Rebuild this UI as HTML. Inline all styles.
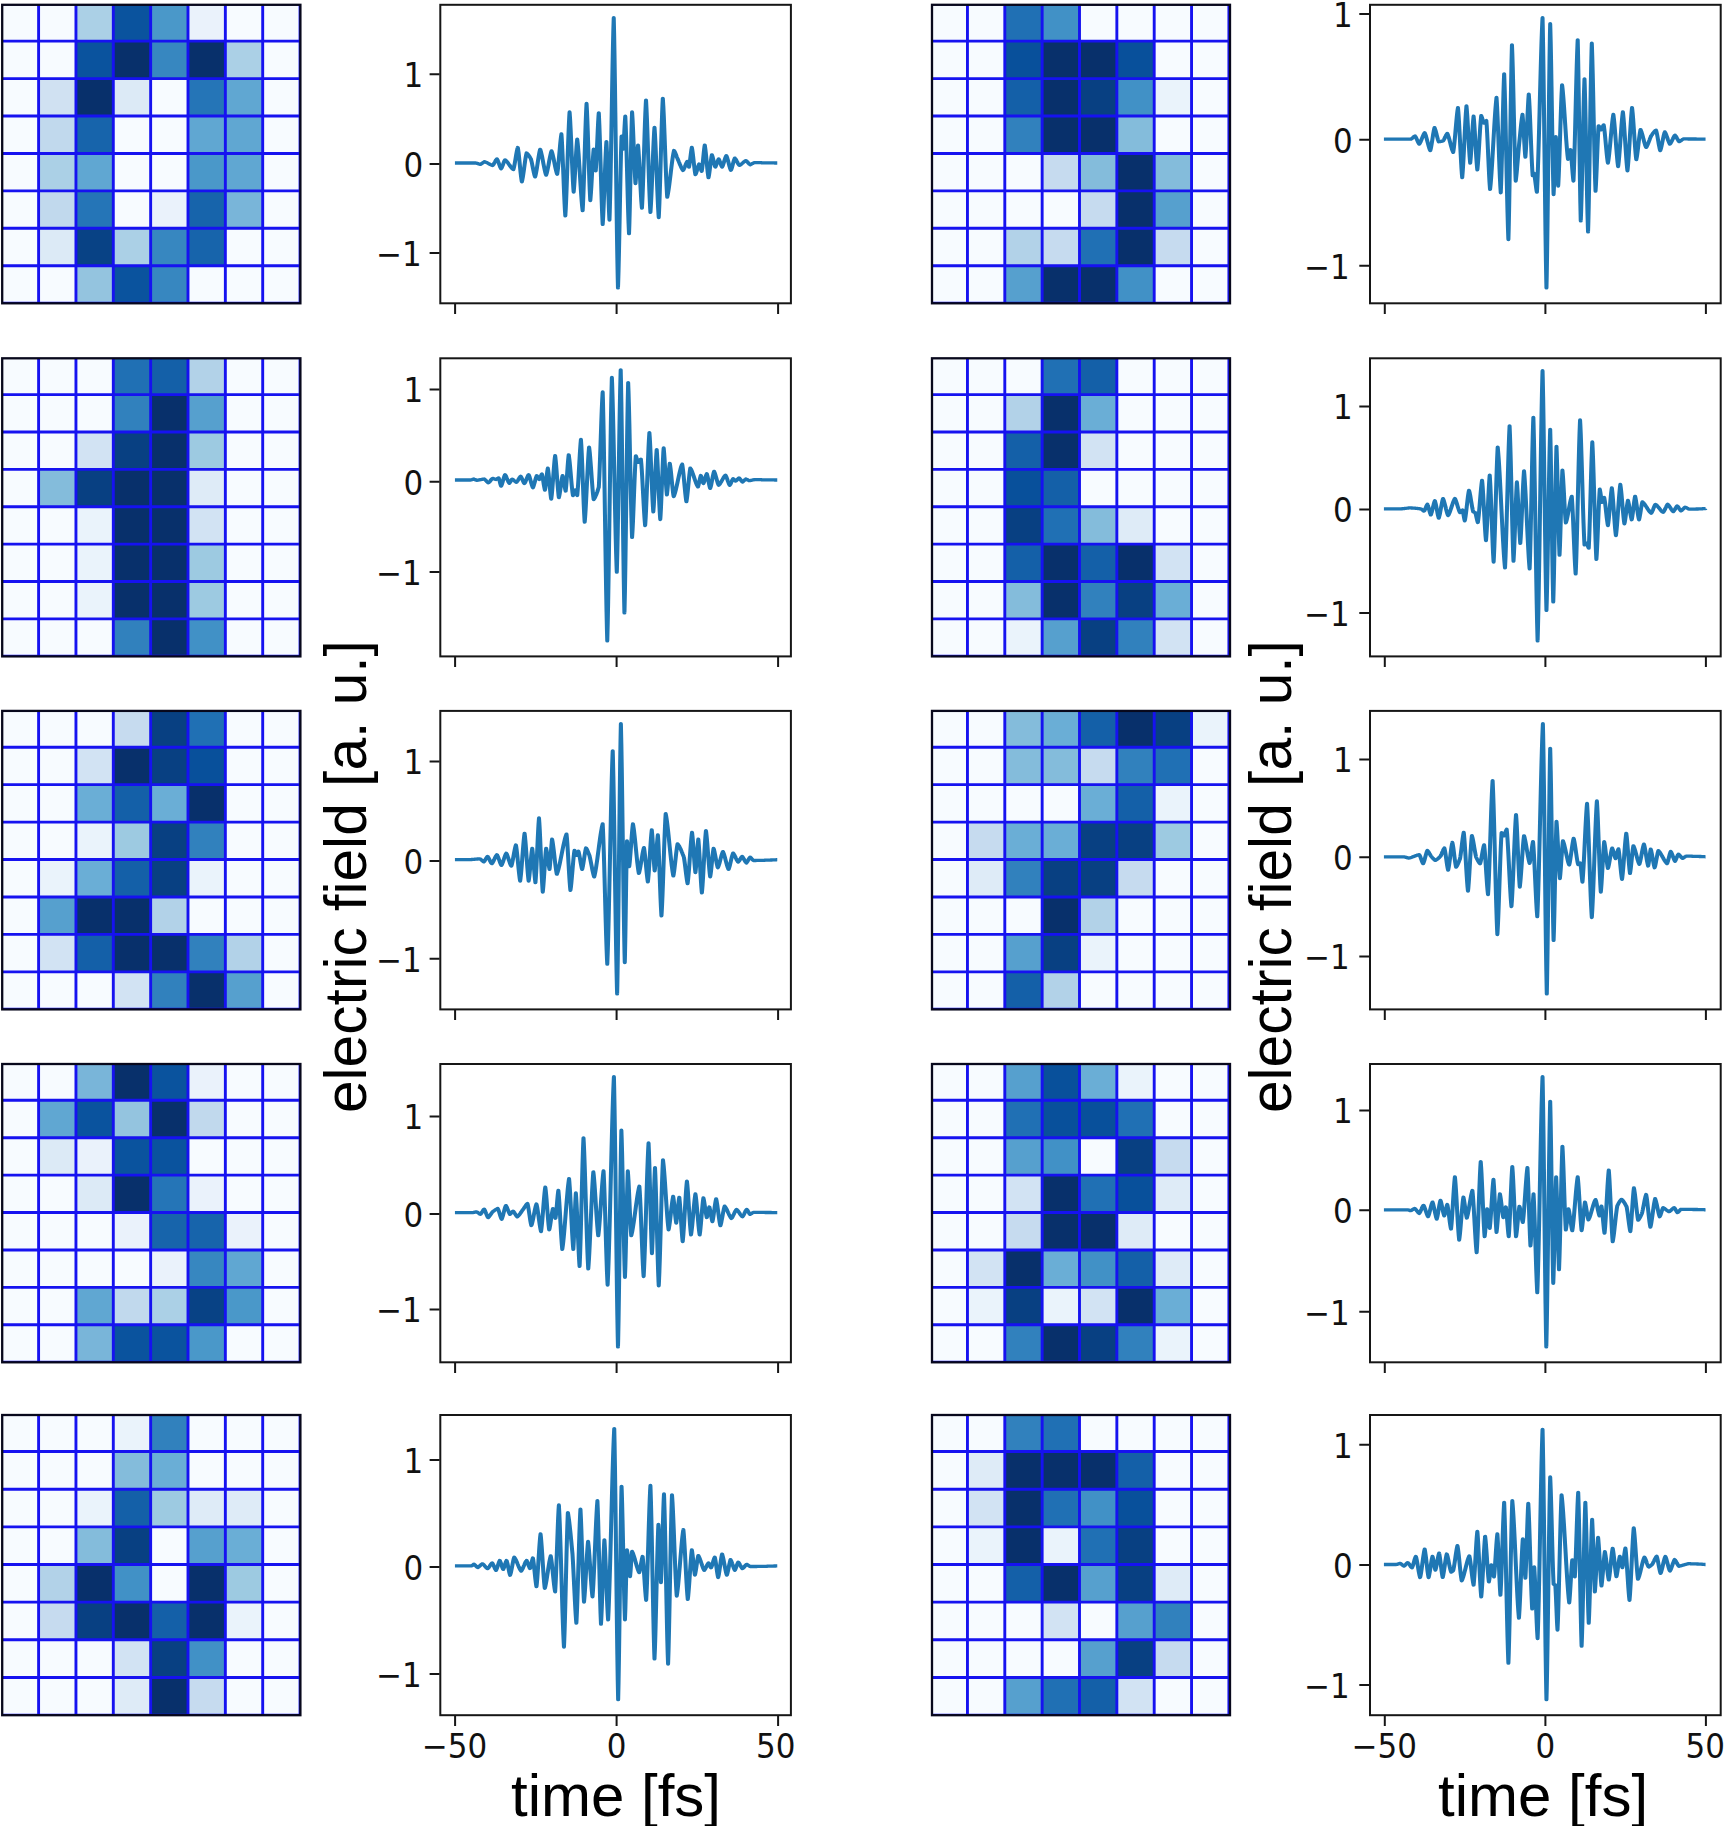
<!DOCTYPE html>
<html lang="en"><head><meta charset="utf-8"><title>Digits encoded as electric field waveforms</title>
<style>html,body{margin:0;padding:0;background:#fff}svg{display:block}.tk{font-family:"DejaVu Sans","Liberation Sans",sans-serif;font-size:31px;fill:#111111}.lb{font-family:"Liberation Sans","DejaVu Sans",sans-serif;font-size:58.7px;fill:#000}</style></head><body>
<svg width="1725" height="1826" viewBox="0 0 1725 1826">
<rect width="1725" height="1826" fill="#ffffff"/>
<clipPath id="hc0"><rect x="2.2" y="4.8" width="298.2" height="298.5"/></clipPath>
<g clip-path="url(#hc0)">
<g shape-rendering="crispEdges">
<rect x="1.25" y="3.7" width="37.85" height="37.94" fill="#f7fbff"/>
<rect x="38.6" y="3.7" width="37.85" height="37.94" fill="#f7fbff"/>
<rect x="75.95" y="3.7" width="37.85" height="37.94" fill="#abd0e6"/>
<rect x="113.3" y="3.7" width="37.85" height="37.94" fill="#0a539e"/>
<rect x="150.65" y="3.7" width="37.85" height="37.94" fill="#4a98c9"/>
<rect x="188" y="3.7" width="37.85" height="37.94" fill="#eaf2fb"/>
<rect x="225.35" y="3.7" width="37.85" height="37.94" fill="#f7fbff"/>
<rect x="262.7" y="3.7" width="37.85" height="37.94" fill="#f7fbff"/>
<rect x="1.25" y="41.14" width="37.85" height="37.94" fill="#f7fbff"/>
<rect x="38.6" y="41.14" width="37.85" height="37.94" fill="#f7fbff"/>
<rect x="75.95" y="41.14" width="37.85" height="37.94" fill="#0a539e"/>
<rect x="113.3" y="41.14" width="37.85" height="37.94" fill="#08306b"/>
<rect x="150.65" y="41.14" width="37.85" height="37.94" fill="#3787c0"/>
<rect x="188" y="41.14" width="37.85" height="37.94" fill="#08306b"/>
<rect x="225.35" y="41.14" width="37.85" height="37.94" fill="#abd0e6"/>
<rect x="262.7" y="41.14" width="37.85" height="37.94" fill="#f7fbff"/>
<rect x="1.25" y="78.58" width="37.85" height="37.94" fill="#f7fbff"/>
<rect x="38.6" y="78.58" width="37.85" height="37.94" fill="#d0e1f2"/>
<rect x="75.95" y="78.58" width="37.85" height="37.94" fill="#08306b"/>
<rect x="113.3" y="78.58" width="37.85" height="37.94" fill="#dceaf6"/>
<rect x="150.65" y="78.58" width="37.85" height="37.94" fill="#f7fbff"/>
<rect x="188" y="78.58" width="37.85" height="37.94" fill="#2575b7"/>
<rect x="225.35" y="78.58" width="37.85" height="37.94" fill="#60a7d2"/>
<rect x="262.7" y="78.58" width="37.85" height="37.94" fill="#f7fbff"/>
<rect x="1.25" y="116.01" width="37.85" height="37.94" fill="#f7fbff"/>
<rect x="38.6" y="116.01" width="37.85" height="37.94" fill="#c1d9ed"/>
<rect x="75.95" y="116.01" width="37.85" height="37.94" fill="#1764ab"/>
<rect x="113.3" y="116.01" width="37.85" height="37.94" fill="#f7fbff"/>
<rect x="150.65" y="116.01" width="37.85" height="37.94" fill="#f7fbff"/>
<rect x="188" y="116.01" width="37.85" height="37.94" fill="#60a7d2"/>
<rect x="225.35" y="116.01" width="37.85" height="37.94" fill="#60a7d2"/>
<rect x="262.7" y="116.01" width="37.85" height="37.94" fill="#f7fbff"/>
<rect x="1.25" y="153.45" width="37.85" height="37.94" fill="#f7fbff"/>
<rect x="38.6" y="153.45" width="37.85" height="37.94" fill="#abd0e6"/>
<rect x="75.95" y="153.45" width="37.85" height="37.94" fill="#60a7d2"/>
<rect x="113.3" y="153.45" width="37.85" height="37.94" fill="#f7fbff"/>
<rect x="150.65" y="153.45" width="37.85" height="37.94" fill="#f7fbff"/>
<rect x="188" y="153.45" width="37.85" height="37.94" fill="#4a98c9"/>
<rect x="225.35" y="153.45" width="37.85" height="37.94" fill="#60a7d2"/>
<rect x="262.7" y="153.45" width="37.85" height="37.94" fill="#f7fbff"/>
<rect x="1.25" y="190.89" width="37.85" height="37.94" fill="#f7fbff"/>
<rect x="38.6" y="190.89" width="37.85" height="37.94" fill="#c1d9ed"/>
<rect x="75.95" y="190.89" width="37.85" height="37.94" fill="#2575b7"/>
<rect x="113.3" y="190.89" width="37.85" height="37.94" fill="#f7fbff"/>
<rect x="150.65" y="190.89" width="37.85" height="37.94" fill="#eaf2fb"/>
<rect x="188" y="190.89" width="37.85" height="37.94" fill="#1764ab"/>
<rect x="225.35" y="190.89" width="37.85" height="37.94" fill="#79b5d9"/>
<rect x="262.7" y="190.89" width="37.85" height="37.94" fill="#f7fbff"/>
<rect x="1.25" y="228.32" width="37.85" height="37.94" fill="#f7fbff"/>
<rect x="38.6" y="228.32" width="37.85" height="37.94" fill="#dceaf6"/>
<rect x="75.95" y="228.32" width="37.85" height="37.94" fill="#084285"/>
<rect x="113.3" y="228.32" width="37.85" height="37.94" fill="#abd0e6"/>
<rect x="150.65" y="228.32" width="37.85" height="37.94" fill="#3787c0"/>
<rect x="188" y="228.32" width="37.85" height="37.94" fill="#1764ab"/>
<rect x="225.35" y="228.32" width="37.85" height="37.94" fill="#f7fbff"/>
<rect x="262.7" y="228.32" width="37.85" height="37.94" fill="#f7fbff"/>
<rect x="1.25" y="265.76" width="37.85" height="37.94" fill="#f7fbff"/>
<rect x="38.6" y="265.76" width="37.85" height="37.94" fill="#f7fbff"/>
<rect x="75.95" y="265.76" width="37.85" height="37.94" fill="#94c4df"/>
<rect x="113.3" y="265.76" width="37.85" height="37.94" fill="#0a539e"/>
<rect x="150.65" y="265.76" width="37.85" height="37.94" fill="#3787c0"/>
<rect x="188" y="265.76" width="37.85" height="37.94" fill="#f7fbff"/>
<rect x="225.35" y="265.76" width="37.85" height="37.94" fill="#f7fbff"/>
<rect x="262.7" y="265.76" width="37.85" height="37.94" fill="#f7fbff"/>
</g>
<path d="M1.25 1.7V305.2M-0.75 3.7H302.05M38.6 1.7V305.2M-0.75 41.14H302.05M75.95 1.7V305.2M-0.75 78.58H302.05M113.3 1.7V305.2M-0.75 116.01H302.05M150.65 1.7V305.2M-0.75 153.45H302.05M188 1.7V305.2M-0.75 190.89H302.05M225.35 1.7V305.2M-0.75 228.32H302.05M262.7 1.7V305.2M-0.75 265.76H302.05M300.05 1.7V305.2M-0.75 303.2H302.05" stroke="#1612f0" stroke-width="2.9" fill="none"/>
</g>
<rect x="2.2" y="4.8" width="298.2" height="298.5" fill="none" stroke="#08081c" stroke-width="2.3"/>
<path transform="scale(1.22 1)" d="M372.90 163.0 373.23 163.0 373.56 163.0 373.89 163.0 374.22 163.0 374.54 163.0 374.87 163.0 375.20 163.0 375.53 163.0 375.86 163.0 376.18 163.0 376.51 163.0 376.84 163.0 377.17 163.0 377.49 163.0 377.82 163.0 378.15 163.0 378.48 163.0 378.81 163.0 379.13 163.0 379.46 163.0 379.79 163.0 380.12 163.0 380.45 163.0 380.77 163.0 381.10 163.0 381.43 163.0 381.76 163.0 382.08 163.0 382.41 163.0 382.74 163.0 383.07 163.0 383.40 163.0 383.72 163.0 384.05 163.0 384.38 163.0 384.71 163.0 385.04 163.0 385.36 163.0 385.69 163.0 386.02 163.0 386.35 163.0 386.67 163.0 387.00 163.0 387.33 163.0 387.66 163.0 387.99 163.0 388.31 163.0 388.64 163.0 388.97 163.0 389.30 163.0 389.63 163.0 389.89 163.0 389.95 163.0 390.28 163.1 390.61 163.2 390.94 163.3 391.27 163.4 391.59 163.6 391.92 163.7 392.25 163.9 392.58 164.0 392.90 164.1 393.23 164.2 393.56 164.3 393.78 164.3 393.89 164.3 394.22 164.1 394.54 163.9 394.87 163.6 395.20 163.3 395.53 163.0 395.86 162.7 396.18 162.4 396.51 162.1 396.84 161.9 397.12 161.7 397.17 161.7 397.49 161.9 397.82 162.0 398.15 162.2 398.48 162.3 398.81 162.5 399.13 162.7 399.46 162.9 399.79 163.1 400.12 163.4 400.45 163.6 400.77 163.8 401.10 164.0 401.43 164.2 401.76 164.5 402.08 164.7 402.41 164.8 402.74 165.0 403.07 165.2 403.40 165.3 403.72 165.4 403.80 165.5 404.05 165.2 404.38 164.7 404.71 164.0 405.04 163.4 405.36 162.6 405.69 161.9 406.02 161.1 406.35 160.4 406.67 159.8 407.00 159.3 407.28 159.0 407.33 159.0 407.66 159.7 407.99 160.5 408.31 161.5 408.64 162.5 408.97 163.6 409.30 164.8 409.63 165.9 409.95 166.9 410.28 167.7 410.61 168.4 410.76 168.7 410.94 168.4 411.27 167.7 411.59 166.8 411.92 165.8 412.25 164.7 412.58 163.6 412.90 162.5 413.23 161.5 413.56 160.7 413.89 160.0 413.97 159.9 414.22 160.1 414.54 160.4 414.87 160.8 415.20 161.2 415.53 161.7 415.86 162.2 416.18 162.7 416.51 163.2 416.84 163.8 417.17 164.3 417.49 164.9 417.82 165.5 418.15 166.0 418.48 166.6 418.81 167.1 419.13 167.6 419.46 168.1 419.79 168.5 420.12 168.9 420.45 169.2 420.77 169.5 420.79 169.5 421.10 168.3 421.43 166.6 421.76 164.5 422.08 162.3 422.41 159.9 422.74 157.4 423.07 155.0 423.40 152.8 423.72 150.7 424.05 149.0 424.38 147.6 424.40 147.5 424.71 149.6 425.04 152.5 425.36 156.0 425.69 159.9 426.02 164.0 426.35 168.1 426.67 172.0 427.00 175.7 427.33 178.8 427.66 181.3 427.75 181.8 427.99 180.7 428.31 178.7 428.64 176.4 428.97 173.8 429.30 171.0 429.63 168.0 429.95 165.1 430.28 162.2 430.61 159.4 430.94 157.0 431.27 154.9 431.59 153.2 431.64 153.0 431.92 153.3 432.25 153.7 432.58 154.1 432.90 154.6 433.23 155.1 433.56 155.7 433.89 156.3 434.22 156.9 434.54 157.6 434.87 158.3 435.12 158.8 435.20 159.1 435.53 160.6 435.86 162.3 436.18 164.2 436.51 166.2 436.84 168.2 437.17 170.2 437.49 172.1 437.82 173.8 438.15 175.3 438.48 176.6 438.60 176.9 438.81 176.1 439.13 174.5 439.46 172.5 439.79 170.2 440.12 167.7 440.45 165.1 440.77 162.5 441.10 159.8 441.43 157.3 441.76 154.9 442.08 152.8 442.41 150.9 442.74 149.5 442.78 149.3 443.07 150.3 443.40 151.6 443.72 153.2 444.05 155.0 444.38 156.9 444.71 158.9 445.04 161.0 445.36 163.2 445.69 165.3 446.02 167.3 446.35 169.2 446.67 171.0 447.00 172.6 447.33 174.0 447.65 175.1 447.66 175.0 447.99 173.9 448.31 172.4 448.64 170.7 448.97 168.8 449.30 166.8 449.63 164.7 449.95 162.5 450.28 160.3 450.61 158.2 450.94 156.3 451.27 154.5 451.59 152.9 451.92 151.5 452.10 150.9 452.25 151.4 452.58 152.6 452.90 154.0 453.23 155.7 453.56 157.5 453.89 159.4 454.22 161.5 454.54 163.5 454.87 165.5 455.20 167.5 455.53 169.3 455.86 171.0 456.18 172.4 456.51 173.7 456.70 174.2 456.84 173.2 457.17 170.4 457.49 166.8 457.82 162.6 458.15 158.2 458.48 153.6 458.81 149.0 459.13 144.6 459.46 140.6 459.79 137.1 460.12 134.4 460.18 134.0 460.45 138.6 460.77 145.8 461.10 154.5 461.43 164.1 461.76 174.3 462.08 184.5 462.41 194.2 462.74 203.0 463.07 210.5 463.38 215.8 463.40 215.5 463.72 208.8 464.05 200.1 464.38 189.9 464.71 178.7 465.04 166.9 465.36 154.9 465.69 143.3 466.02 132.5 466.35 123.1 466.67 115.3 466.86 112.0 467.00 114.1 467.33 120.2 467.66 127.7 467.99 136.4 468.31 145.7 468.64 155.3 468.97 164.8 469.30 173.7 469.63 181.6 469.95 188.2 470.20 192.0 470.28 191.1 470.61 186.6 470.94 180.8 471.27 174.2 471.59 167.0 471.92 159.8 472.25 152.9 472.58 146.7 472.90 141.7 473.12 139.1 473.23 140.2 473.56 143.9 473.89 148.5 474.22 153.7 474.54 159.5 474.87 165.6 475.20 172.0 475.53 178.4 475.86 184.8 476.18 190.9 476.51 196.6 476.84 201.8 477.17 206.3 477.49 209.9 477.58 210.7 477.82 205.3 478.15 196.0 478.48 184.7 478.81 172.1 479.13 158.8 479.46 145.4 479.79 132.6 480.12 120.9 480.45 111.0 480.77 103.5 480.78 103.5 481.10 110.5 481.43 120.0 481.76 131.1 482.08 143.4 482.41 156.1 482.74 168.5 483.07 180.2 483.40 190.3 483.72 198.3 483.84 200.5 484.05 197.9 484.38 192.7 484.71 186.3 485.04 179.2 485.36 171.8 485.69 164.7 486.02 158.1 486.35 152.6 486.62 149.2 486.67 149.6 487.00 153.2 487.33 158.0 487.66 163.2 487.99 167.8 488.29 170.9 488.31 170.6 488.64 165.1 488.97 157.6 489.30 148.8 489.63 139.6 489.95 130.5 490.28 122.3 490.61 115.6 490.80 112.8 490.94 115.8 491.27 124.7 491.59 135.8 491.92 148.5 492.25 162.2 492.58 176.1 492.90 189.7 493.23 202.3 493.56 213.3 493.89 221.9 494.00 224.3 494.22 220.5 494.54 213.1 494.87 204.0 495.20 193.8 495.53 183.1 495.86 172.3 496.18 162.1 496.51 153.0 496.84 145.5 497.06 141.7 497.17 143.7 497.49 151.9 497.82 162.5 498.15 174.6 498.48 187.1 498.81 199.2 499.13 209.8 499.46 218.0 499.57 220.0 499.79 211.9 500.12 196.4 500.45 177.7 500.77 156.6 501.10 134.0 501.43 110.8 501.76 87.9 502.08 66.2 502.41 46.7 502.74 30.1 503.06 17.7 503.07 18.0 503.40 35.1 503.72 57.5 504.05 83.9 504.38 113.1 504.71 143.9 505.04 175.0 505.36 205.2 505.69 233.4 506.02 258.2 506.35 278.5 506.54 287.9 506.67 283.7 507.00 270.2 507.33 253.2 507.66 233.8 507.99 213.2 508.31 192.5 508.64 172.9 508.97 155.6 509.30 141.6 509.46 136.2 509.63 137.2 509.95 140.3 510.28 144.0 510.61 147.3 510.86 149.1 510.94 148.1 511.27 142.4 511.59 135.0 511.92 127.2 512.25 120.3 512.53 116.2 512.58 117.3 512.90 126.4 513.23 138.2 513.56 152.0 513.89 166.9 514.22 182.3 514.54 197.3 514.87 211.1 515.20 223.0 515.53 232.2 515.59 233.6 515.86 224.8 516.18 210.0 516.51 192.2 516.84 173.0 517.17 153.7 517.49 135.9 517.82 121.0 518.09 112.0 518.15 112.8 518.48 119.1 518.81 127.3 519.13 136.8 519.46 147.0 519.79 157.2 520.12 166.8 520.45 175.3 520.77 181.9 520.88 183.5 521.10 180.7 521.43 175.0 521.76 168.0 522.08 160.6 522.41 153.7 522.74 147.9 522.97 145.1 523.07 146.3 523.40 151.1 523.72 157.3 524.05 164.4 524.38 172.1 524.71 180.0 525.04 187.7 525.36 194.9 525.69 201.3 526.02 206.3 526.17 208.1 526.35 204.5 526.67 196.1 527.00 185.7 527.33 173.9 527.66 161.2 527.99 148.2 528.31 135.5 528.64 123.6 528.97 113.0 529.30 104.4 529.51 100.1 529.63 102.2 529.95 109.8 530.28 119.2 530.61 130.1 530.94 141.9 531.27 154.2 531.59 166.6 531.92 178.7 532.25 189.9 532.58 199.8 532.90 208.0 533.13 212.4 533.23 210.8 533.56 204.5 533.89 196.7 534.22 187.6 534.54 177.7 534.87 167.5 535.20 157.4 535.53 147.8 535.86 139.2 536.18 132.0 536.47 127.3 536.51 127.9 536.84 133.8 537.17 141.5 537.49 150.4 537.82 160.2 538.15 170.5 538.48 180.9 538.81 191.0 539.13 200.2 539.46 208.4 539.79 215.0 539.95 217.5 540.12 213.7 540.45 204.5 540.77 193.1 541.10 180.1 541.43 166.1 541.76 151.9 542.08 137.8 542.41 124.7 542.74 113.0 543.07 103.4 543.29 98.4 543.40 100.1 543.72 106.7 544.05 114.9 544.38 124.5 544.71 134.8 545.04 145.7 545.36 156.6 545.69 167.2 546.02 177.1 546.35 185.8 546.67 193.1 546.91 197.1 547.00 196.6 547.33 194.8 547.66 192.6 547.99 190.1 548.31 187.3 548.64 184.3 548.97 181.1 549.30 177.8 549.63 174.5 549.95 171.1 550.28 167.8 550.61 164.6 550.94 161.5 551.27 158.6 551.59 156.0 551.92 153.7 552.25 151.7 552.47 150.5 552.58 150.7 552.90 151.3 553.23 152.1 553.56 153.0 553.89 154.0 554.22 155.0 554.54 156.1 554.87 157.2 555.20 158.2 555.53 159.2 555.68 159.6 555.86 160.1 556.18 161.0 556.51 162.0 556.84 162.9 557.17 163.9 557.49 164.9 557.82 165.8 558.15 166.7 558.48 167.6 558.81 168.4 559.13 169.1 559.46 169.8 559.79 170.3 559.85 170.4 560.12 170.0 560.45 169.3 560.77 168.4 561.10 167.5 561.43 166.5 561.76 165.4 562.08 164.4 562.41 163.5 562.74 162.6 563.07 161.9 563.33 161.5 563.40 161.6 563.72 162.8 564.05 164.4 564.38 166.0 564.71 167.1 564.72 167.1 565.04 165.3 565.36 162.6 565.69 159.4 566.02 156.1 566.35 152.9 566.67 150.1 567.00 147.9 567.09 147.4 567.33 148.9 567.66 151.6 567.99 154.8 568.31 158.3 568.64 162.1 568.97 165.7 569.30 169.1 569.63 172.0 569.95 174.3 570.01 174.6 570.28 174.0 570.61 173.0 570.94 171.8 571.27 170.5 571.59 169.1 571.92 167.8 572.25 166.5 572.58 165.4 572.90 164.4 573.07 164.1 573.23 164.4 573.56 165.4 573.89 166.7 574.22 168.1 574.54 169.4 574.87 170.6 575.16 171.3 575.20 171.1 575.53 168.5 575.86 165.1 576.18 161.1 576.51 157.0 576.84 152.9 577.17 149.2 577.49 146.2 577.67 145.1 577.82 146.1 578.15 148.9 578.48 152.4 578.81 156.3 579.13 160.5 579.46 164.8 579.79 168.9 580.12 172.6 580.45 175.6 580.73 177.7 580.77 177.5 581.10 175.5 581.43 172.9 581.76 169.9 582.08 166.6 582.41 163.4 582.74 160.3 583.07 157.6 583.40 155.5 583.51 154.9 583.72 155.5 584.05 156.7 584.38 158.2 584.71 159.9 585.04 161.6 585.36 163.4 585.69 164.9 586.02 166.2 586.30 167.0 586.35 167.0 586.67 166.3 587.00 165.3 587.33 164.3 587.66 163.1 587.99 162.0 588.31 160.9 588.64 159.9 588.97 159.2 589.08 159.0 589.30 159.4 589.63 160.2 589.95 161.2 590.28 162.3 590.61 163.5 590.94 164.6 591.27 165.7 591.59 166.5 591.87 167.0 591.92 166.9 592.25 166.2 592.58 165.2 592.90 164.1 593.23 162.8 593.56 161.5 593.89 160.2 594.22 159.0 594.54 157.8 594.87 156.8 595.20 156.0 595.34 155.7 595.53 156.1 595.86 157.1 596.18 158.3 596.51 159.7 596.84 161.2 597.17 162.7 597.49 164.3 597.82 165.8 598.15 167.2 598.48 168.5 598.81 169.6 599.10 170.3 599.13 170.3 599.46 169.4 599.79 168.2 600.12 166.9 600.45 165.4 600.77 163.9 601.10 162.4 601.43 161.0 601.76 159.7 602.08 158.7 602.30 158.1 602.41 158.3 602.74 158.7 603.07 159.3 603.40 160.0 603.72 160.7 604.05 161.5 604.38 162.2 604.71 163.0 605.04 163.7 605.36 164.4 605.69 164.9 606.02 165.4 606.06 165.4 606.35 165.3 606.67 165.0 607.00 164.8 607.33 164.5 607.66 164.1 607.99 163.8 608.31 163.4 608.64 163.1 608.97 162.7 609.30 162.4 609.63 162.0 609.95 161.7 610.28 161.4 610.61 161.1 610.94 160.8 611.27 160.6 611.35 160.6 611.59 160.8 611.92 161.1 612.25 161.5 612.58 161.9 612.90 162.4 613.23 162.8 613.56 163.3 613.89 163.7 614.22 164.1 614.54 164.4 614.83 164.7 614.87 164.6 615.20 164.5 615.53 164.4 615.86 164.2 616.18 163.9 616.51 163.7 616.84 163.5 617.17 163.3 617.49 163.1 617.82 162.9 618.15 162.7 618.31 162.7 618.48 162.7 618.81 162.7 619.13 162.7 619.46 162.7 619.79 162.7 620.12 162.7 620.45 162.7 620.77 162.7 621.10 162.7 621.43 162.7 621.76 162.7 622.08 162.7 622.41 162.7 622.74 162.7 623.07 162.7 623.40 162.7 623.72 162.7 624.05 162.7 624.38 162.8 624.71 162.8 625.04 162.8 625.36 162.8 625.69 162.8 626.02 162.8 626.35 162.8 626.67 162.8 627.00 162.8 627.33 162.8 627.66 162.8 627.99 162.8 628.31 162.8 628.64 162.8 628.97 162.8 629.30 162.8 629.63 162.8 629.95 162.8 630.28 162.8 630.61 162.8 630.94 162.9 631.27 162.9 631.59 162.9 631.92 162.9 632.25 162.9 632.58 162.9 632.90 162.9 633.23 162.9 633.56 162.9 633.89 162.9 634.22 162.9 634.54 162.9 634.87 163.0 635.20 163.0 635.53 163.0 635.86 163.0 636.18 163.0 636.51 163.0 636.84 163.0 637.10 163.0" fill="none" stroke="#1f77b4" stroke-width="3.3" stroke-linejoin="round" stroke-linecap="butt"/>
<rect x="440.3" y="4.8" width="350.6" height="298.5" fill="none" stroke="#161616" stroke-width="2"/>
<path d="M455.1 304v10M616.6 304v10M778.1 304v10M439.6 74.2h-10M439.6 164.1h-10M439.6 253.1h-10" stroke="#161616" stroke-width="2" fill="none"/>
<text class="tk" transform="translate(423.1 87.03) scale(1 1.1)" text-anchor="end">1</text>
<text class="tk" transform="translate(423.1 176.93) scale(1 1.1)" text-anchor="end">0</text>
<text class="tk" transform="translate(421.6 265.93) scale(1 1.1)" text-anchor="end">−1</text>
<clipPath id="hc1"><rect x="932" y="4.8" width="298" height="298.5"/></clipPath>
<g clip-path="url(#hc1)">
<g shape-rendering="crispEdges">
<rect x="930.1" y="3.7" width="37.85" height="37.94" fill="#f7fbff"/>
<rect x="967.45" y="3.7" width="37.85" height="37.94" fill="#f7fbff"/>
<rect x="1004.8" y="3.7" width="37.85" height="37.94" fill="#2070b4"/>
<rect x="1042.15" y="3.7" width="37.85" height="37.94" fill="#4191c6"/>
<rect x="1079.5" y="3.7" width="37.85" height="37.94" fill="#f7fbff"/>
<rect x="1116.85" y="3.7" width="37.85" height="37.94" fill="#f7fbff"/>
<rect x="1154.2" y="3.7" width="37.85" height="37.94" fill="#f7fbff"/>
<rect x="1191.55" y="3.7" width="37.85" height="37.94" fill="#f7fbff"/>
<rect x="930.1" y="41.14" width="37.85" height="37.94" fill="#f7fbff"/>
<rect x="967.45" y="41.14" width="37.85" height="37.94" fill="#f7fbff"/>
<rect x="1004.8" y="41.14" width="37.85" height="37.94" fill="#08509b"/>
<rect x="1042.15" y="41.14" width="37.85" height="37.94" fill="#08306b"/>
<rect x="1079.5" y="41.14" width="37.85" height="37.94" fill="#08306b"/>
<rect x="1116.85" y="41.14" width="37.85" height="37.94" fill="#08509b"/>
<rect x="1154.2" y="41.14" width="37.85" height="37.94" fill="#f7fbff"/>
<rect x="1191.55" y="41.14" width="37.85" height="37.94" fill="#f7fbff"/>
<rect x="930.1" y="78.58" width="37.85" height="37.94" fill="#f7fbff"/>
<rect x="967.45" y="78.58" width="37.85" height="37.94" fill="#f7fbff"/>
<rect x="1004.8" y="78.58" width="37.85" height="37.94" fill="#1460a8"/>
<rect x="1042.15" y="78.58" width="37.85" height="37.94" fill="#08306b"/>
<rect x="1079.5" y="78.58" width="37.85" height="37.94" fill="#084082"/>
<rect x="1116.85" y="78.58" width="37.85" height="37.94" fill="#4191c6"/>
<rect x="1154.2" y="78.58" width="37.85" height="37.94" fill="#eaf3fb"/>
<rect x="1191.55" y="78.58" width="37.85" height="37.94" fill="#f7fbff"/>
<rect x="930.1" y="116.01" width="37.85" height="37.94" fill="#f7fbff"/>
<rect x="967.45" y="116.01" width="37.85" height="37.94" fill="#f7fbff"/>
<rect x="1004.8" y="116.01" width="37.85" height="37.94" fill="#3181bd"/>
<rect x="1042.15" y="116.01" width="37.85" height="37.94" fill="#08306b"/>
<rect x="1079.5" y="116.01" width="37.85" height="37.94" fill="#08306b"/>
<rect x="1116.85" y="116.01" width="37.85" height="37.94" fill="#84bcdb"/>
<rect x="1154.2" y="116.01" width="37.85" height="37.94" fill="#f7fbff"/>
<rect x="1191.55" y="116.01" width="37.85" height="37.94" fill="#f7fbff"/>
<rect x="930.1" y="153.45" width="37.85" height="37.94" fill="#f7fbff"/>
<rect x="967.45" y="153.45" width="37.85" height="37.94" fill="#f7fbff"/>
<rect x="1004.8" y="153.45" width="37.85" height="37.94" fill="#f7fbff"/>
<rect x="1042.15" y="153.45" width="37.85" height="37.94" fill="#c6dbef"/>
<rect x="1079.5" y="153.45" width="37.85" height="37.94" fill="#84bcdb"/>
<rect x="1116.85" y="153.45" width="37.85" height="37.94" fill="#08306b"/>
<rect x="1154.2" y="153.45" width="37.85" height="37.94" fill="#84bcdb"/>
<rect x="1191.55" y="153.45" width="37.85" height="37.94" fill="#f7fbff"/>
<rect x="930.1" y="190.89" width="37.85" height="37.94" fill="#f7fbff"/>
<rect x="967.45" y="190.89" width="37.85" height="37.94" fill="#f7fbff"/>
<rect x="1004.8" y="190.89" width="37.85" height="37.94" fill="#f7fbff"/>
<rect x="1042.15" y="190.89" width="37.85" height="37.94" fill="#f7fbff"/>
<rect x="1079.5" y="190.89" width="37.85" height="37.94" fill="#c6dbef"/>
<rect x="1116.85" y="190.89" width="37.85" height="37.94" fill="#08306b"/>
<rect x="1154.2" y="190.89" width="37.85" height="37.94" fill="#56a0ce"/>
<rect x="1191.55" y="190.89" width="37.85" height="37.94" fill="#f7fbff"/>
<rect x="930.1" y="228.32" width="37.85" height="37.94" fill="#f7fbff"/>
<rect x="967.45" y="228.32" width="37.85" height="37.94" fill="#f7fbff"/>
<rect x="1004.8" y="228.32" width="37.85" height="37.94" fill="#b2d2e8"/>
<rect x="1042.15" y="228.32" width="37.85" height="37.94" fill="#c6dbef"/>
<rect x="1079.5" y="228.32" width="37.85" height="37.94" fill="#2070b4"/>
<rect x="1116.85" y="228.32" width="37.85" height="37.94" fill="#08306b"/>
<rect x="1154.2" y="228.32" width="37.85" height="37.94" fill="#c6dbef"/>
<rect x="1191.55" y="228.32" width="37.85" height="37.94" fill="#f7fbff"/>
<rect x="930.1" y="265.76" width="37.85" height="37.94" fill="#f7fbff"/>
<rect x="967.45" y="265.76" width="37.85" height="37.94" fill="#f7fbff"/>
<rect x="1004.8" y="265.76" width="37.85" height="37.94" fill="#56a0ce"/>
<rect x="1042.15" y="265.76" width="37.85" height="37.94" fill="#08306b"/>
<rect x="1079.5" y="265.76" width="37.85" height="37.94" fill="#08306b"/>
<rect x="1116.85" y="265.76" width="37.85" height="37.94" fill="#4191c6"/>
<rect x="1154.2" y="265.76" width="37.85" height="37.94" fill="#f7fbff"/>
<rect x="1191.55" y="265.76" width="37.85" height="37.94" fill="#f7fbff"/>
</g>
<path d="M930.1 1.7V305.2M928.1 3.7H1230.9M967.45 1.7V305.2M928.1 41.14H1230.9M1004.8 1.7V305.2M928.1 78.58H1230.9M1042.15 1.7V305.2M928.1 116.01H1230.9M1079.5 1.7V305.2M928.1 153.45H1230.9M1116.85 1.7V305.2M928.1 190.89H1230.9M1154.2 1.7V305.2M928.1 228.32H1230.9M1191.55 1.7V305.2M928.1 265.76H1230.9M1228.9 1.7V305.2M928.1 303.2H1230.9" stroke="#1612f0" stroke-width="2.9" fill="none"/>
</g>
<rect x="932" y="4.8" width="298" height="298.5" fill="none" stroke="#08081c" stroke-width="2.3"/>
<path transform="scale(1.22 1)" d="M1134.36 139.2 1134.69 139.2 1135.02 139.2 1135.35 139.2 1135.68 139.2 1136.00 139.2 1136.33 139.2 1136.66 139.2 1136.99 139.2 1137.32 139.2 1137.64 139.2 1137.97 139.2 1138.30 139.2 1138.63 139.2 1138.95 139.2 1139.28 139.2 1139.61 139.2 1139.94 139.2 1140.27 139.2 1140.59 139.2 1140.92 139.2 1141.25 139.2 1141.58 139.2 1141.91 139.2 1142.23 139.2 1142.56 139.2 1142.89 139.2 1143.22 139.2 1143.54 139.2 1143.87 139.2 1144.20 139.2 1144.53 139.2 1144.86 139.2 1145.18 139.2 1145.51 139.2 1145.84 139.2 1146.17 139.2 1146.50 139.2 1146.82 139.2 1147.15 139.2 1147.48 139.2 1147.81 139.2 1148.13 139.2 1148.46 139.2 1148.79 139.2 1149.12 139.2 1149.45 139.2 1149.77 139.2 1150.10 139.2 1150.43 139.2 1150.76 139.2 1151.09 139.2 1151.41 139.2 1151.74 139.2 1152.07 139.2 1152.40 139.2 1152.73 139.2 1153.05 139.2 1153.38 139.2 1153.71 139.2 1154.04 139.2 1154.36 139.2 1154.69 139.2 1155.02 139.2 1155.35 139.2 1155.68 139.2 1156.00 139.2 1156.33 139.2 1156.36 139.2 1156.66 139.1 1156.99 138.8 1157.32 138.5 1157.64 138.1 1157.97 137.7 1158.30 137.4 1158.63 137.0 1158.95 136.6 1159.28 136.3 1159.61 136.1 1159.84 135.9 1159.94 136.1 1160.27 136.7 1160.59 137.4 1160.92 138.2 1161.25 139.1 1161.58 140.0 1161.91 141.0 1162.23 141.9 1162.56 142.7 1162.89 143.4 1163.22 144.0 1163.32 144.1 1163.54 143.8 1163.87 143.1 1164.20 142.3 1164.53 141.5 1164.86 140.5 1165.18 139.6 1165.51 138.5 1165.84 137.5 1166.17 136.5 1166.50 135.6 1166.82 134.7 1167.15 133.9 1167.48 133.2 1167.77 132.8 1167.81 132.9 1168.13 133.7 1168.46 134.7 1168.79 136.0 1169.12 137.3 1169.45 138.8 1169.77 140.3 1170.10 141.9 1170.43 143.4 1170.76 144.9 1171.09 146.4 1171.41 147.7 1171.74 148.9 1172.07 149.9 1172.36 150.6 1172.40 150.5 1172.73 149.0 1173.05 147.1 1173.38 144.8 1173.71 142.3 1174.04 139.7 1174.36 137.1 1174.69 134.5 1175.02 132.2 1175.35 130.1 1175.68 128.4 1175.84 127.7 1176.00 128.1 1176.33 129.2 1176.66 130.4 1176.99 131.9 1177.32 133.4 1177.64 135.1 1177.97 136.7 1178.30 138.2 1178.63 139.6 1178.95 140.8 1179.28 141.7 1179.32 141.8 1179.61 141.7 1179.94 141.7 1180.27 141.6 1180.59 141.5 1180.92 141.5 1181.25 141.4 1181.58 141.3 1181.91 141.2 1182.23 141.1 1182.56 141.0 1182.80 140.9 1182.89 140.8 1183.22 140.3 1183.54 139.6 1183.87 138.8 1184.20 138.0 1184.53 137.2 1184.86 136.3 1185.18 135.5 1185.51 134.8 1185.84 134.2 1186.17 133.7 1186.28 133.5 1186.50 134.0 1186.82 134.9 1187.15 136.1 1187.48 137.3 1187.81 138.7 1188.13 140.2 1188.46 141.7 1188.79 143.2 1189.12 144.8 1189.45 146.3 1189.77 147.7 1190.10 149.1 1190.43 150.3 1190.76 151.3 1191.09 152.2 1191.15 152.3 1191.41 150.4 1191.74 147.4 1192.07 143.7 1192.40 139.7 1192.73 135.3 1193.05 130.7 1193.38 126.1 1193.71 121.7 1194.04 117.5 1194.36 113.7 1194.69 110.5 1195.02 107.9 1195.05 107.7 1195.35 111.6 1195.68 117.3 1196.00 124.0 1196.33 131.5 1196.66 139.4 1196.99 147.5 1197.32 155.3 1197.64 162.7 1197.97 169.2 1198.30 174.6 1198.53 177.6 1198.63 176.4 1198.95 171.5 1199.28 165.2 1199.61 158.0 1199.94 150.1 1200.27 141.9 1200.59 133.7 1200.92 125.8 1201.25 118.6 1201.58 112.3 1201.91 107.3 1202.01 106.0 1202.23 108.7 1202.56 113.9 1202.89 120.2 1203.22 127.2 1203.54 134.6 1203.87 142.1 1204.20 149.1 1204.53 155.4 1204.86 160.5 1205.07 163.1 1205.18 162.0 1205.51 157.6 1205.84 152.1 1206.17 145.7 1206.50 139.0 1206.82 132.4 1207.15 126.1 1207.48 120.8 1207.81 116.7 1207.86 116.2 1208.13 119.5 1208.46 124.5 1208.79 130.6 1209.12 137.3 1209.45 144.3 1209.77 151.3 1210.10 157.8 1210.43 163.6 1210.76 168.2 1210.92 169.9 1211.09 168.2 1211.41 163.7 1211.74 158.2 1212.07 152.0 1212.40 145.3 1212.73 138.5 1213.05 131.9 1213.38 125.9 1213.71 120.6 1214.04 116.5 1214.12 115.7 1214.36 116.3 1214.69 117.4 1215.02 118.7 1215.35 120.2 1215.68 121.5 1216.00 122.6 1216.21 123.0 1216.33 123.0 1216.66 122.6 1216.99 122.2 1217.32 121.8 1217.64 121.3 1217.97 120.9 1218.30 120.6 1218.30 120.7 1218.63 125.7 1218.95 132.5 1219.28 140.4 1219.61 149.1 1219.94 158.1 1220.27 166.9 1220.59 175.2 1220.92 182.4 1221.25 188.0 1221.36 189.4 1221.58 187.1 1221.91 183.0 1222.23 178.1 1222.56 172.5 1222.89 166.4 1223.22 159.9 1223.54 153.2 1223.87 146.3 1224.20 139.3 1224.53 132.4 1224.86 125.7 1225.18 119.3 1225.51 113.3 1225.84 107.8 1226.17 103.1 1226.50 99.1 1226.65 97.5 1226.82 100.5 1227.15 107.6 1227.48 116.3 1227.81 126.1 1228.13 136.8 1228.46 147.7 1228.79 158.6 1229.12 168.9 1229.45 178.3 1229.77 186.3 1230.10 192.5 1230.13 192.8 1230.43 183.9 1230.76 171.0 1231.09 155.6 1231.41 138.8 1231.74 121.7 1232.07 105.3 1232.40 90.6 1232.73 78.8 1232.91 73.8 1233.05 77.9 1233.38 89.8 1233.71 104.6 1234.04 121.6 1234.36 140.0 1234.69 159.1 1235.02 178.0 1235.35 196.2 1235.68 212.7 1236.00 226.9 1236.33 237.9 1236.39 239.5 1236.66 227.6 1236.99 208.2 1237.32 184.9 1237.64 159.2 1237.97 132.5 1238.30 106.4 1238.63 82.3 1238.95 61.7 1239.28 46.1 1239.31 44.9 1239.61 53.8 1239.94 66.8 1240.27 82.3 1240.59 99.4 1240.92 117.1 1241.25 134.7 1241.58 151.1 1241.91 165.6 1242.23 177.1 1242.38 181.0 1242.56 179.5 1242.89 176.2 1243.22 172.2 1243.54 167.7 1243.87 162.9 1244.20 158.0 1244.53 153.1 1244.86 148.4 1245.16 144.3 1245.18 144.1 1245.51 140.2 1245.84 136.3 1246.17 132.2 1246.50 128.2 1246.82 124.5 1247.15 121.0 1247.48 117.9 1247.81 115.4 1247.94 114.5 1248.13 116.8 1248.46 122.0 1248.79 128.5 1249.12 135.7 1249.45 142.8 1249.77 149.4 1250.10 154.7 1250.31 157.2 1250.43 155.5 1250.76 149.6 1251.09 142.1 1251.41 133.6 1251.74 124.5 1252.07 115.6 1252.40 107.2 1252.73 100.1 1253.05 94.7 1253.09 94.1 1253.38 99.0 1253.71 106.3 1254.04 115.0 1254.36 124.7 1254.69 134.9 1255.02 145.0 1255.35 154.7 1255.68 163.4 1256.00 170.8 1256.29 175.7 1256.33 175.6 1256.66 175.0 1256.99 174.1 1257.32 173.4 1257.41 173.3 1257.64 174.5 1257.97 177.0 1258.30 179.9 1258.63 183.1 1258.95 186.2 1259.28 189.1 1259.61 191.4 1259.77 192.2 1259.94 188.5 1260.27 179.5 1260.59 168.6 1260.92 156.1 1261.25 142.5 1261.58 128.0 1261.91 113.0 1262.23 97.8 1262.56 82.8 1262.89 68.2 1263.22 54.5 1263.54 42.0 1263.87 31.0 1264.20 21.9 1264.38 17.7 1264.53 25.2 1264.86 46.9 1265.18 73.9 1265.51 104.8 1265.84 138.0 1266.17 171.8 1266.50 204.8 1266.82 235.3 1267.15 261.8 1267.48 282.7 1267.58 287.9 1267.81 275.6 1268.13 251.7 1268.46 222.5 1268.79 189.9 1269.12 155.5 1269.45 121.1 1269.77 88.5 1270.10 59.4 1270.43 35.6 1270.65 23.7 1270.76 27.8 1271.09 43.6 1271.41 63.9 1271.74 87.0 1272.07 111.4 1272.40 135.8 1272.73 158.4 1273.05 177.9 1273.38 192.8 1273.43 194.5 1273.71 188.0 1274.04 177.0 1274.36 164.4 1274.69 152.0 1275.02 141.5 1275.24 136.6 1275.35 138.3 1275.68 145.5 1276.00 154.8 1276.33 165.0 1276.66 174.6 1276.99 182.6 1277.19 186.0 1277.32 183.6 1277.64 175.6 1277.97 165.6 1278.30 154.1 1278.63 141.7 1278.95 129.0 1279.28 116.6 1279.61 105.1 1279.94 95.1 1280.27 87.2 1280.39 84.8 1280.59 86.7 1280.92 90.4 1281.25 94.8 1281.58 99.8 1281.91 105.3 1282.23 111.1 1282.56 117.1 1282.89 123.3 1283.22 129.4 1283.54 135.3 1283.87 141.0 1284.20 146.3 1284.53 151.1 1284.86 155.3 1285.18 158.7 1285.26 159.3 1285.51 158.5 1285.84 157.1 1286.17 155.3 1286.50 153.5 1286.82 151.7 1287.15 150.3 1287.35 149.7 1287.48 150.8 1287.81 154.4 1288.13 159.0 1288.46 164.2 1288.79 169.5 1289.12 174.4 1289.45 178.5 1289.72 181.0 1289.77 179.6 1290.10 170.2 1290.43 158.1 1290.76 144.0 1291.09 128.6 1291.41 112.5 1291.74 96.2 1292.07 80.6 1292.40 66.1 1292.73 53.5 1293.05 43.3 1293.20 39.8 1293.38 48.5 1293.71 69.1 1294.04 94.6 1294.36 122.9 1294.69 151.8 1295.02 179.0 1295.35 202.5 1295.68 219.9 1295.70 220.9 1296.00 211.4 1296.33 197.7 1296.66 181.5 1296.99 163.7 1297.32 145.1 1297.64 126.8 1297.97 109.7 1298.30 94.6 1298.63 82.7 1298.76 78.9 1298.95 85.2 1299.28 99.6 1299.61 117.3 1299.94 137.2 1300.27 158.1 1300.59 178.8 1300.92 198.2 1301.25 215.2 1301.58 228.5 1301.69 231.9 1301.91 223.2 1302.23 206.2 1302.56 185.4 1302.89 162.1 1303.22 137.5 1303.54 113.0 1303.87 89.7 1304.20 68.9 1304.53 51.9 1304.75 43.2 1304.86 46.3 1305.18 58.5 1305.51 73.9 1305.84 91.6 1306.17 110.6 1306.50 129.9 1306.82 148.6 1307.15 165.7 1307.48 180.2 1307.81 191.1 1307.81 191.1 1308.13 185.1 1308.46 176.8 1308.79 167.1 1309.12 156.7 1309.45 146.4 1309.77 137.1 1310.10 129.4 1310.32 125.8 1310.43 125.9 1310.76 126.5 1311.09 127.1 1311.41 127.9 1311.74 128.7 1312.07 129.3 1312.40 129.8 1312.40 129.8 1312.73 129.2 1313.05 128.5 1313.38 127.6 1313.71 126.6 1314.04 125.8 1314.36 125.1 1314.49 124.9 1314.69 126.3 1315.02 129.2 1315.35 132.7 1315.68 136.7 1316.00 141.0 1316.33 145.4 1316.66 149.7 1316.99 153.8 1317.32 157.6 1317.64 160.7 1317.97 163.1 1317.97 163.1 1318.30 160.8 1318.63 157.9 1318.95 154.5 1319.28 150.7 1319.61 146.6 1319.94 142.3 1320.27 137.9 1320.59 133.6 1320.92 129.3 1321.25 125.3 1321.58 121.7 1321.91 118.5 1322.23 115.8 1322.42 114.5 1322.56 115.6 1322.89 118.8 1323.22 122.8 1323.54 127.4 1323.87 132.4 1324.20 137.7 1324.53 143.0 1324.86 148.3 1325.18 153.3 1325.51 158.0 1325.84 162.0 1326.17 165.3 1326.32 166.5 1326.50 165.0 1326.82 161.6 1327.15 157.3 1327.48 152.4 1327.81 147.1 1328.13 141.6 1328.46 136.0 1328.79 130.5 1329.12 125.2 1329.45 120.4 1329.77 116.3 1330.10 112.9 1330.22 112.0 1330.43 114.0 1330.76 118.1 1331.09 123.0 1331.41 128.6 1331.74 134.6 1332.07 140.8 1332.40 147.1 1332.73 153.1 1333.05 158.8 1333.38 163.8 1333.71 168.1 1333.98 170.8 1334.04 170.2 1334.36 166.4 1334.69 161.5 1335.02 155.8 1335.35 149.6 1335.68 143.0 1336.00 136.2 1336.33 129.6 1336.66 123.3 1336.99 117.6 1337.32 112.6 1337.64 108.6 1337.74 107.7 1337.97 110.0 1338.30 114.0 1338.63 118.9 1338.95 124.3 1339.28 130.2 1339.61 136.2 1339.94 142.1 1340.27 147.6 1340.59 152.6 1340.92 156.8 1341.22 159.7 1341.25 159.6 1341.58 157.6 1341.91 155.1 1342.23 152.1 1342.56 148.8 1342.89 145.4 1343.22 141.9 1343.54 138.5 1343.87 135.4 1344.20 132.7 1344.53 130.4 1344.70 129.6 1344.86 129.9 1345.18 130.9 1345.51 132.0 1345.84 133.3 1346.17 134.7 1346.50 136.1 1346.82 137.7 1347.15 139.2 1347.48 140.8 1347.81 142.3 1348.13 143.7 1348.46 145.0 1348.79 146.1 1349.12 147.0 1349.29 147.4 1349.45 147.2 1349.77 146.5 1350.10 145.8 1350.43 144.9 1350.76 144.0 1351.09 143.0 1351.41 142.0 1351.74 140.9 1352.07 139.9 1352.40 138.8 1352.73 137.8 1353.05 136.9 1353.38 136.1 1353.46 135.8 1353.71 135.4 1354.04 134.9 1354.36 134.3 1354.69 133.7 1355.02 133.2 1355.35 132.6 1355.68 132.1 1356.00 131.6 1356.33 131.2 1356.66 130.8 1356.99 130.4 1357.32 130.1 1357.36 130.1 1357.64 131.2 1357.97 132.8 1358.30 134.8 1358.63 136.9 1358.95 139.3 1359.28 141.6 1359.61 144.0 1359.94 146.1 1360.27 148.1 1360.59 149.7 1360.84 150.6 1360.92 150.4 1361.25 149.2 1361.58 147.8 1361.91 146.1 1362.23 144.2 1362.56 142.2 1362.89 140.3 1363.22 138.3 1363.54 136.4 1363.87 134.8 1364.20 133.3 1364.53 132.2 1364.60 131.9 1364.86 132.4 1365.18 133.2 1365.51 134.1 1365.84 135.1 1366.17 136.2 1366.50 137.3 1366.82 138.5 1367.15 139.7 1367.48 140.8 1367.81 141.8 1368.13 142.7 1368.46 143.5 1368.78 144.1 1368.79 144.1 1369.12 143.6 1369.45 143.0 1369.77 142.3 1370.10 141.6 1370.43 140.8 1370.76 139.9 1371.09 139.1 1371.41 138.2 1371.74 137.4 1372.07 136.7 1372.40 136.0 1372.73 135.5 1372.95 135.2 1373.05 135.3 1373.38 135.8 1373.71 136.3 1374.04 137.0 1374.36 137.7 1374.69 138.5 1375.02 139.2 1375.35 139.9 1375.68 140.6 1376.00 141.2 1376.33 141.6 1376.43 141.7 1376.66 141.6 1376.99 141.4 1377.32 141.1 1377.64 140.8 1377.97 140.5 1378.30 140.2 1378.63 139.9 1378.95 139.6 1379.28 139.3 1379.61 139.1 1379.91 138.9 1379.94 138.9 1380.27 138.9 1380.59 138.9 1380.92 138.9 1381.25 138.9 1381.58 138.9 1381.91 138.9 1382.23 138.9 1382.56 138.9 1382.89 138.9 1383.22 138.9 1383.54 139.0 1383.87 139.0 1384.20 139.0 1384.53 139.0 1384.86 139.0 1385.18 139.0 1385.51 139.0 1385.84 139.0 1386.17 139.0 1386.50 139.0 1386.82 139.0 1387.15 139.0 1387.48 139.0 1387.81 139.0 1388.13 139.0 1388.46 139.0 1388.79 139.0 1389.12 139.0 1389.45 139.0 1389.77 139.0 1390.10 139.0 1390.43 139.0 1390.76 139.1 1391.09 139.1 1391.41 139.1 1391.74 139.1 1392.07 139.1 1392.40 139.1 1392.73 139.1 1393.05 139.1 1393.38 139.1 1393.71 139.1 1394.04 139.1 1394.36 139.1 1394.69 139.1 1395.02 139.2 1395.35 139.2 1395.68 139.2 1396.00 139.2 1396.33 139.2 1396.66 139.2 1396.99 139.2 1397.32 139.2 1397.64 139.2 1397.97 139.2 1398.00 139.2" fill="none" stroke="#1f77b4" stroke-width="3.3" stroke-linejoin="round" stroke-linecap="butt"/>
<rect x="1370" y="4.8" width="350.7" height="298.5" fill="none" stroke="#161616" stroke-width="2"/>
<path d="M1384.8 304v10M1545.4 304v10M1705.9 304v10M1369.3 13.9h-10M1369.3 139.8h-10M1369.3 265.8h-10" stroke="#161616" stroke-width="2" fill="none"/>
<text class="tk" transform="translate(1352.8 26.73) scale(1 1.1)" text-anchor="end">1</text>
<text class="tk" transform="translate(1352.8 152.63) scale(1 1.1)" text-anchor="end">0</text>
<text class="tk" transform="translate(1349.6 278.63) scale(1 1.1)" text-anchor="end">−1</text>
<clipPath id="hc2"><rect x="2.2" y="358.3" width="298.2" height="298.1"/></clipPath>
<g clip-path="url(#hc2)">
<g shape-rendering="crispEdges">
<rect x="1.25" y="357.2" width="37.85" height="37.89" fill="#f7fbff"/>
<rect x="38.6" y="357.2" width="37.85" height="37.89" fill="#f7fbff"/>
<rect x="75.95" y="357.2" width="37.85" height="37.89" fill="#f7fbff"/>
<rect x="113.3" y="357.2" width="37.85" height="37.89" fill="#2070b4"/>
<rect x="150.65" y="357.2" width="37.85" height="37.89" fill="#1460a8"/>
<rect x="188" y="357.2" width="37.85" height="37.89" fill="#b2d2e8"/>
<rect x="225.35" y="357.2" width="37.85" height="37.89" fill="#f7fbff"/>
<rect x="262.7" y="357.2" width="37.85" height="37.89" fill="#f7fbff"/>
<rect x="1.25" y="394.59" width="37.85" height="37.89" fill="#f7fbff"/>
<rect x="38.6" y="394.59" width="37.85" height="37.89" fill="#f7fbff"/>
<rect x="75.95" y="394.59" width="37.85" height="37.89" fill="#f7fbff"/>
<rect x="113.3" y="394.59" width="37.85" height="37.89" fill="#3181bd"/>
<rect x="150.65" y="394.59" width="37.85" height="37.89" fill="#08306b"/>
<rect x="188" y="394.59" width="37.85" height="37.89" fill="#56a0ce"/>
<rect x="225.35" y="394.59" width="37.85" height="37.89" fill="#f7fbff"/>
<rect x="262.7" y="394.59" width="37.85" height="37.89" fill="#f7fbff"/>
<rect x="1.25" y="431.97" width="37.85" height="37.89" fill="#f7fbff"/>
<rect x="38.6" y="431.97" width="37.85" height="37.89" fill="#f7fbff"/>
<rect x="75.95" y="431.97" width="37.85" height="37.89" fill="#d2e3f3"/>
<rect x="113.3" y="431.97" width="37.85" height="37.89" fill="#084082"/>
<rect x="150.65" y="431.97" width="37.85" height="37.89" fill="#08306b"/>
<rect x="188" y="431.97" width="37.85" height="37.89" fill="#9dcae1"/>
<rect x="225.35" y="431.97" width="37.85" height="37.89" fill="#f7fbff"/>
<rect x="262.7" y="431.97" width="37.85" height="37.89" fill="#f7fbff"/>
<rect x="1.25" y="469.36" width="37.85" height="37.89" fill="#f7fbff"/>
<rect x="38.6" y="469.36" width="37.85" height="37.89" fill="#84bcdb"/>
<rect x="75.95" y="469.36" width="37.85" height="37.89" fill="#084082"/>
<rect x="113.3" y="469.36" width="37.85" height="37.89" fill="#08306b"/>
<rect x="150.65" y="469.36" width="37.85" height="37.89" fill="#08306b"/>
<rect x="188" y="469.36" width="37.85" height="37.89" fill="#deebf7"/>
<rect x="225.35" y="469.36" width="37.85" height="37.89" fill="#f7fbff"/>
<rect x="262.7" y="469.36" width="37.85" height="37.89" fill="#f7fbff"/>
<rect x="1.25" y="506.75" width="37.85" height="37.89" fill="#f7fbff"/>
<rect x="38.6" y="506.75" width="37.85" height="37.89" fill="#f7fbff"/>
<rect x="75.95" y="506.75" width="37.85" height="37.89" fill="#eaf3fb"/>
<rect x="113.3" y="506.75" width="37.85" height="37.89" fill="#08306b"/>
<rect x="150.65" y="506.75" width="37.85" height="37.89" fill="#08306b"/>
<rect x="188" y="506.75" width="37.85" height="37.89" fill="#d2e3f3"/>
<rect x="225.35" y="506.75" width="37.85" height="37.89" fill="#f7fbff"/>
<rect x="262.7" y="506.75" width="37.85" height="37.89" fill="#f7fbff"/>
<rect x="1.25" y="544.14" width="37.85" height="37.89" fill="#f7fbff"/>
<rect x="38.6" y="544.14" width="37.85" height="37.89" fill="#f7fbff"/>
<rect x="75.95" y="544.14" width="37.85" height="37.89" fill="#eaf3fb"/>
<rect x="113.3" y="544.14" width="37.85" height="37.89" fill="#08306b"/>
<rect x="150.65" y="544.14" width="37.85" height="37.89" fill="#08306b"/>
<rect x="188" y="544.14" width="37.85" height="37.89" fill="#9dcae1"/>
<rect x="225.35" y="544.14" width="37.85" height="37.89" fill="#f7fbff"/>
<rect x="262.7" y="544.14" width="37.85" height="37.89" fill="#f7fbff"/>
<rect x="1.25" y="581.52" width="37.85" height="37.89" fill="#f7fbff"/>
<rect x="38.6" y="581.52" width="37.85" height="37.89" fill="#f7fbff"/>
<rect x="75.95" y="581.52" width="37.85" height="37.89" fill="#eaf3fb"/>
<rect x="113.3" y="581.52" width="37.85" height="37.89" fill="#08306b"/>
<rect x="150.65" y="581.52" width="37.85" height="37.89" fill="#08306b"/>
<rect x="188" y="581.52" width="37.85" height="37.89" fill="#9dcae1"/>
<rect x="225.35" y="581.52" width="37.85" height="37.89" fill="#f7fbff"/>
<rect x="262.7" y="581.52" width="37.85" height="37.89" fill="#f7fbff"/>
<rect x="1.25" y="618.91" width="37.85" height="37.89" fill="#f7fbff"/>
<rect x="38.6" y="618.91" width="37.85" height="37.89" fill="#f7fbff"/>
<rect x="75.95" y="618.91" width="37.85" height="37.89" fill="#f7fbff"/>
<rect x="113.3" y="618.91" width="37.85" height="37.89" fill="#3181bd"/>
<rect x="150.65" y="618.91" width="37.85" height="37.89" fill="#08306b"/>
<rect x="188" y="618.91" width="37.85" height="37.89" fill="#4191c6"/>
<rect x="225.35" y="618.91" width="37.85" height="37.89" fill="#f7fbff"/>
<rect x="262.7" y="618.91" width="37.85" height="37.89" fill="#f7fbff"/>
</g>
<path d="M1.25 355.2V658.3M-0.75 357.2H302.05M38.6 355.2V658.3M-0.75 394.59H302.05M75.95 355.2V658.3M-0.75 431.97H302.05M113.3 355.2V658.3M-0.75 469.36H302.05M150.65 355.2V658.3M-0.75 506.75H302.05M188 355.2V658.3M-0.75 544.14H302.05M225.35 355.2V658.3M-0.75 581.52H302.05M262.7 355.2V658.3M-0.75 618.91H302.05M300.05 355.2V658.3M-0.75 656.3H302.05" stroke="#1612f0" stroke-width="2.9" fill="none"/>
</g>
<rect x="2.2" y="358.3" width="298.2" height="298.1" fill="none" stroke="#08081c" stroke-width="2.3"/>
<path transform="scale(1.22 1)" d="M372.90 480.0 373.23 480.0 373.56 480.0 373.89 480.0 374.22 480.0 374.54 480.0 374.87 480.0 375.20 480.0 375.53 480.0 375.86 480.0 376.18 480.0 376.51 480.0 376.84 480.0 377.17 480.0 377.49 480.0 377.82 480.0 378.15 480.0 378.48 480.0 378.81 480.0 379.13 480.0 379.46 480.0 379.79 480.0 380.12 480.0 380.45 480.0 380.77 480.0 381.10 480.0 381.43 480.0 381.76 480.0 382.08 480.0 382.41 480.0 382.74 480.0 383.07 480.0 383.40 480.0 383.72 480.0 384.05 480.0 384.38 480.0 384.71 480.0 385.04 480.0 385.36 480.0 385.69 480.0 385.71 480.0 386.02 479.9 386.35 479.8 386.67 479.7 387.00 479.6 387.33 479.4 387.66 479.3 387.99 479.2 388.31 479.1 388.49 479.0 388.64 479.1 388.97 479.3 389.30 479.5 389.63 479.7 389.95 480.0 390.28 480.2 390.58 480.3 390.61 480.3 390.94 480.3 391.27 480.2 391.59 480.2 391.92 480.1 392.25 480.0 392.58 480.0 392.90 479.9 393.23 479.8 393.56 479.7 393.89 479.6 394.22 479.6 394.54 479.5 394.87 479.4 395.20 479.3 395.53 479.3 395.86 479.2 396.18 479.1 396.51 479.1 396.84 479.0 396.85 479.0 397.17 479.3 397.49 479.6 397.82 479.9 398.15 480.3 398.48 480.8 398.81 481.2 399.13 481.6 399.46 482.0 399.79 482.4 400.12 482.7 400.32 482.8 400.45 482.7 400.77 482.4 401.10 482.0 401.43 481.5 401.76 481.1 402.08 480.5 402.41 480.0 402.74 479.5 403.07 479.1 403.40 478.7 403.72 478.4 403.80 478.4 404.05 478.4 404.38 478.5 404.71 478.7 405.04 478.8 405.36 479.0 405.69 479.2 406.02 479.3 406.35 479.4 406.59 479.5 406.67 479.4 407.00 479.2 407.33 478.9 407.66 478.6 407.99 478.3 408.31 478.1 408.64 477.9 408.68 477.9 408.97 478.7 409.30 480.0 409.63 481.5 409.95 483.1 410.28 484.5 410.61 485.7 410.76 486.1 410.94 485.7 411.27 484.8 411.59 483.6 411.92 482.3 412.25 480.9 412.58 479.4 412.90 478.1 413.23 476.8 413.56 475.7 413.89 474.8 413.97 474.7 414.22 475.1 414.54 475.7 414.87 476.5 415.20 477.5 415.53 478.4 415.86 479.4 416.18 480.4 416.51 481.3 416.84 482.2 417.17 482.8 417.45 483.3 417.49 483.2 417.82 482.8 418.15 482.2 418.48 481.5 418.81 480.8 419.13 480.1 419.46 479.5 419.79 479.1 419.81 479.1 420.12 479.3 420.45 479.5 420.77 479.9 421.10 480.2 421.43 480.6 421.76 480.9 422.08 481.3 422.41 481.6 422.74 481.9 423.07 482.2 423.29 482.3 423.40 482.2 423.72 481.8 424.05 481.2 424.38 480.6 424.71 480.0 425.04 479.3 425.36 478.6 425.69 477.9 426.02 477.3 426.35 476.8 426.67 476.4 426.77 476.3 427.00 476.6 427.33 477.3 427.66 478.1 427.99 479.0 428.31 480.0 428.64 480.9 428.97 481.8 429.30 482.6 429.63 483.2 429.83 483.5 429.95 483.4 430.28 482.7 430.61 482.0 430.94 481.0 431.27 480.1 431.59 479.0 431.92 478.0 432.25 477.1 432.58 476.2 432.90 475.4 433.23 474.8 433.31 474.7 433.56 475.3 433.89 476.3 434.22 477.5 434.54 478.9 434.87 480.3 435.20 481.8 435.53 483.3 435.86 484.7 436.18 485.9 436.51 487.0 436.79 487.7 436.84 487.6 437.17 486.7 437.49 485.6 437.82 484.2 438.15 482.8 438.48 481.3 438.81 479.8 439.13 478.4 439.46 477.2 439.79 476.2 439.99 475.7 440.12 475.8 440.45 476.3 440.77 477.0 441.10 477.7 441.43 478.4 441.76 479.0 442.08 479.4 442.08 479.4 442.41 478.8 442.74 477.9 443.07 476.9 443.40 475.9 443.72 475.0 444.05 474.2 444.17 474.1 444.38 474.9 444.71 476.8 445.04 479.1 445.36 481.6 445.69 484.2 446.02 486.6 446.35 488.6 446.67 490.1 446.67 490.1 447.00 487.9 447.33 484.9 447.66 481.4 447.99 477.7 448.31 474.1 448.64 471.0 448.97 468.6 449.04 468.2 449.30 470.1 449.63 473.4 449.95 477.3 450.28 481.6 450.61 486.1 450.94 490.4 451.27 494.3 451.59 497.5 451.82 499.1 451.92 498.4 452.25 495.0 452.58 490.8 452.90 485.9 453.23 480.6 453.56 475.1 453.89 469.8 454.22 464.8 454.54 460.4 454.87 456.9 455.03 455.6 455.20 457.1 455.53 460.8 455.86 465.3 456.18 470.4 456.51 475.8 456.84 481.3 457.17 486.5 457.49 491.2 457.82 495.2 458.09 497.6 458.15 497.3 458.48 495.6 458.81 493.4 459.13 490.8 459.46 488.0 459.79 485.1 460.12 482.4 460.45 479.8 460.77 477.6 461.10 475.9 461.15 475.7 461.43 476.9 461.76 478.7 462.08 481.0 462.41 483.4 462.74 485.8 463.07 488.0 463.40 489.9 463.66 491.0 463.72 490.4 464.05 486.7 464.38 481.9 464.71 476.4 465.04 470.6 465.36 465.0 465.69 460.0 466.02 456.1 466.16 454.8 466.35 456.1 466.67 459.2 467.00 462.9 467.33 467.1 467.66 471.7 467.99 476.3 468.31 481.0 468.64 485.4 468.97 489.4 469.30 492.8 469.63 495.4 469.64 495.5 469.95 494.8 470.28 493.8 470.61 492.7 470.94 491.6 471.27 490.6 471.59 489.9 471.59 489.9 471.92 490.8 472.25 492.2 472.58 493.6 472.90 494.9 473.12 495.5 473.23 494.3 473.56 489.7 473.89 483.8 474.22 477.1 474.54 469.9 474.87 462.6 475.20 455.5 475.53 449.1 475.86 443.6 476.18 439.5 476.18 439.5 476.51 445.5 476.84 453.6 477.17 463.1 477.49 473.6 477.82 484.4 478.15 495.0 478.48 504.9 478.81 513.5 479.13 520.3 479.25 522.1 479.46 519.3 479.79 513.8 480.12 507.2 480.45 499.7 480.77 491.7 481.10 483.4 481.43 475.2 481.76 467.3 482.08 460.0 482.41 453.7 482.74 448.7 482.86 447.1 483.07 448.9 483.40 452.5 483.72 456.9 484.05 461.8 484.38 467.2 484.71 472.7 485.04 478.3 485.36 483.7 485.69 488.8 486.02 493.3 486.35 497.1 486.62 499.5 486.67 499.5 487.00 498.9 487.33 498.2 487.66 497.5 487.99 496.7 488.31 495.8 488.64 494.9 488.97 493.9 489.30 492.8 489.63 491.7 489.95 490.5 490.28 489.2 490.61 487.9 490.80 487.2 490.94 484.3 491.27 476.2 491.59 466.4 491.92 455.5 492.25 443.9 492.58 432.2 492.90 420.8 493.23 410.3 493.56 401.2 493.89 393.9 494.00 392.0 494.22 400.9 494.54 418.2 494.87 439.0 495.20 462.7 495.53 488.1 495.86 514.6 496.18 541.1 496.51 566.7 496.84 590.7 497.17 612.0 497.49 629.8 497.76 640.9 497.82 638.3 498.15 622.3 498.48 601.9 498.81 578.3 499.13 552.3 499.46 524.8 499.79 496.8 500.12 469.2 500.45 443.0 500.77 419.0 501.10 398.3 501.43 381.7 501.53 377.5 501.76 384.3 502.08 396.7 502.41 411.6 502.74 428.5 503.07 446.7 503.40 465.8 503.72 485.1 504.05 504.2 504.38 522.4 504.71 539.1 505.04 553.9 505.36 566.1 505.57 572.2 505.69 567.5 506.02 551.5 506.35 531.5 506.67 508.5 507.00 483.8 507.33 458.5 507.66 433.7 507.99 410.7 508.31 390.7 508.64 374.7 508.77 369.9 508.97 380.0 509.30 401.6 509.63 428.2 509.95 458.0 510.28 489.6 510.61 521.2 510.94 551.4 511.27 578.4 511.59 600.6 511.83 612.9 511.92 608.9 512.25 590.4 512.58 566.6 512.90 539.2 513.23 509.7 513.56 479.6 513.89 450.4 514.22 423.6 514.54 400.8 514.87 383.5 514.89 382.6 515.20 392.5 515.53 406.6 515.86 423.3 516.18 441.7 516.51 461.0 516.84 480.2 517.17 498.5 517.49 515.0 517.82 528.7 518.09 537.4 518.15 536.5 518.48 530.2 518.81 521.9 519.13 512.4 519.46 502.0 519.79 491.3 520.12 480.9 520.45 471.3 520.77 463.1 521.10 456.8 521.16 455.9 521.43 456.6 521.76 457.9 522.08 459.3 522.41 460.7 522.74 461.9 522.97 462.4 523.07 462.4 523.40 462.0 523.72 461.5 524.05 461.0 524.38 460.4 524.71 459.9 525.04 459.5 525.33 459.2 525.36 459.6 525.69 463.9 526.02 469.4 526.35 476.0 526.67 483.2 527.00 490.7 527.33 498.3 527.66 505.7 527.99 512.6 528.31 518.6 528.64 523.5 528.81 525.5 528.97 522.9 529.30 516.1 529.63 507.8 529.95 498.2 530.28 487.9 530.61 477.2 530.94 466.6 531.27 456.5 531.59 447.3 531.92 439.5 532.25 433.4 532.29 432.7 532.58 437.4 532.90 444.4 533.23 452.9 533.56 462.3 533.89 472.2 534.22 482.0 534.54 491.4 534.87 499.9 535.20 507.0 535.49 511.9 535.53 511.4 535.86 506.1 536.18 499.1 536.51 490.9 536.84 482.1 537.17 473.1 537.49 464.7 537.82 457.3 538.15 451.4 538.28 449.7 538.48 452.8 538.81 459.4 539.13 467.5 539.46 476.6 539.79 486.1 540.12 495.6 540.45 504.4 540.77 512.1 541.10 518.1 541.20 519.5 541.43 515.7 541.76 508.3 542.08 499.3 542.41 489.4 542.74 479.1 543.07 469.1 543.40 460.0 543.72 452.4 543.98 448.0 544.05 448.7 544.38 453.1 544.71 458.9 545.04 465.6 545.36 472.7 545.69 479.7 546.02 486.1 546.35 491.5 546.63 494.9 546.67 494.5 547.00 491.2 547.33 486.7 547.66 481.6 547.99 476.2 548.31 471.1 548.64 466.7 548.97 463.5 548.99 463.3 549.30 465.4 549.63 468.4 549.95 472.0 550.28 476.0 550.61 480.1 550.94 484.3 551.27 488.2 551.59 491.7 551.92 494.7 552.20 496.6 552.25 496.5 552.58 495.5 552.90 494.4 553.23 493.1 553.56 491.6 553.89 490.1 554.22 488.4 554.54 486.7 554.87 484.9 555.20 483.1 555.53 481.2 555.86 479.3 556.18 477.5 556.51 475.6 556.84 473.8 557.17 472.1 557.49 470.5 557.82 468.9 558.15 467.5 558.48 466.2 558.81 465.1 559.13 464.2 559.16 464.1 559.46 466.3 559.79 469.4 560.12 473.0 560.45 477.0 560.77 481.3 561.10 485.6 561.43 489.8 561.76 493.8 562.08 497.3 562.41 500.2 562.64 501.7 562.74 501.0 563.07 498.4 563.40 495.2 563.72 491.4 564.05 487.3 564.38 483.1 564.71 479.0 565.04 475.1 565.36 471.8 565.69 469.1 565.84 468.1 566.02 468.5 566.35 469.1 566.67 469.9 567.00 470.8 567.33 471.8 567.66 472.9 567.99 474.0 568.31 475.1 568.64 476.3 568.97 477.5 569.30 478.7 569.63 479.9 569.95 481.0 570.28 482.1 570.61 483.2 570.94 484.2 571.27 485.1 571.59 485.8 571.92 486.5 572.10 486.8 572.25 486.4 572.58 485.0 572.90 483.3 573.23 481.5 573.56 479.6 573.89 477.8 574.22 476.3 574.47 475.5 574.54 475.7 574.87 476.7 575.20 478.1 575.53 479.6 575.86 481.1 576.18 482.4 576.51 483.4 576.55 483.5 576.84 482.9 577.17 481.8 577.49 480.6 577.82 479.2 578.15 477.8 578.48 476.5 578.81 475.3 579.13 474.3 579.34 473.8 579.46 474.2 579.79 475.6 580.12 477.3 580.45 479.3 580.77 481.4 581.10 483.5 581.43 485.4 581.76 487.1 582.08 488.3 582.12 488.4 582.41 487.4 582.74 485.9 583.07 484.1 583.40 482.0 583.72 479.9 584.05 477.8 584.38 475.8 584.71 474.0 585.04 472.4 585.32 471.4 585.36 471.5 585.69 472.3 586.02 473.4 586.35 474.6 586.67 476.0 587.00 477.4 587.33 478.9 587.66 480.3 587.99 481.7 588.31 483.0 588.64 484.1 588.97 484.9 589.08 485.2 589.30 484.9 589.63 484.5 589.95 484.0 590.28 483.5 590.61 482.8 590.94 482.2 591.27 481.5 591.59 480.8 591.92 480.1 592.25 479.4 592.58 478.6 592.90 478.0 593.23 477.3 593.56 476.7 593.89 476.2 594.22 475.7 594.54 475.3 594.65 475.2 594.87 475.6 595.20 476.4 595.53 477.3 595.86 478.4 596.18 479.5 596.51 480.7 596.84 481.8 597.17 482.9 597.49 483.9 597.82 484.7 598.13 485.3 598.15 485.2 598.48 484.7 598.81 484.0 599.13 483.1 599.46 482.2 599.79 481.2 600.12 480.3 600.45 479.6 600.77 478.9 600.91 478.7 601.10 478.9 601.43 479.2 601.76 479.7 602.08 480.1 602.41 480.6 602.74 480.9 603.00 481.1 603.07 481.1 603.40 480.8 603.72 480.4 604.05 480.0 604.38 479.5 604.71 479.1 605.04 478.6 605.36 478.3 605.69 478.0 605.78 477.9 606.02 478.1 606.35 478.6 606.67 479.1 607.00 479.6 607.33 480.2 607.66 480.8 607.99 481.3 608.31 481.7 608.57 482.0 608.64 481.9 608.97 481.7 609.30 481.3 609.63 480.9 609.95 480.5 610.28 480.1 610.61 479.7 610.94 479.4 611.27 479.1 611.35 479.0 611.59 479.1 611.92 479.3 612.25 479.5 612.58 479.7 612.90 480.0 613.23 480.2 613.56 480.4 613.89 480.6 614.14 480.7 614.22 480.7 614.54 480.6 614.87 480.5 615.20 480.5 615.53 480.4 615.86 480.3 616.18 480.2 616.51 480.1 616.84 480.0 617.17 479.9 617.49 479.8 617.82 479.8 618.15 479.7 618.31 479.7 618.48 479.7 618.81 479.7 619.13 479.7 619.46 479.7 619.79 479.7 620.12 479.7 620.45 479.7 620.77 479.7 621.10 479.7 621.43 479.7 621.76 479.7 622.08 479.7 622.41 479.7 622.74 479.7 623.07 479.7 623.40 479.7 623.72 479.7 624.05 479.7 624.38 479.8 624.71 479.8 625.04 479.8 625.36 479.8 625.69 479.8 626.02 479.8 626.35 479.8 626.67 479.8 627.00 479.8 627.33 479.8 627.66 479.8 627.99 479.8 628.31 479.8 628.64 479.8 628.97 479.8 629.30 479.8 629.63 479.8 629.95 479.8 630.28 479.8 630.61 479.8 630.94 479.9 631.27 479.9 631.59 479.9 631.92 479.9 632.25 479.9 632.58 479.9 632.90 479.9 633.23 479.9 633.56 479.9 633.89 479.9 634.22 479.9 634.54 479.9 634.87 480.0 635.20 480.0 635.53 480.0 635.86 480.0 636.18 480.0 636.51 480.0 636.84 480.0 637.10 480.0" fill="none" stroke="#1f77b4" stroke-width="3.3" stroke-linejoin="round" stroke-linecap="butt"/>
<rect x="440.3" y="358.3" width="350.6" height="298.1" fill="none" stroke="#161616" stroke-width="2"/>
<path d="M455.1 657.1v10M616.6 657.1v10M778.1 657.1v10M439.6 389.5h-10M439.6 481.7h-10M439.6 572.1h-10" stroke="#161616" stroke-width="2" fill="none"/>
<text class="tk" transform="translate(423.1 402.33) scale(1 1.1)" text-anchor="end">1</text>
<text class="tk" transform="translate(423.1 494.53) scale(1 1.1)" text-anchor="end">0</text>
<text class="tk" transform="translate(421.6 584.93) scale(1 1.1)" text-anchor="end">−1</text>
<clipPath id="hc3"><rect x="932" y="358.3" width="298" height="298.1"/></clipPath>
<g clip-path="url(#hc3)">
<g shape-rendering="crispEdges">
<rect x="930.1" y="357.2" width="37.85" height="37.89" fill="#f7fbff"/>
<rect x="967.45" y="357.2" width="37.85" height="37.89" fill="#f7fbff"/>
<rect x="1004.8" y="357.2" width="37.85" height="37.89" fill="#f7fbff"/>
<rect x="1042.15" y="357.2" width="37.85" height="37.89" fill="#2070b4"/>
<rect x="1079.5" y="357.2" width="37.85" height="37.89" fill="#1460a8"/>
<rect x="1116.85" y="357.2" width="37.85" height="37.89" fill="#f7fbff"/>
<rect x="1154.2" y="357.2" width="37.85" height="37.89" fill="#f7fbff"/>
<rect x="1191.55" y="357.2" width="37.85" height="37.89" fill="#f7fbff"/>
<rect x="930.1" y="394.59" width="37.85" height="37.89" fill="#f7fbff"/>
<rect x="967.45" y="394.59" width="37.85" height="37.89" fill="#f7fbff"/>
<rect x="1004.8" y="394.59" width="37.85" height="37.89" fill="#b2d2e8"/>
<rect x="1042.15" y="394.59" width="37.85" height="37.89" fill="#08306b"/>
<rect x="1079.5" y="394.59" width="37.85" height="37.89" fill="#6aaed6"/>
<rect x="1116.85" y="394.59" width="37.85" height="37.89" fill="#f7fbff"/>
<rect x="1154.2" y="394.59" width="37.85" height="37.89" fill="#f7fbff"/>
<rect x="1191.55" y="394.59" width="37.85" height="37.89" fill="#f7fbff"/>
<rect x="930.1" y="431.97" width="37.85" height="37.89" fill="#f7fbff"/>
<rect x="967.45" y="431.97" width="37.85" height="37.89" fill="#f7fbff"/>
<rect x="1004.8" y="431.97" width="37.85" height="37.89" fill="#1460a8"/>
<rect x="1042.15" y="431.97" width="37.85" height="37.89" fill="#08306b"/>
<rect x="1079.5" y="431.97" width="37.85" height="37.89" fill="#d2e3f3"/>
<rect x="1116.85" y="431.97" width="37.85" height="37.89" fill="#f7fbff"/>
<rect x="1154.2" y="431.97" width="37.85" height="37.89" fill="#f7fbff"/>
<rect x="1191.55" y="431.97" width="37.85" height="37.89" fill="#f7fbff"/>
<rect x="930.1" y="469.36" width="37.85" height="37.89" fill="#f7fbff"/>
<rect x="967.45" y="469.36" width="37.85" height="37.89" fill="#f7fbff"/>
<rect x="1004.8" y="469.36" width="37.85" height="37.89" fill="#08509b"/>
<rect x="1042.15" y="469.36" width="37.85" height="37.89" fill="#1460a8"/>
<rect x="1079.5" y="469.36" width="37.85" height="37.89" fill="#f7fbff"/>
<rect x="1116.85" y="469.36" width="37.85" height="37.89" fill="#f7fbff"/>
<rect x="1154.2" y="469.36" width="37.85" height="37.89" fill="#f7fbff"/>
<rect x="1191.55" y="469.36" width="37.85" height="37.89" fill="#f7fbff"/>
<rect x="930.1" y="506.75" width="37.85" height="37.89" fill="#f7fbff"/>
<rect x="967.45" y="506.75" width="37.85" height="37.89" fill="#f7fbff"/>
<rect x="1004.8" y="506.75" width="37.85" height="37.89" fill="#084082"/>
<rect x="1042.15" y="506.75" width="37.85" height="37.89" fill="#2070b4"/>
<rect x="1079.5" y="506.75" width="37.85" height="37.89" fill="#84bcdb"/>
<rect x="1116.85" y="506.75" width="37.85" height="37.89" fill="#deebf7"/>
<rect x="1154.2" y="506.75" width="37.85" height="37.89" fill="#f7fbff"/>
<rect x="1191.55" y="506.75" width="37.85" height="37.89" fill="#f7fbff"/>
<rect x="930.1" y="544.14" width="37.85" height="37.89" fill="#f7fbff"/>
<rect x="967.45" y="544.14" width="37.85" height="37.89" fill="#f7fbff"/>
<rect x="1004.8" y="544.14" width="37.85" height="37.89" fill="#1460a8"/>
<rect x="1042.15" y="544.14" width="37.85" height="37.89" fill="#08306b"/>
<rect x="1079.5" y="544.14" width="37.85" height="37.89" fill="#1460a8"/>
<rect x="1116.85" y="544.14" width="37.85" height="37.89" fill="#08306b"/>
<rect x="1154.2" y="544.14" width="37.85" height="37.89" fill="#d2e3f3"/>
<rect x="1191.55" y="544.14" width="37.85" height="37.89" fill="#f7fbff"/>
<rect x="930.1" y="581.52" width="37.85" height="37.89" fill="#f7fbff"/>
<rect x="967.45" y="581.52" width="37.85" height="37.89" fill="#f7fbff"/>
<rect x="1004.8" y="581.52" width="37.85" height="37.89" fill="#84bcdb"/>
<rect x="1042.15" y="581.52" width="37.85" height="37.89" fill="#08306b"/>
<rect x="1079.5" y="581.52" width="37.85" height="37.89" fill="#3181bd"/>
<rect x="1116.85" y="581.52" width="37.85" height="37.89" fill="#084082"/>
<rect x="1154.2" y="581.52" width="37.85" height="37.89" fill="#6aaed6"/>
<rect x="1191.55" y="581.52" width="37.85" height="37.89" fill="#f7fbff"/>
<rect x="930.1" y="618.91" width="37.85" height="37.89" fill="#f7fbff"/>
<rect x="967.45" y="618.91" width="37.85" height="37.89" fill="#f7fbff"/>
<rect x="1004.8" y="618.91" width="37.85" height="37.89" fill="#eaf3fb"/>
<rect x="1042.15" y="618.91" width="37.85" height="37.89" fill="#56a0ce"/>
<rect x="1079.5" y="618.91" width="37.85" height="37.89" fill="#084082"/>
<rect x="1116.85" y="618.91" width="37.85" height="37.89" fill="#3181bd"/>
<rect x="1154.2" y="618.91" width="37.85" height="37.89" fill="#d2e3f3"/>
<rect x="1191.55" y="618.91" width="37.85" height="37.89" fill="#f7fbff"/>
</g>
<path d="M930.1 355.2V658.3M928.1 357.2H1230.9M967.45 355.2V658.3M928.1 394.59H1230.9M1004.8 355.2V658.3M928.1 431.97H1230.9M1042.15 355.2V658.3M928.1 469.36H1230.9M1079.5 355.2V658.3M928.1 506.75H1230.9M1116.85 355.2V658.3M928.1 544.14H1230.9M1154.2 355.2V658.3M928.1 581.52H1230.9M1191.55 355.2V658.3M928.1 618.91H1230.9M1228.9 355.2V658.3M928.1 656.3H1230.9" stroke="#1612f0" stroke-width="2.9" fill="none"/>
</g>
<rect x="932" y="358.3" width="298" height="298.1" fill="none" stroke="#08081c" stroke-width="2.3"/>
<path transform="scale(1.22 1)" d="M1134.36 508.9 1134.69 508.9 1135.02 508.9 1135.35 508.9 1135.68 508.9 1136.00 508.9 1136.33 508.9 1136.66 508.9 1136.99 508.9 1137.32 508.9 1137.64 508.9 1137.97 508.9 1138.30 508.9 1138.63 508.9 1138.95 508.9 1139.28 508.9 1139.61 508.9 1139.94 508.9 1140.27 508.9 1140.59 508.9 1140.92 508.9 1141.25 508.9 1141.58 508.9 1141.91 508.9 1142.23 508.9 1142.56 508.9 1142.89 508.9 1143.22 508.9 1143.54 508.9 1143.87 508.9 1144.20 508.9 1144.53 508.9 1144.86 508.9 1145.18 508.9 1145.51 508.9 1145.84 508.9 1146.17 508.9 1146.50 508.9 1146.82 508.9 1147.15 508.9 1147.48 508.9 1147.81 508.9 1148.00 508.9 1148.13 508.9 1148.46 508.8 1148.79 508.8 1149.12 508.8 1149.45 508.7 1149.77 508.7 1150.10 508.7 1150.43 508.6 1150.76 508.6 1151.09 508.5 1151.41 508.5 1151.74 508.4 1152.07 508.4 1152.40 508.3 1152.73 508.3 1153.05 508.2 1153.38 508.2 1153.71 508.1 1154.04 508.1 1154.36 508.0 1154.69 508.0 1155.02 507.9 1155.35 507.9 1155.66 507.9 1155.68 507.9 1156.00 507.9 1156.33 507.9 1156.66 508.0 1156.99 508.0 1157.32 508.0 1157.64 508.0 1157.97 508.1 1158.30 508.1 1158.63 508.1 1158.95 508.1 1159.28 508.2 1159.61 508.2 1159.94 508.2 1160.27 508.3 1160.59 508.3 1160.92 508.4 1161.25 508.4 1161.58 508.4 1161.91 508.5 1162.23 508.5 1162.56 508.6 1162.89 508.6 1163.22 508.7 1163.54 508.7 1163.87 508.8 1164.20 508.8 1164.53 508.9 1164.71 508.9 1164.86 509.0 1165.18 509.3 1165.51 509.6 1165.84 509.9 1166.17 510.3 1166.50 510.6 1166.82 510.9 1167.15 511.2 1167.21 511.2 1167.48 510.8 1167.81 510.0 1168.13 509.2 1168.46 508.2 1168.79 507.2 1169.12 506.2 1169.45 505.4 1169.77 504.7 1170.00 504.3 1170.10 504.6 1170.43 505.5 1170.76 506.8 1171.09 508.2 1171.41 509.7 1171.74 511.2 1172.07 512.6 1172.40 513.8 1172.73 514.8 1172.78 514.9 1173.05 514.1 1173.38 512.9 1173.71 511.5 1174.04 509.9 1174.36 508.3 1174.69 506.6 1175.02 505.0 1175.35 503.4 1175.68 502.1 1176.00 501.1 1176.12 500.8 1176.33 501.5 1176.66 503.0 1176.99 504.8 1177.32 506.8 1177.64 508.9 1177.97 511.1 1178.30 513.2 1178.63 515.1 1178.95 516.7 1179.28 518.0 1179.32 518.1 1179.61 517.0 1179.94 515.5 1180.27 513.6 1180.59 511.5 1180.92 509.3 1181.25 507.1 1181.58 504.9 1181.91 502.9 1182.23 501.0 1182.56 499.5 1182.80 498.7 1182.89 498.9 1183.22 499.8 1183.54 501.0 1183.87 502.3 1184.20 503.8 1184.53 505.3 1184.86 506.9 1185.18 508.6 1185.51 510.1 1185.84 511.6 1186.17 513.0 1186.50 514.2 1186.82 515.2 1186.98 515.5 1187.15 515.2 1187.48 514.5 1187.81 513.7 1188.13 512.7 1188.46 511.7 1188.79 510.6 1189.12 509.4 1189.45 508.2 1189.77 507.0 1190.10 505.8 1190.43 504.6 1190.76 503.4 1191.09 502.3 1191.41 501.3 1191.74 500.4 1192.07 499.5 1192.40 498.8 1192.55 498.6 1192.73 498.9 1193.05 499.8 1193.38 500.8 1193.71 501.9 1194.04 503.2 1194.36 504.5 1194.69 505.8 1195.02 507.1 1195.35 508.4 1195.68 509.6 1196.00 510.7 1196.33 511.7 1196.66 512.4 1196.72 512.6 1196.99 512.3 1197.32 512.0 1197.64 511.5 1197.97 511.1 1198.30 510.6 1198.63 510.3 1198.81 510.1 1198.95 510.7 1199.28 512.5 1199.61 514.7 1199.94 517.1 1200.27 519.2 1200.59 520.7 1200.62 520.8 1200.92 519.1 1201.25 516.6 1201.58 513.6 1201.91 510.4 1202.23 506.9 1202.56 503.4 1202.89 500.0 1203.22 496.7 1203.54 493.9 1203.87 491.5 1204.10 490.3 1204.20 490.7 1204.53 492.1 1204.86 494.0 1205.18 496.1 1205.51 498.5 1205.84 500.9 1206.17 503.3 1206.50 505.7 1206.82 507.9 1207.15 509.8 1207.48 511.4 1207.58 511.8 1207.81 511.9 1208.13 512.1 1208.46 512.2 1208.79 512.4 1209.12 512.5 1209.25 512.6 1209.45 513.3 1209.77 514.8 1210.10 516.6 1210.43 518.5 1210.76 520.2 1211.09 521.7 1211.34 522.5 1211.41 522.0 1211.74 519.1 1212.07 515.5 1212.40 511.2 1212.73 506.6 1213.05 501.7 1213.38 496.9 1213.71 492.2 1214.04 487.9 1214.36 484.1 1214.69 481.1 1214.82 480.3 1215.02 482.7 1215.35 487.8 1215.68 494.0 1216.00 501.1 1216.33 508.5 1216.66 516.1 1216.99 523.4 1217.32 530.1 1217.64 535.8 1217.97 540.2 1218.02 540.7 1218.30 536.7 1218.63 530.5 1218.95 523.1 1219.28 514.9 1219.61 506.3 1219.94 497.8 1220.27 489.9 1220.59 482.9 1220.92 477.2 1221.08 475.2 1221.25 478.0 1221.58 485.1 1221.91 493.9 1222.23 503.9 1222.56 514.6 1222.89 525.5 1223.22 536.0 1223.54 545.7 1223.87 554.1 1224.20 560.7 1224.28 562.0 1224.53 556.5 1224.86 547.0 1225.18 535.6 1225.51 522.8 1225.84 509.2 1226.17 495.5 1226.50 482.1 1226.82 469.7 1227.15 458.8 1227.48 450.1 1227.62 447.1 1227.81 449.4 1228.13 454.0 1228.46 459.4 1228.79 465.5 1229.12 472.3 1229.45 479.5 1229.77 487.1 1230.10 494.9 1230.43 503.0 1230.76 511.1 1231.09 519.1 1231.41 527.0 1231.74 534.7 1232.07 541.9 1232.40 548.7 1232.73 554.9 1233.05 560.5 1233.38 565.2 1233.61 567.9 1233.71 565.7 1234.04 556.7 1234.36 545.4 1234.69 532.4 1235.02 518.2 1235.35 503.3 1235.68 488.1 1236.00 473.3 1236.33 459.2 1236.66 446.5 1236.99 435.6 1237.32 427.0 1237.36 425.9 1237.64 433.7 1237.97 445.7 1238.30 460.1 1238.63 476.1 1238.95 493.0 1239.28 509.8 1239.61 525.9 1239.94 540.4 1240.27 552.7 1240.57 561.1 1240.59 560.7 1240.92 554.0 1241.25 545.0 1241.58 534.6 1241.91 523.4 1242.23 512.0 1242.56 501.2 1242.89 491.8 1243.22 484.3 1243.35 482.0 1243.54 484.7 1243.87 490.8 1244.20 498.4 1244.53 506.9 1244.86 515.7 1245.18 524.3 1245.51 532.2 1245.84 538.9 1246.13 543.3 1246.17 542.8 1246.50 537.3 1246.82 530.1 1247.15 521.7 1247.48 512.5 1247.81 503.0 1248.13 493.7 1248.46 485.1 1248.79 477.7 1249.12 472.0 1249.20 470.9 1249.45 474.2 1249.77 479.6 1250.10 486.0 1250.43 493.2 1250.76 501.0 1251.09 509.3 1251.41 517.8 1251.74 526.3 1252.07 534.7 1252.40 542.8 1252.73 550.3 1253.05 557.1 1253.38 563.0 1253.71 567.8 1253.79 568.8 1254.04 560.8 1254.36 546.8 1254.69 529.9 1255.02 511.1 1255.35 491.4 1255.68 471.8 1256.00 453.2 1256.33 436.8 1256.66 423.4 1256.85 417.4 1256.99 422.7 1257.32 438.7 1257.64 458.7 1257.97 481.5 1258.30 506.3 1258.63 532.0 1258.95 557.5 1259.28 582.0 1259.61 604.3 1259.94 623.5 1260.27 638.5 1260.33 640.9 1260.59 629.8 1260.92 612.3 1261.25 591.3 1261.58 567.8 1261.91 542.4 1262.23 515.9 1262.56 489.2 1262.89 462.9 1263.22 437.9 1263.54 414.9 1263.87 394.7 1264.20 378.1 1264.38 370.7 1264.53 377.4 1264.86 396.6 1265.18 420.6 1265.51 448.0 1265.84 477.4 1266.17 507.4 1266.50 536.6 1266.82 563.7 1267.15 587.2 1267.48 605.7 1267.58 610.4 1267.81 601.9 1268.13 585.5 1268.46 565.5 1268.79 543.2 1269.12 519.6 1269.45 496.1 1269.77 473.7 1270.10 453.8 1270.43 437.5 1270.65 429.3 1270.76 434.0 1271.09 452.3 1271.41 475.8 1271.74 502.3 1272.07 529.9 1272.40 556.4 1272.73 579.7 1273.05 597.8 1273.15 601.9 1273.38 593.0 1273.71 575.9 1274.04 555.0 1274.36 532.0 1274.69 508.4 1275.02 486.0 1275.35 466.2 1275.68 450.6 1275.80 446.3 1276.00 452.2 1276.33 464.8 1276.66 480.4 1276.99 497.4 1277.32 514.8 1277.64 531.0 1277.97 544.9 1278.30 555.1 1278.30 555.2 1278.63 546.8 1278.95 535.1 1279.28 521.5 1279.61 507.1 1279.94 493.2 1280.27 481.0 1280.59 471.6 1280.67 470.1 1280.92 473.3 1281.25 478.8 1281.58 485.5 1281.91 492.9 1282.23 500.5 1282.56 507.9 1282.89 514.5 1283.22 520.0 1283.45 522.9 1283.54 522.6 1283.87 521.4 1284.20 519.9 1284.53 518.2 1284.86 516.3 1285.18 514.3 1285.51 512.1 1285.84 510.0 1286.17 507.8 1286.50 505.6 1286.82 503.6 1287.15 501.6 1287.48 499.9 1287.81 498.3 1288.13 497.0 1288.32 496.4 1288.46 498.4 1288.79 504.6 1289.12 512.3 1289.45 521.2 1289.77 530.7 1290.10 540.4 1290.43 549.8 1290.76 558.6 1291.09 566.2 1291.41 572.3 1291.52 573.9 1291.74 568.1 1292.07 556.9 1292.40 543.3 1292.73 528.0 1293.05 511.5 1293.38 494.5 1293.71 477.6 1294.04 461.4 1294.36 446.5 1294.69 433.5 1295.02 423.1 1295.14 420.0 1295.35 424.4 1295.68 433.4 1296.00 444.3 1296.33 456.7 1296.66 470.0 1296.99 483.8 1297.32 497.6 1297.64 510.8 1297.97 522.9 1298.30 533.5 1298.63 542.0 1298.76 544.8 1298.95 544.7 1299.28 544.4 1299.61 544.1 1299.94 543.7 1300.27 543.4 1300.57 543.2 1300.59 543.3 1300.92 544.0 1301.25 545.1 1301.58 546.3 1301.91 547.4 1302.23 548.1 1302.24 548.1 1302.56 540.2 1302.89 529.3 1303.22 516.3 1303.54 502.2 1303.87 487.6 1304.20 473.5 1304.53 460.6 1304.86 449.7 1305.17 442.0 1305.18 442.4 1305.51 450.3 1305.84 460.7 1306.17 472.8 1306.50 486.2 1306.82 500.2 1307.15 514.2 1307.48 527.7 1307.81 539.9 1308.13 550.4 1308.46 558.6 1308.51 559.4 1308.79 554.6 1309.12 547.0 1309.45 538.0 1309.77 528.1 1310.10 518.0 1310.43 508.3 1310.76 499.6 1311.09 492.5 1311.29 489.2 1311.41 489.8 1311.74 491.9 1312.07 494.7 1312.40 497.5 1312.73 500.2 1313.05 502.1 1313.10 502.3 1313.38 501.7 1313.71 500.8 1314.04 499.8 1314.36 498.7 1314.69 497.9 1314.91 497.5 1315.02 498.1 1315.35 500.4 1315.68 503.3 1316.00 506.7 1316.33 510.3 1316.66 513.9 1316.99 517.5 1317.32 520.7 1317.64 523.4 1317.97 525.5 1317.97 525.5 1318.30 522.9 1318.63 519.4 1318.95 515.3 1319.28 510.8 1319.61 506.1 1319.94 501.5 1320.27 497.0 1320.59 493.1 1320.92 489.8 1321.17 487.9 1321.25 488.5 1321.58 492.0 1321.91 496.3 1322.23 501.4 1322.56 506.9 1322.89 512.6 1323.22 518.3 1323.54 523.7 1323.87 528.6 1324.20 532.7 1324.51 535.7 1324.53 535.5 1324.86 532.4 1325.18 528.4 1325.51 523.6 1325.84 518.3 1326.17 512.7 1326.50 507.1 1326.82 501.5 1327.15 496.3 1327.48 491.5 1327.81 487.5 1328.13 484.5 1328.13 484.5 1328.46 487.1 1328.79 490.6 1329.12 494.6 1329.45 499.1 1329.77 503.8 1330.10 508.5 1330.43 513.0 1330.76 517.1 1331.09 520.7 1331.41 523.4 1331.47 523.8 1331.74 522.4 1332.07 520.1 1332.40 517.3 1332.73 514.2 1333.05 511.0 1333.38 507.8 1333.71 504.9 1334.04 502.5 1334.36 500.6 1334.40 500.4 1334.69 501.7 1335.02 503.5 1335.35 505.7 1335.68 508.2 1336.00 510.7 1336.33 513.2 1336.66 515.5 1336.99 517.5 1337.32 519.2 1337.46 519.7 1337.64 518.7 1337.97 516.4 1338.30 513.5 1338.63 510.3 1338.95 506.9 1339.28 503.6 1339.61 500.6 1339.94 498.1 1340.24 496.3 1340.27 496.4 1340.59 498.1 1340.92 500.3 1341.25 502.9 1341.58 505.7 1341.91 508.6 1342.23 511.5 1342.56 514.2 1342.89 516.7 1343.22 518.7 1343.44 519.8 1343.54 519.4 1343.87 517.7 1344.20 515.6 1344.53 513.2 1344.86 510.7 1345.18 508.1 1345.51 505.7 1345.84 503.7 1346.17 502.1 1346.23 501.9 1346.50 502.2 1346.82 502.5 1347.15 502.9 1347.48 503.4 1347.81 503.9 1348.13 504.4 1348.46 505.0 1348.79 505.6 1349.12 506.2 1349.45 506.8 1349.77 507.4 1350.10 508.1 1350.43 508.7 1350.76 509.3 1351.09 509.9 1351.41 510.5 1351.74 511.0 1352.07 511.5 1352.40 512.0 1352.73 512.4 1353.05 512.8 1353.38 513.1 1353.46 513.2 1353.71 512.8 1354.04 512.1 1354.36 511.3 1354.69 510.4 1355.02 509.4 1355.35 508.3 1355.68 507.3 1356.00 506.4 1356.33 505.5 1356.66 504.8 1356.94 504.4 1356.99 504.4 1357.32 504.7 1357.64 505.0 1357.97 505.3 1358.30 505.8 1358.63 506.2 1358.95 506.7 1359.28 507.1 1359.61 507.6 1359.94 508.2 1360.27 508.7 1360.59 509.2 1360.92 509.7 1361.25 510.2 1361.58 510.6 1361.91 511.1 1362.23 511.5 1362.56 511.8 1362.89 512.1 1363.21 512.4 1363.22 512.4 1363.54 511.9 1363.87 511.3 1364.20 510.6 1364.53 509.8 1364.86 509.0 1365.18 508.1 1365.51 507.3 1365.84 506.4 1366.17 505.7 1366.50 505.0 1366.82 504.5 1366.97 504.3 1367.15 504.5 1367.48 504.9 1367.81 505.4 1368.13 505.9 1368.46 506.5 1368.79 507.1 1369.12 507.7 1369.45 508.3 1369.77 509.0 1370.10 509.6 1370.43 510.1 1370.76 510.7 1371.09 511.1 1371.41 511.5 1371.56 511.6 1371.74 511.4 1372.07 510.9 1372.40 510.4 1372.73 509.7 1373.05 509.0 1373.38 508.3 1373.71 507.6 1374.04 507.0 1374.36 506.5 1374.69 506.0 1374.76 506.0 1375.02 506.2 1375.35 506.7 1375.68 507.2 1376.00 507.8 1376.33 508.5 1376.66 509.1 1376.99 509.7 1377.32 510.2 1377.64 510.6 1377.82 510.8 1377.97 510.7 1378.30 510.5 1378.63 510.2 1378.95 509.8 1379.28 509.4 1379.61 509.0 1379.94 508.6 1380.27 508.2 1380.59 507.8 1380.92 507.5 1381.25 507.3 1381.30 507.2 1381.58 507.3 1381.91 507.5 1382.23 507.7 1382.56 507.9 1382.89 508.1 1383.22 508.3 1383.54 508.6 1383.87 508.8 1384.20 509.0 1384.53 509.1 1384.78 509.2 1384.86 509.2 1385.18 509.2 1385.51 509.2 1385.84 509.2 1386.17 509.2 1386.50 509.2 1386.82 509.2 1387.15 509.1 1387.48 509.1 1387.81 509.1 1388.13 509.1 1388.46 509.1 1388.79 509.1 1389.12 509.1 1389.45 509.1 1389.77 509.1 1390.10 509.0 1390.43 509.0 1390.76 509.0 1391.09 509.0 1391.41 509.0 1391.74 509.0 1392.07 509.0 1392.40 508.9 1392.73 508.9 1393.05 508.9 1393.38 508.9 1393.71 508.9 1394.04 508.9 1394.36 508.8 1394.69 508.8 1395.02 508.8 1395.35 508.8 1395.68 508.7 1396.00 508.7 1396.33 508.7 1396.66 508.7 1396.99 508.6 1397.32 508.6 1397.64 508.6 1397.97 508.6 1398.00 508.5" fill="none" stroke="#1f77b4" stroke-width="3.3" stroke-linejoin="round" stroke-linecap="butt"/>
<rect x="1370" y="358.3" width="350.7" height="298.1" fill="none" stroke="#161616" stroke-width="2"/>
<path d="M1384.8 657.1v10M1545.4 657.1v10M1705.9 657.1v10M1369.3 406.5h-10M1369.3 509.6h-10M1369.3 612.9h-10" stroke="#161616" stroke-width="2" fill="none"/>
<text class="tk" transform="translate(1352.8 419.33) scale(1 1.1)" text-anchor="end">1</text>
<text class="tk" transform="translate(1352.8 522.43) scale(1 1.1)" text-anchor="end">0</text>
<text class="tk" transform="translate(1349.6 625.73) scale(1 1.1)" text-anchor="end">−1</text>
<clipPath id="hc4"><rect x="2.2" y="710.9" width="298.2" height="298.5"/></clipPath>
<g clip-path="url(#hc4)">
<g shape-rendering="crispEdges">
<rect x="1.25" y="709.8" width="37.85" height="37.94" fill="#f7fbff"/>
<rect x="38.6" y="709.8" width="37.85" height="37.94" fill="#f7fbff"/>
<rect x="75.95" y="709.8" width="37.85" height="37.94" fill="#f7fbff"/>
<rect x="113.3" y="709.8" width="37.85" height="37.94" fill="#c6dbef"/>
<rect x="150.65" y="709.8" width="37.85" height="37.94" fill="#084082"/>
<rect x="188" y="709.8" width="37.85" height="37.94" fill="#2070b4"/>
<rect x="225.35" y="709.8" width="37.85" height="37.94" fill="#f7fbff"/>
<rect x="262.7" y="709.8" width="37.85" height="37.94" fill="#f7fbff"/>
<rect x="1.25" y="747.24" width="37.85" height="37.94" fill="#f7fbff"/>
<rect x="38.6" y="747.24" width="37.85" height="37.94" fill="#f7fbff"/>
<rect x="75.95" y="747.24" width="37.85" height="37.94" fill="#d2e3f3"/>
<rect x="113.3" y="747.24" width="37.85" height="37.94" fill="#08306b"/>
<rect x="150.65" y="747.24" width="37.85" height="37.94" fill="#084082"/>
<rect x="188" y="747.24" width="37.85" height="37.94" fill="#08509b"/>
<rect x="225.35" y="747.24" width="37.85" height="37.94" fill="#f7fbff"/>
<rect x="262.7" y="747.24" width="37.85" height="37.94" fill="#f7fbff"/>
<rect x="1.25" y="784.67" width="37.85" height="37.94" fill="#f7fbff"/>
<rect x="38.6" y="784.67" width="37.85" height="37.94" fill="#f7fbff"/>
<rect x="75.95" y="784.67" width="37.85" height="37.94" fill="#6aaed6"/>
<rect x="113.3" y="784.67" width="37.85" height="37.94" fill="#1460a8"/>
<rect x="150.65" y="784.67" width="37.85" height="37.94" fill="#6aaed6"/>
<rect x="188" y="784.67" width="37.85" height="37.94" fill="#08306b"/>
<rect x="225.35" y="784.67" width="37.85" height="37.94" fill="#f7fbff"/>
<rect x="262.7" y="784.67" width="37.85" height="37.94" fill="#f7fbff"/>
<rect x="1.25" y="822.11" width="37.85" height="37.94" fill="#f7fbff"/>
<rect x="38.6" y="822.11" width="37.85" height="37.94" fill="#f7fbff"/>
<rect x="75.95" y="822.11" width="37.85" height="37.94" fill="#eaf3fb"/>
<rect x="113.3" y="822.11" width="37.85" height="37.94" fill="#9dcae1"/>
<rect x="150.65" y="822.11" width="37.85" height="37.94" fill="#084082"/>
<rect x="188" y="822.11" width="37.85" height="37.94" fill="#3181bd"/>
<rect x="225.35" y="822.11" width="37.85" height="37.94" fill="#f7fbff"/>
<rect x="262.7" y="822.11" width="37.85" height="37.94" fill="#f7fbff"/>
<rect x="1.25" y="859.55" width="37.85" height="37.94" fill="#f7fbff"/>
<rect x="38.6" y="859.55" width="37.85" height="37.94" fill="#eaf3fb"/>
<rect x="75.95" y="859.55" width="37.85" height="37.94" fill="#6aaed6"/>
<rect x="113.3" y="859.55" width="37.85" height="37.94" fill="#1460a8"/>
<rect x="150.65" y="859.55" width="37.85" height="37.94" fill="#084082"/>
<rect x="188" y="859.55" width="37.85" height="37.94" fill="#eaf3fb"/>
<rect x="225.35" y="859.55" width="37.85" height="37.94" fill="#f7fbff"/>
<rect x="262.7" y="859.55" width="37.85" height="37.94" fill="#f7fbff"/>
<rect x="1.25" y="896.99" width="37.85" height="37.94" fill="#f7fbff"/>
<rect x="38.6" y="896.99" width="37.85" height="37.94" fill="#56a0ce"/>
<rect x="75.95" y="896.99" width="37.85" height="37.94" fill="#08306b"/>
<rect x="113.3" y="896.99" width="37.85" height="37.94" fill="#08306b"/>
<rect x="150.65" y="896.99" width="37.85" height="37.94" fill="#b2d2e8"/>
<rect x="188" y="896.99" width="37.85" height="37.94" fill="#f7fbff"/>
<rect x="225.35" y="896.99" width="37.85" height="37.94" fill="#f7fbff"/>
<rect x="262.7" y="896.99" width="37.85" height="37.94" fill="#f7fbff"/>
<rect x="1.25" y="934.42" width="37.85" height="37.94" fill="#f7fbff"/>
<rect x="38.6" y="934.42" width="37.85" height="37.94" fill="#d2e3f3"/>
<rect x="75.95" y="934.42" width="37.85" height="37.94" fill="#1460a8"/>
<rect x="113.3" y="934.42" width="37.85" height="37.94" fill="#08306b"/>
<rect x="150.65" y="934.42" width="37.85" height="37.94" fill="#08306b"/>
<rect x="188" y="934.42" width="37.85" height="37.94" fill="#3181bd"/>
<rect x="225.35" y="934.42" width="37.85" height="37.94" fill="#b2d2e8"/>
<rect x="262.7" y="934.42" width="37.85" height="37.94" fill="#f7fbff"/>
<rect x="1.25" y="971.86" width="37.85" height="37.94" fill="#f7fbff"/>
<rect x="38.6" y="971.86" width="37.85" height="37.94" fill="#f7fbff"/>
<rect x="75.95" y="971.86" width="37.85" height="37.94" fill="#f7fbff"/>
<rect x="113.3" y="971.86" width="37.85" height="37.94" fill="#d2e3f3"/>
<rect x="150.65" y="971.86" width="37.85" height="37.94" fill="#3181bd"/>
<rect x="188" y="971.86" width="37.85" height="37.94" fill="#08306b"/>
<rect x="225.35" y="971.86" width="37.85" height="37.94" fill="#56a0ce"/>
<rect x="262.7" y="971.86" width="37.85" height="37.94" fill="#f7fbff"/>
</g>
<path d="M1.25 707.8V1011.3M-0.75 709.8H302.05M38.6 707.8V1011.3M-0.75 747.24H302.05M75.95 707.8V1011.3M-0.75 784.67H302.05M113.3 707.8V1011.3M-0.75 822.11H302.05M150.65 707.8V1011.3M-0.75 859.55H302.05M188 707.8V1011.3M-0.75 896.99H302.05M225.35 707.8V1011.3M-0.75 934.42H302.05M262.7 707.8V1011.3M-0.75 971.86H302.05M300.05 707.8V1011.3M-0.75 1009.3H302.05" stroke="#1612f0" stroke-width="2.9" fill="none"/>
</g>
<rect x="2.2" y="710.9" width="298.2" height="298.5" fill="none" stroke="#08081c" stroke-width="2.3"/>
<path transform="scale(1.22 1)" d="M372.90 859.7 373.23 859.7 373.56 859.7 373.89 859.7 374.22 859.7 374.54 859.7 374.87 859.7 375.20 859.7 375.53 859.7 375.86 859.7 376.18 859.7 376.51 859.7 376.84 859.7 377.17 859.7 377.49 859.7 377.82 859.7 378.15 859.7 378.48 859.7 378.81 859.7 379.13 859.7 379.46 859.7 379.79 859.7 380.12 859.7 380.45 859.7 380.77 859.7 381.10 859.7 381.43 859.7 381.76 859.7 382.08 859.7 382.41 859.7 382.74 859.7 383.07 859.7 383.40 859.7 383.72 859.7 384.05 859.7 384.32 859.7 384.38 859.7 384.71 859.7 385.04 859.6 385.36 859.6 385.69 859.6 386.02 859.6 386.35 859.5 386.67 859.5 387.00 859.5 387.33 859.4 387.66 859.4 387.99 859.4 388.31 859.3 388.64 859.3 388.97 859.3 389.30 859.2 389.63 859.2 389.95 859.1 390.28 859.1 390.61 859.1 390.94 859.0 391.27 859.0 391.59 859.0 391.92 859.0 392.25 858.9 392.58 858.9 392.90 858.9 393.23 858.9 393.37 858.9 393.56 859.0 393.89 859.2 394.22 859.5 394.54 859.9 394.87 860.2 395.20 860.6 395.53 860.9 395.86 861.3 396.18 861.6 396.51 861.8 396.57 861.8 396.84 861.5 397.17 861.0 397.49 860.4 397.82 859.7 398.15 859.0 398.48 858.3 398.81 857.7 399.13 857.1 399.46 856.6 399.63 856.4 399.79 856.6 400.12 857.2 400.45 857.8 400.77 858.6 401.10 859.4 401.43 860.2 401.76 861.1 402.08 861.9 402.41 862.6 402.74 863.2 403.07 863.7 403.11 863.7 403.40 863.3 403.72 862.8 404.05 862.1 404.38 861.3 404.71 860.5 405.04 859.7 405.36 858.8 405.69 858.0 406.02 857.2 406.35 856.4 406.67 855.8 407.00 855.2 407.28 854.8 407.33 854.9 407.66 855.5 407.99 856.3 408.31 857.3 408.64 858.3 408.97 859.4 409.30 860.5 409.63 861.6 409.95 862.7 410.28 863.7 410.61 864.5 410.94 865.2 411.04 865.3 411.27 864.9 411.59 864.1 411.92 863.1 412.25 862.0 412.58 860.8 412.90 859.6 413.23 858.4 413.56 857.1 413.89 856.0 414.22 855.0 414.54 854.1 414.87 853.4 414.94 853.2 415.20 853.7 415.53 854.5 415.86 855.5 416.18 856.6 416.51 857.7 416.84 859.0 417.17 860.2 417.49 861.4 417.82 862.6 418.15 863.7 418.48 864.7 418.81 865.5 419.12 866.1 419.13 866.0 419.46 864.8 419.79 863.2 420.12 861.3 420.45 859.3 420.77 857.1 421.10 854.8 421.43 852.6 421.76 850.5 422.08 848.5 422.41 846.8 422.74 845.4 422.87 845.0 423.07 846.2 423.40 849.0 423.72 852.3 424.05 856.0 424.38 860.1 424.71 864.2 425.04 868.3 425.36 872.2 425.69 875.7 426.02 878.7 426.35 881.0 426.35 881.0 426.67 878.2 427.00 874.5 427.33 870.1 427.66 865.2 427.99 860.0 428.31 854.7 428.64 849.5 428.97 844.6 429.30 840.1 429.63 836.3 429.95 833.4 429.97 833.3 430.28 836.2 430.61 840.3 430.94 845.2 431.27 850.6 431.59 856.3 431.92 862.0 432.25 867.5 432.58 872.6 432.90 876.9 433.23 880.3 433.31 881.0 433.56 879.2 433.89 876.0 434.22 872.2 434.54 867.9 434.87 863.4 435.20 859.1 435.53 855.0 435.86 851.5 436.18 848.9 436.24 848.5 436.51 851.0 436.84 854.9 437.17 859.5 437.49 864.6 437.82 869.8 438.15 874.7 438.48 878.9 438.81 882.1 438.88 882.7 439.13 879.0 439.46 872.6 439.79 864.9 440.12 856.4 440.45 847.5 440.77 838.8 441.10 830.8 441.43 823.8 441.76 818.6 441.80 818.0 442.08 822.5 442.41 829.5 442.74 837.9 443.07 847.2 443.40 856.8 443.72 866.4 444.05 875.4 444.38 883.3 444.71 889.7 444.87 892.0 445.04 890.4 445.36 886.1 445.69 880.8 446.02 874.8 446.35 868.5 446.67 862.3 447.00 856.7 447.33 851.8 447.65 848.4 447.66 848.4 447.99 850.2 448.31 852.5 448.64 855.2 448.97 858.2 449.30 861.2 449.63 864.0 449.95 866.6 450.28 868.6 450.43 869.3 450.61 867.6 450.94 863.3 451.27 857.9 451.59 852.2 451.92 846.7 452.25 842.0 452.52 839.2 452.58 839.5 452.90 841.5 453.23 844.1 453.56 847.1 453.89 850.4 454.22 853.9 454.54 857.5 454.87 861.1 455.20 864.5 455.53 867.7 455.86 870.5 456.18 872.9 456.42 874.2 456.51 874.0 456.84 872.9 457.17 871.7 457.49 870.3 457.82 868.8 458.15 867.2 458.48 865.5 458.81 863.7 459.13 861.8 459.46 859.8 459.79 857.8 460.12 855.8 460.45 853.8 460.77 851.8 461.10 849.8 461.43 847.8 461.76 845.8 462.08 844.0 462.41 842.2 462.74 840.5 463.07 838.9 463.40 837.5 463.72 836.2 464.05 835.0 464.35 834.1 464.38 834.4 464.71 838.4 465.04 843.7 465.36 849.9 465.69 856.6 466.02 863.7 466.35 870.6 466.67 877.2 467.00 883.0 467.33 887.8 467.55 890.4 467.66 889.6 467.99 886.7 468.31 883.0 468.64 878.7 468.97 874.1 469.30 869.3 469.63 864.6 469.95 860.1 470.28 856.1 470.61 852.7 470.89 850.5 470.94 850.5 471.27 851.3 471.59 852.2 471.92 853.3 472.25 854.3 472.58 855.1 472.70 855.3 472.90 854.9 473.23 853.9 473.56 852.7 473.89 851.7 474.10 851.3 474.22 851.7 474.54 853.2 474.87 855.1 475.20 857.3 475.53 859.6 475.86 862.0 476.18 864.3 476.51 866.3 476.84 868.1 477.16 869.4 477.17 869.3 477.49 867.8 477.82 865.9 478.15 863.5 478.48 861.0 478.81 858.3 479.13 855.6 479.46 853.1 479.79 850.9 480.12 849.0 480.36 848.0 480.45 848.1 480.77 848.7 481.10 849.4 481.43 850.3 481.76 851.2 482.08 852.2 482.41 853.2 482.74 854.2 483.07 855.2 483.14 855.4 483.40 856.7 483.72 858.4 484.05 860.4 484.38 862.4 484.71 864.5 485.04 866.6 485.36 868.7 485.69 870.6 486.02 872.5 486.35 874.2 486.67 875.6 487.00 876.8 487.04 876.9 487.33 875.6 487.66 873.8 487.99 871.7 488.31 869.5 488.64 867.0 488.97 864.3 489.30 861.6 489.63 858.7 489.95 855.7 490.28 852.6 490.61 849.6 490.94 846.5 491.27 843.5 491.59 840.6 491.92 837.7 492.25 835.0 492.58 832.5 492.90 830.1 493.23 827.9 493.56 826.0 493.89 824.4 494.00 823.9 494.22 829.0 494.54 838.7 494.87 850.4 495.20 863.8 495.53 878.1 495.86 893.0 496.18 907.9 496.51 922.4 496.84 935.9 497.17 947.9 497.49 957.9 497.76 964.2 497.82 962.5 498.15 951.8 498.48 938.6 498.81 923.3 499.13 906.4 499.46 888.3 499.79 869.4 500.12 850.2 500.45 831.3 500.77 812.9 501.10 795.7 501.43 779.9 501.76 766.2 502.08 754.9 502.23 750.9 502.41 758.6 502.74 775.8 503.07 797.0 503.40 821.0 503.72 846.9 504.05 873.7 504.38 900.5 504.71 926.2 505.04 950.0 505.36 970.8 505.69 987.6 505.85 993.9 506.02 984.4 506.35 960.9 506.67 931.8 507.00 898.8 507.33 863.8 507.66 828.6 507.99 794.9 508.31 764.5 508.64 739.2 508.91 723.7 508.97 726.4 509.30 744.1 509.63 766.9 509.95 793.5 510.28 822.4 510.61 852.3 510.94 881.8 511.27 909.4 511.59 933.8 511.92 953.7 512.11 962.5 512.25 956.5 512.58 936.2 512.90 910.7 513.23 883.9 513.56 859.8 513.89 842.1 513.92 840.9 514.22 844.0 514.54 849.0 514.87 854.6 515.20 860.1 515.53 864.6 515.73 866.6 515.86 865.5 516.18 862.0 516.51 857.5 516.84 852.3 517.17 846.8 517.49 841.3 517.82 835.9 518.15 831.0 518.48 826.9 518.79 823.9 518.81 824.0 519.13 826.1 519.46 828.8 519.79 831.9 520.12 835.4 520.45 839.1 520.77 843.0 521.10 847.1 521.43 851.2 521.76 855.2 522.08 859.1 522.41 862.8 522.74 866.1 523.07 869.2 523.40 871.7 523.66 873.4 523.72 873.2 524.05 871.8 524.38 870.0 524.71 868.0 525.04 865.8 525.36 863.4 525.69 861.0 526.02 858.5 526.35 856.1 526.67 853.8 527.00 851.7 527.33 849.9 527.66 848.3 527.84 847.7 527.99 848.6 528.31 851.4 528.64 854.8 528.97 858.7 529.30 862.9 529.63 867.2 529.95 871.4 530.28 875.2 530.61 878.6 530.94 881.2 531.04 881.9 531.27 879.5 531.59 875.1 531.92 869.6 532.25 863.6 532.58 857.1 532.90 850.6 533.23 844.4 533.56 838.7 533.89 833.8 534.22 830.1 534.24 829.9 534.54 833.6 534.87 839.1 535.20 845.6 535.53 852.5 535.86 859.3 536.18 865.2 536.51 869.8 536.61 870.8 536.84 868.7 537.17 864.8 537.49 860.0 537.82 854.7 538.15 849.2 538.48 844.1 538.81 839.5 539.13 835.9 539.25 835.0 539.46 838.7 539.79 846.4 540.12 855.8 540.45 866.4 540.77 877.4 541.10 888.4 541.43 898.6 541.76 907.5 542.08 914.4 542.17 915.8 542.41 911.4 542.74 903.4 543.07 893.9 543.40 883.1 543.72 871.6 544.05 859.8 544.38 848.3 544.71 837.3 545.04 827.5 545.36 819.3 545.65 813.7 545.69 813.9 546.02 816.0 546.35 818.5 546.67 821.3 547.00 824.4 547.33 827.8 547.66 831.4 547.99 835.2 548.31 839.1 548.64 843.1 548.97 847.1 549.30 851.0 549.63 854.9 549.95 858.7 550.28 862.2 550.61 865.6 550.94 868.7 551.27 871.5 551.59 873.9 551.92 875.9 551.92 875.9 552.25 873.9 552.58 871.2 552.90 868.1 553.23 864.7 553.56 861.0 553.89 857.3 554.22 853.7 554.54 850.4 554.87 847.5 555.20 845.0 555.40 843.9 555.53 844.1 555.86 844.6 556.18 845.2 556.51 845.8 556.84 846.5 557.17 847.3 557.49 848.1 557.82 848.9 558.15 849.8 558.48 850.7 558.81 851.7 559.13 852.6 559.46 853.7 559.79 854.7 560.12 855.7 560.45 856.8 560.55 857.1 560.77 858.8 561.10 861.5 561.43 864.5 561.76 867.8 562.08 871.1 562.41 874.4 562.74 877.4 563.07 880.2 563.40 882.4 563.61 883.6 563.72 882.6 564.05 879.2 564.38 874.9 564.71 870.0 565.04 864.6 565.36 858.9 565.69 853.3 566.02 847.8 566.35 842.7 566.67 838.2 567.00 834.4 567.23 832.4 567.33 833.3 567.66 837.0 567.99 841.7 568.31 847.1 568.64 852.8 568.97 858.6 569.30 863.9 569.63 868.5 569.95 872.0 570.01 872.5 570.28 869.9 570.61 865.5 570.94 860.3 571.27 854.7 571.59 849.1 571.92 844.2 572.25 840.3 572.38 839.2 572.58 841.5 572.90 846.6 573.23 852.8 573.56 859.8 573.89 867.1 574.22 874.4 574.54 881.2 574.87 887.1 575.20 891.8 575.30 892.9 575.53 890.2 575.86 885.2 576.18 879.1 576.51 872.2 576.84 864.8 577.17 857.4 577.49 850.1 577.82 843.3 578.15 837.4 578.48 832.6 578.64 830.7 578.81 832.0 579.13 835.4 579.46 839.6 579.79 844.3 580.12 849.5 580.45 854.8 580.77 860.0 581.10 865.0 581.43 869.6 581.76 873.5 582.08 876.5 582.12 876.8 582.41 874.7 582.74 871.7 583.07 868.0 583.40 864.0 583.72 859.9 584.05 856.0 584.38 852.5 584.71 849.6 584.91 848.3 585.04 848.8 585.36 850.2 585.69 851.9 586.02 853.9 586.35 856.0 586.67 858.2 587.00 860.4 587.33 862.6 587.66 864.5 587.99 866.2 588.31 867.5 588.39 867.7 588.64 867.1 588.97 866.1 589.30 864.9 589.63 863.6 589.95 862.1 590.28 860.6 590.61 859.0 590.94 857.5 591.27 856.0 591.59 854.7 591.92 853.5 592.25 852.4 592.56 851.6 592.58 851.7 592.90 852.5 593.23 853.5 593.56 854.7 593.89 856.1 594.22 857.5 594.54 859.0 594.87 860.6 595.20 862.1 595.53 863.7 595.86 865.1 596.18 866.4 596.51 867.6 596.84 868.6 597.15 869.4 597.17 869.4 597.49 868.4 597.82 867.2 598.15 865.8 598.48 864.2 598.81 862.5 599.13 860.7 599.46 859.0 599.79 857.4 600.12 855.9 600.45 854.6 600.77 853.5 600.91 853.1 601.10 853.4 601.43 853.9 601.76 854.6 602.08 855.3 602.41 856.1 602.74 856.9 603.07 857.8 603.40 858.6 603.72 859.5 604.05 860.2 604.38 860.9 604.71 861.5 605.04 862.0 605.09 862.1 605.36 861.7 605.69 861.2 606.02 860.6 606.35 860.0 606.67 859.3 607.00 858.6 607.33 857.9 607.66 857.3 607.99 856.8 608.29 856.4 608.31 856.5 608.64 856.9 608.97 857.4 609.30 858.1 609.63 858.8 609.95 859.5 610.28 860.3 610.61 861.0 610.94 861.6 611.27 862.2 611.59 862.7 611.77 862.9 611.92 862.7 612.25 862.3 612.58 861.6 612.90 861.0 613.23 860.2 613.56 859.5 613.89 858.8 614.22 858.1 614.54 857.6 614.83 857.2 614.87 857.3 615.20 857.5 615.53 857.9 615.86 858.3 616.18 858.8 616.51 859.3 616.84 859.7 617.17 860.1 617.49 860.4 617.62 860.5 617.82 860.5 618.15 860.5 618.48 860.5 618.81 860.5 619.13 860.5 619.46 860.5 619.79 860.5 620.12 860.4 620.45 860.4 620.77 860.4 621.10 860.4 621.43 860.4 621.76 860.4 622.08 860.4 622.41 860.4 622.74 860.4 623.07 860.4 623.40 860.4 623.72 860.4 624.05 860.3 624.38 860.3 624.71 860.3 625.04 860.3 625.36 860.3 625.69 860.3 626.02 860.3 626.35 860.3 626.67 860.3 627.00 860.2 627.33 860.2 627.66 860.2 627.99 860.2 628.31 860.2 628.64 860.2 628.97 860.2 629.30 860.2 629.63 860.1 629.95 860.1 630.28 860.1 630.61 860.1 630.94 860.1 631.27 860.1 631.59 860.0 631.92 860.0 632.25 860.0 632.58 860.0 632.90 860.0 633.23 859.9 633.56 859.9 633.89 859.9 634.22 859.9 634.54 859.9 634.87 859.8 635.20 859.8 635.53 859.8 635.86 859.8 636.18 859.8 636.51 859.7 636.84 859.7 637.10 859.7" fill="none" stroke="#1f77b4" stroke-width="3.3" stroke-linejoin="round" stroke-linecap="butt"/>
<rect x="440.3" y="710.9" width="350.6" height="298.5" fill="none" stroke="#161616" stroke-width="2"/>
<path d="M455.1 1010.1v10M616.6 1010.1v10M778.1 1010.1v10M439.6 761.5h-10M439.6 860.9h-10M439.6 958.7h-10" stroke="#161616" stroke-width="2" fill="none"/>
<text class="tk" transform="translate(423.1 774.33) scale(1 1.1)" text-anchor="end">1</text>
<text class="tk" transform="translate(423.1 873.73) scale(1 1.1)" text-anchor="end">0</text>
<text class="tk" transform="translate(421.6 971.53) scale(1 1.1)" text-anchor="end">−1</text>
<clipPath id="hc5"><rect x="932" y="710.9" width="298" height="298.5"/></clipPath>
<g clip-path="url(#hc5)">
<g shape-rendering="crispEdges">
<rect x="930.1" y="709.8" width="37.85" height="37.94" fill="#f7fbff"/>
<rect x="967.45" y="709.8" width="37.85" height="37.94" fill="#f7fbff"/>
<rect x="1004.8" y="709.8" width="37.85" height="37.94" fill="#84bcdb"/>
<rect x="1042.15" y="709.8" width="37.85" height="37.94" fill="#6aaed6"/>
<rect x="1079.5" y="709.8" width="37.85" height="37.94" fill="#1460a8"/>
<rect x="1116.85" y="709.8" width="37.85" height="37.94" fill="#08306b"/>
<rect x="1154.2" y="709.8" width="37.85" height="37.94" fill="#084082"/>
<rect x="1191.55" y="709.8" width="37.85" height="37.94" fill="#eaf3fb"/>
<rect x="930.1" y="747.24" width="37.85" height="37.94" fill="#f7fbff"/>
<rect x="967.45" y="747.24" width="37.85" height="37.94" fill="#f7fbff"/>
<rect x="1004.8" y="747.24" width="37.85" height="37.94" fill="#84bcdb"/>
<rect x="1042.15" y="747.24" width="37.85" height="37.94" fill="#84bcdb"/>
<rect x="1079.5" y="747.24" width="37.85" height="37.94" fill="#c6dbef"/>
<rect x="1116.85" y="747.24" width="37.85" height="37.94" fill="#3181bd"/>
<rect x="1154.2" y="747.24" width="37.85" height="37.94" fill="#2070b4"/>
<rect x="1191.55" y="747.24" width="37.85" height="37.94" fill="#f7fbff"/>
<rect x="930.1" y="784.67" width="37.85" height="37.94" fill="#f7fbff"/>
<rect x="967.45" y="784.67" width="37.85" height="37.94" fill="#f7fbff"/>
<rect x="1004.8" y="784.67" width="37.85" height="37.94" fill="#f7fbff"/>
<rect x="1042.15" y="784.67" width="37.85" height="37.94" fill="#f7fbff"/>
<rect x="1079.5" y="784.67" width="37.85" height="37.94" fill="#6aaed6"/>
<rect x="1116.85" y="784.67" width="37.85" height="37.94" fill="#1460a8"/>
<rect x="1154.2" y="784.67" width="37.85" height="37.94" fill="#eaf3fb"/>
<rect x="1191.55" y="784.67" width="37.85" height="37.94" fill="#f7fbff"/>
<rect x="930.1" y="822.11" width="37.85" height="37.94" fill="#f7fbff"/>
<rect x="967.45" y="822.11" width="37.85" height="37.94" fill="#c6dbef"/>
<rect x="1004.8" y="822.11" width="37.85" height="37.94" fill="#6aaed6"/>
<rect x="1042.15" y="822.11" width="37.85" height="37.94" fill="#6aaed6"/>
<rect x="1079.5" y="822.11" width="37.85" height="37.94" fill="#084082"/>
<rect x="1116.85" y="822.11" width="37.85" height="37.94" fill="#084082"/>
<rect x="1154.2" y="822.11" width="37.85" height="37.94" fill="#9dcae1"/>
<rect x="1191.55" y="822.11" width="37.85" height="37.94" fill="#f7fbff"/>
<rect x="930.1" y="859.55" width="37.85" height="37.94" fill="#f7fbff"/>
<rect x="967.45" y="859.55" width="37.85" height="37.94" fill="#deebf7"/>
<rect x="1004.8" y="859.55" width="37.85" height="37.94" fill="#3181bd"/>
<rect x="1042.15" y="859.55" width="37.85" height="37.94" fill="#084082"/>
<rect x="1079.5" y="859.55" width="37.85" height="37.94" fill="#084082"/>
<rect x="1116.85" y="859.55" width="37.85" height="37.94" fill="#c6dbef"/>
<rect x="1154.2" y="859.55" width="37.85" height="37.94" fill="#f7fbff"/>
<rect x="1191.55" y="859.55" width="37.85" height="37.94" fill="#f7fbff"/>
<rect x="930.1" y="896.99" width="37.85" height="37.94" fill="#f7fbff"/>
<rect x="967.45" y="896.99" width="37.85" height="37.94" fill="#f7fbff"/>
<rect x="1004.8" y="896.99" width="37.85" height="37.94" fill="#f7fbff"/>
<rect x="1042.15" y="896.99" width="37.85" height="37.94" fill="#08306b"/>
<rect x="1079.5" y="896.99" width="37.85" height="37.94" fill="#b2d2e8"/>
<rect x="1116.85" y="896.99" width="37.85" height="37.94" fill="#f7fbff"/>
<rect x="1154.2" y="896.99" width="37.85" height="37.94" fill="#f7fbff"/>
<rect x="1191.55" y="896.99" width="37.85" height="37.94" fill="#f7fbff"/>
<rect x="930.1" y="934.42" width="37.85" height="37.94" fill="#f7fbff"/>
<rect x="967.45" y="934.42" width="37.85" height="37.94" fill="#f7fbff"/>
<rect x="1004.8" y="934.42" width="37.85" height="37.94" fill="#56a0ce"/>
<rect x="1042.15" y="934.42" width="37.85" height="37.94" fill="#084082"/>
<rect x="1079.5" y="934.42" width="37.85" height="37.94" fill="#eaf3fb"/>
<rect x="1116.85" y="934.42" width="37.85" height="37.94" fill="#f7fbff"/>
<rect x="1154.2" y="934.42" width="37.85" height="37.94" fill="#f7fbff"/>
<rect x="1191.55" y="934.42" width="37.85" height="37.94" fill="#f7fbff"/>
<rect x="930.1" y="971.86" width="37.85" height="37.94" fill="#f7fbff"/>
<rect x="967.45" y="971.86" width="37.85" height="37.94" fill="#f7fbff"/>
<rect x="1004.8" y="971.86" width="37.85" height="37.94" fill="#1460a8"/>
<rect x="1042.15" y="971.86" width="37.85" height="37.94" fill="#b2d2e8"/>
<rect x="1079.5" y="971.86" width="37.85" height="37.94" fill="#f7fbff"/>
<rect x="1116.85" y="971.86" width="37.85" height="37.94" fill="#f7fbff"/>
<rect x="1154.2" y="971.86" width="37.85" height="37.94" fill="#f7fbff"/>
<rect x="1191.55" y="971.86" width="37.85" height="37.94" fill="#f7fbff"/>
</g>
<path d="M930.1 707.8V1011.3M928.1 709.8H1230.9M967.45 707.8V1011.3M928.1 747.24H1230.9M1004.8 707.8V1011.3M928.1 784.67H1230.9M1042.15 707.8V1011.3M928.1 822.11H1230.9M1079.5 707.8V1011.3M928.1 859.55H1230.9M1116.85 707.8V1011.3M928.1 896.99H1230.9M1154.2 707.8V1011.3M928.1 934.42H1230.9M1191.55 707.8V1011.3M928.1 971.86H1230.9M1228.9 707.8V1011.3M928.1 1009.3H1230.9" stroke="#1612f0" stroke-width="2.9" fill="none"/>
</g>
<rect x="932" y="710.9" width="298" height="298.5" fill="none" stroke="#08081c" stroke-width="2.3"/>
<path transform="scale(1.22 1)" d="M1134.36 856.8 1134.69 856.8 1135.02 856.8 1135.35 856.8 1135.68 856.8 1136.00 856.8 1136.33 856.8 1136.66 856.8 1136.99 856.8 1137.32 856.8 1137.64 856.8 1137.97 856.8 1138.30 856.8 1138.63 856.8 1138.95 856.8 1139.28 856.8 1139.61 856.8 1139.94 856.8 1140.27 856.8 1140.59 856.8 1140.92 856.8 1141.25 856.8 1141.58 856.8 1141.91 856.8 1142.23 856.8 1142.56 856.8 1142.89 856.8 1143.22 856.8 1143.54 856.8 1143.87 856.8 1144.20 856.8 1144.53 856.8 1144.86 856.8 1145.18 856.8 1145.51 856.8 1145.84 856.8 1146.17 856.8 1146.50 856.8 1146.82 856.8 1147.15 856.8 1147.48 856.8 1147.81 856.8 1148.13 856.8 1148.46 856.8 1148.79 856.8 1149.12 856.8 1149.45 856.8 1149.77 856.8 1150.10 856.8 1150.43 856.8 1150.76 856.8 1150.79 856.8 1151.09 856.9 1151.41 856.9 1151.74 857.1 1152.07 857.2 1152.40 857.3 1152.73 857.4 1153.05 857.6 1153.38 857.7 1153.71 857.8 1154.04 857.9 1154.36 858.0 1154.69 858.1 1154.69 858.1 1155.02 858.0 1155.35 857.9 1155.68 857.8 1156.00 857.7 1156.33 857.6 1156.66 857.5 1156.99 857.3 1157.32 857.2 1157.64 857.0 1157.97 856.9 1158.30 856.7 1158.63 856.6 1158.95 856.4 1159.28 856.3 1159.61 856.1 1159.94 855.9 1160.27 855.8 1160.59 855.6 1160.92 855.5 1161.25 855.4 1161.58 855.2 1161.91 855.1 1162.23 855.0 1162.56 854.9 1162.89 854.8 1163.22 854.7 1163.32 854.7 1163.54 855.1 1163.87 855.9 1164.20 856.8 1164.53 857.9 1164.86 859.0 1165.18 860.1 1165.51 861.2 1165.84 862.2 1166.17 863.0 1166.50 863.6 1166.52 863.7 1166.82 862.9 1167.15 861.8 1167.48 860.6 1167.81 859.1 1168.13 857.7 1168.46 856.1 1168.79 854.7 1169.12 853.3 1169.45 852.0 1169.77 851.0 1170.00 850.5 1170.10 850.6 1170.43 851.1 1170.76 851.6 1171.09 852.2 1171.41 852.9 1171.74 853.6 1172.07 854.3 1172.40 855.0 1172.73 855.7 1173.05 856.3 1173.06 856.3 1173.38 856.7 1173.71 857.2 1174.04 857.6 1174.36 858.1 1174.69 858.5 1175.02 858.9 1175.35 859.3 1175.68 859.7 1176.00 860.0 1176.33 860.3 1176.54 860.4 1176.66 860.3 1176.99 860.1 1177.32 859.9 1177.64 859.6 1177.97 859.3 1178.30 859.0 1178.63 858.7 1178.95 858.3 1179.28 858.0 1179.61 857.6 1179.94 857.2 1180.27 856.8 1180.59 856.4 1180.71 856.3 1180.92 855.8 1181.25 855.0 1181.58 854.1 1181.91 853.1 1182.23 852.1 1182.56 851.2 1182.89 850.2 1183.22 849.4 1183.54 848.7 1183.87 848.1 1183.92 848.0 1184.20 849.4 1184.53 851.5 1184.86 854.0 1185.18 856.8 1185.51 859.6 1185.84 862.5 1186.17 865.2 1186.50 867.5 1186.82 869.4 1186.98 870.1 1187.15 869.3 1187.48 867.2 1187.81 864.7 1188.13 861.9 1188.46 858.8 1188.79 855.6 1189.12 852.5 1189.45 849.5 1189.77 846.8 1190.10 844.4 1190.43 842.7 1190.46 842.5 1190.76 844.2 1191.09 846.5 1191.41 849.3 1191.74 852.4 1192.07 855.6 1192.40 858.8 1192.73 861.7 1193.05 864.3 1193.38 866.4 1193.52 867.1 1193.71 866.8 1194.04 866.2 1194.36 865.5 1194.69 864.8 1195.02 863.9 1195.35 863.0 1195.68 862.1 1196.00 861.1 1196.33 860.1 1196.66 859.0 1196.72 858.8 1196.99 856.9 1197.32 854.1 1197.64 851.1 1197.97 847.8 1198.30 844.5 1198.63 841.2 1198.95 838.2 1199.28 835.5 1199.61 833.3 1199.78 832.4 1199.94 834.0 1200.27 838.3 1200.59 843.6 1200.92 849.6 1201.25 856.2 1201.58 862.9 1201.91 869.6 1202.23 876.0 1202.56 881.9 1202.89 886.9 1203.22 890.8 1203.26 891.2 1203.54 888.0 1203.87 883.0 1204.20 877.1 1204.53 870.5 1204.86 863.6 1205.18 856.7 1205.51 850.1 1205.84 844.1 1206.17 839.1 1206.46 835.7 1206.50 835.8 1206.82 837.1 1207.15 838.8 1207.48 840.8 1207.81 843.0 1208.13 845.3 1208.46 847.7 1208.79 850.0 1209.12 852.3 1209.45 854.4 1209.77 856.3 1209.94 857.1 1210.10 857.5 1210.43 858.4 1210.76 859.2 1211.09 859.9 1211.41 860.7 1211.74 861.4 1212.07 862.1 1212.40 862.7 1212.73 863.2 1213.05 863.6 1213.15 863.7 1213.38 862.9 1213.71 861.4 1214.04 859.5 1214.36 857.4 1214.69 855.2 1215.02 852.9 1215.35 850.7 1215.68 848.7 1216.00 846.9 1216.33 845.5 1216.49 844.9 1216.66 846.6 1216.99 850.7 1217.32 855.7 1217.64 861.4 1217.97 867.6 1218.30 873.8 1218.63 879.8 1218.95 885.4 1219.28 890.2 1219.61 893.9 1219.69 894.6 1219.94 889.8 1220.27 881.7 1220.59 872.0 1220.92 861.0 1221.25 849.3 1221.58 837.2 1221.91 825.1 1222.23 813.4 1222.56 802.6 1222.89 792.9 1223.22 785.0 1223.45 780.6 1223.54 782.9 1223.87 792.2 1224.20 803.8 1224.53 817.2 1224.86 831.9 1225.18 847.4 1225.51 863.2 1225.84 878.9 1226.17 893.9 1226.50 907.7 1226.82 919.9 1227.15 929.9 1227.34 934.5 1227.48 932.1 1227.81 924.8 1228.13 915.7 1228.46 905.3 1228.79 894.0 1229.12 882.3 1229.45 870.6 1229.77 859.5 1230.10 849.3 1230.43 840.5 1230.76 833.7 1230.82 832.6 1231.09 832.9 1231.41 833.4 1231.74 834.0 1232.07 834.6 1232.40 835.2 1232.73 835.6 1232.91 835.8 1233.05 835.5 1233.38 834.6 1233.71 833.5 1234.04 832.2 1234.36 831.0 1234.69 830.0 1235.00 829.3 1235.02 829.5 1235.35 833.9 1235.68 839.5 1236.00 846.0 1236.33 853.2 1236.66 860.9 1236.99 868.9 1237.32 876.8 1237.64 884.4 1237.97 891.5 1238.30 897.8 1238.63 903.1 1238.90 906.5 1238.95 905.7 1239.28 900.1 1239.61 893.0 1239.94 884.7 1240.27 875.6 1240.59 865.9 1240.92 856.1 1241.25 846.5 1241.58 837.3 1241.91 828.9 1242.23 821.7 1242.56 815.9 1242.65 814.6 1242.89 818.2 1243.22 824.8 1243.54 832.8 1243.87 841.8 1244.20 851.2 1244.53 860.6 1244.86 869.5 1245.18 877.4 1245.51 883.9 1245.72 887.0 1245.84 885.9 1246.17 882.2 1246.50 877.7 1246.82 872.5 1247.15 866.8 1247.48 861.0 1247.81 855.1 1248.13 849.5 1248.46 844.4 1248.79 839.9 1249.12 836.5 1249.20 835.8 1249.45 836.7 1249.77 838.2 1250.10 840.0 1250.43 842.1 1250.76 844.3 1251.09 846.6 1251.41 849.0 1251.74 851.4 1252.07 853.7 1252.40 856.0 1252.73 858.1 1253.05 860.0 1253.38 861.7 1253.71 863.0 1253.79 863.3 1254.04 862.0 1254.36 859.8 1254.69 857.0 1255.02 854.0 1255.35 850.9 1255.68 847.8 1256.00 845.1 1256.33 842.9 1256.57 841.6 1256.66 842.7 1256.99 847.9 1257.32 854.4 1257.64 861.9 1257.97 870.2 1258.30 878.8 1258.63 887.4 1258.95 895.7 1259.28 903.3 1259.61 909.9 1259.94 915.2 1260.05 916.7 1260.27 911.2 1260.59 900.9 1260.92 888.6 1261.25 874.6 1261.58 859.3 1261.91 843.2 1262.23 826.5 1262.56 809.7 1262.89 793.2 1263.22 777.2 1263.54 762.3 1263.87 748.6 1264.20 736.8 1264.53 727.0 1264.66 723.7 1264.86 734.1 1265.18 756.7 1265.51 784.4 1265.84 815.7 1266.17 849.1 1266.50 882.9 1266.82 915.6 1267.15 945.6 1267.48 971.3 1267.81 991.2 1267.86 993.9 1268.13 977.8 1268.46 951.6 1268.79 920.3 1269.12 885.8 1269.45 850.5 1269.77 816.4 1270.10 785.8 1270.43 760.8 1270.65 748.3 1270.76 753.0 1271.09 770.8 1271.41 793.5 1271.74 819.5 1272.07 847.0 1272.40 874.4 1272.73 899.8 1273.05 921.8 1273.38 938.5 1273.43 940.4 1273.71 930.7 1274.04 914.9 1274.36 896.1 1274.69 876.0 1275.02 856.4 1275.35 838.8 1275.68 825.1 1275.80 821.4 1276.00 824.1 1276.33 829.9 1276.66 837.0 1276.99 844.9 1277.32 853.1 1277.64 861.1 1277.97 868.4 1278.30 874.6 1278.58 878.5 1278.63 878.1 1278.95 874.4 1279.28 869.4 1279.61 863.7 1279.94 857.7 1280.27 851.9 1280.59 846.6 1280.92 842.4 1281.09 840.8 1281.25 841.3 1281.58 842.4 1281.91 843.7 1282.23 845.2 1282.56 846.8 1282.89 848.5 1283.22 850.4 1283.54 852.2 1283.87 854.1 1284.20 856.0 1284.53 857.8 1284.86 859.5 1285.18 861.1 1285.51 862.5 1285.84 863.7 1286.17 864.8 1286.24 864.9 1286.50 863.7 1286.82 861.7 1287.15 859.3 1287.48 856.6 1287.81 853.8 1288.13 850.8 1288.46 847.9 1288.79 845.1 1289.12 842.6 1289.45 840.4 1289.77 838.7 1289.85 838.3 1290.10 839.4 1290.43 841.3 1290.76 843.6 1291.09 846.1 1291.41 848.8 1291.74 851.6 1292.07 854.4 1292.40 857.1 1292.73 859.6 1293.05 861.9 1293.38 863.7 1293.61 864.7 1293.71 864.7 1294.04 864.4 1294.36 864.1 1294.69 863.7 1295.02 863.4 1295.35 863.2 1295.42 863.1 1295.68 865.2 1296.00 869.1 1296.33 873.6 1296.66 878.0 1296.99 881.3 1297.09 882.1 1297.32 879.2 1297.64 873.7 1297.97 867.1 1298.30 859.6 1298.63 851.6 1298.95 843.2 1299.28 834.9 1299.61 826.8 1299.94 819.3 1300.27 812.6 1300.59 807.0 1300.85 803.5 1300.92 804.7 1301.25 811.5 1301.58 819.9 1301.91 829.7 1302.23 840.6 1302.56 852.0 1302.89 863.7 1303.22 875.4 1303.54 886.5 1303.87 896.8 1304.20 906.0 1304.53 913.5 1304.75 917.5 1304.86 915.8 1305.18 909.2 1305.51 901.2 1305.84 891.9 1306.17 881.7 1306.50 870.8 1306.82 859.7 1307.15 848.5 1307.48 837.6 1307.81 827.4 1308.13 818.0 1308.46 809.8 1308.79 803.2 1308.92 801.0 1309.12 804.5 1309.45 812.1 1309.77 821.4 1310.10 832.0 1310.43 843.2 1310.76 854.6 1311.09 865.6 1311.41 875.7 1311.74 884.4 1312.07 891.1 1312.12 892.0 1312.40 888.7 1312.73 883.4 1313.05 877.0 1313.38 869.9 1313.71 862.7 1314.04 855.7 1314.36 849.4 1314.69 844.3 1314.91 841.7 1315.02 842.3 1315.35 844.5 1315.68 847.3 1316.00 850.5 1316.33 853.9 1316.66 857.4 1316.99 860.8 1317.32 863.9 1317.64 866.5 1317.97 868.4 1317.97 868.4 1318.30 867.2 1318.63 865.5 1318.95 863.5 1319.28 861.3 1319.61 859.0 1319.94 856.6 1320.27 854.4 1320.59 852.2 1320.92 850.4 1321.25 848.8 1321.45 848.1 1321.58 848.4 1321.91 849.4 1322.23 850.6 1322.56 852.0 1322.89 853.5 1323.22 855.0 1323.54 856.4 1323.87 857.6 1324.20 858.5 1324.23 858.6 1324.53 857.7 1324.86 856.4 1325.18 854.9 1325.51 853.3 1325.84 851.7 1326.17 850.3 1326.50 849.2 1326.60 848.9 1326.82 850.4 1327.15 853.3 1327.48 856.9 1327.81 860.9 1328.13 865.0 1328.46 869.1 1328.79 873.0 1329.12 876.3 1329.45 878.8 1329.52 879.3 1329.77 877.2 1330.10 873.6 1330.43 869.2 1330.76 864.4 1331.09 859.2 1331.41 853.9 1331.74 848.6 1332.07 843.7 1332.40 839.3 1332.73 835.7 1333.00 833.3 1333.05 833.6 1333.38 836.7 1333.71 840.8 1334.04 845.5 1334.36 850.6 1334.69 855.8 1335.02 861.0 1335.35 865.7 1335.68 869.8 1336.00 872.9 1336.07 873.4 1336.33 871.6 1336.66 868.7 1336.99 865.2 1337.32 861.3 1337.64 857.3 1337.97 853.5 1338.30 850.0 1338.63 847.2 1338.85 845.8 1338.95 846.0 1339.28 846.9 1339.61 847.9 1339.94 849.1 1340.27 850.4 1340.59 851.8 1340.92 853.3 1341.25 854.8 1341.58 856.4 1341.91 857.9 1342.23 859.3 1342.56 860.6 1342.89 861.9 1343.22 862.9 1343.54 863.8 1343.72 864.2 1343.87 863.8 1344.20 862.4 1344.53 860.8 1344.86 858.9 1345.18 856.9 1345.51 854.8 1345.84 852.6 1346.17 850.5 1346.50 848.6 1346.82 846.8 1347.15 845.3 1347.48 844.1 1347.48 844.1 1347.81 845.5 1348.13 847.3 1348.46 849.4 1348.79 851.8 1349.12 854.3 1349.45 856.8 1349.77 859.2 1350.10 861.5 1350.43 863.5 1350.76 865.2 1350.96 866.0 1351.09 865.3 1351.41 863.0 1351.74 860.1 1352.07 856.9 1352.40 853.8 1352.73 851.0 1353.05 849.1 1353.05 849.1 1353.38 850.4 1353.71 852.2 1354.04 854.2 1354.36 856.4 1354.69 858.7 1355.02 861.0 1355.35 863.2 1355.68 865.2 1356.00 866.8 1356.25 867.7 1356.33 867.4 1356.66 866.1 1356.99 864.3 1357.32 862.3 1357.64 860.1 1357.97 857.9 1358.30 855.7 1358.63 853.8 1358.95 852.1 1359.28 850.8 1359.31 850.7 1359.61 851.0 1359.94 851.5 1360.27 851.9 1360.59 852.5 1360.92 853.1 1361.25 853.7 1361.58 854.4 1361.91 855.1 1362.23 855.8 1362.56 856.5 1362.89 857.2 1363.22 857.9 1363.54 858.7 1363.87 859.4 1364.20 860.0 1364.53 860.7 1364.86 861.3 1365.18 861.9 1365.51 862.4 1365.84 862.9 1366.17 863.3 1366.41 863.6 1366.50 863.4 1366.82 862.4 1367.15 861.2 1367.48 859.7 1367.81 858.2 1368.13 856.6 1368.46 855.0 1368.79 853.6 1369.12 852.4 1369.45 851.5 1369.47 851.5 1369.77 852.0 1370.10 852.8 1370.43 853.7 1370.76 854.8 1371.09 855.9 1371.41 857.0 1371.74 858.1 1372.07 859.1 1372.40 860.0 1372.73 860.8 1372.95 861.2 1373.05 861.0 1373.38 860.4 1373.71 859.6 1374.04 858.6 1374.36 857.6 1374.69 856.6 1375.02 855.7 1375.35 854.9 1375.68 854.3 1375.73 854.2 1376.00 854.4 1376.33 854.7 1376.66 855.1 1376.99 855.6 1377.32 856.1 1377.64 856.6 1377.97 857.0 1378.30 857.5 1378.63 857.9 1378.95 858.2 1379.21 858.4 1379.28 858.4 1379.61 858.2 1379.94 857.9 1380.27 857.6 1380.59 857.3 1380.92 857.0 1381.25 856.7 1381.58 856.4 1381.91 856.2 1382.00 856.1 1382.23 856.1 1382.56 856.1 1382.89 856.2 1383.22 856.2 1383.54 856.2 1383.87 856.2 1384.20 856.2 1384.53 856.2 1384.86 856.2 1385.18 856.2 1385.51 856.2 1385.84 856.2 1386.17 856.2 1386.50 856.2 1386.82 856.2 1387.15 856.3 1387.48 856.3 1387.81 856.3 1388.13 856.3 1388.46 856.3 1388.79 856.3 1389.12 856.3 1389.45 856.3 1389.77 856.3 1390.10 856.4 1390.43 856.4 1390.76 856.4 1391.09 856.4 1391.41 856.4 1391.74 856.4 1392.07 856.4 1392.40 856.4 1392.73 856.5 1393.05 856.5 1393.38 856.5 1393.71 856.5 1394.04 856.5 1394.36 856.5 1394.69 856.6 1395.02 856.6 1395.35 856.6 1395.68 856.6 1396.00 856.6 1396.33 856.7 1396.66 856.7 1396.99 856.7 1397.32 856.7 1397.64 856.8 1397.97 856.8 1398.00 856.8" fill="none" stroke="#1f77b4" stroke-width="3.3" stroke-linejoin="round" stroke-linecap="butt"/>
<rect x="1370" y="710.9" width="350.7" height="298.5" fill="none" stroke="#161616" stroke-width="2"/>
<path d="M1384.8 1010.1v10M1545.4 1010.1v10M1705.9 1010.1v10M1369.3 759.5h-10M1369.3 857.2h-10M1369.3 956.5h-10" stroke="#161616" stroke-width="2" fill="none"/>
<text class="tk" transform="translate(1352.8 772.33) scale(1 1.1)" text-anchor="end">1</text>
<text class="tk" transform="translate(1352.8 870.03) scale(1 1.1)" text-anchor="end">0</text>
<text class="tk" transform="translate(1349.6 969.33) scale(1 1.1)" text-anchor="end">−1</text>
<clipPath id="hc6"><rect x="2.2" y="1064" width="298.2" height="298.3"/></clipPath>
<g clip-path="url(#hc6)">
<g shape-rendering="crispEdges">
<rect x="1.25" y="1062.9" width="37.85" height="37.91" fill="#f7fbff"/>
<rect x="38.6" y="1062.9" width="37.85" height="37.91" fill="#f7fbff"/>
<rect x="75.95" y="1062.9" width="37.85" height="37.91" fill="#79b5d9"/>
<rect x="113.3" y="1062.9" width="37.85" height="37.91" fill="#08306b"/>
<rect x="150.65" y="1062.9" width="37.85" height="37.91" fill="#0a539e"/>
<rect x="188" y="1062.9" width="37.85" height="37.91" fill="#eaf2fb"/>
<rect x="225.35" y="1062.9" width="37.85" height="37.91" fill="#f7fbff"/>
<rect x="262.7" y="1062.9" width="37.85" height="37.91" fill="#f7fbff"/>
<rect x="1.25" y="1100.31" width="37.85" height="37.91" fill="#f7fbff"/>
<rect x="38.6" y="1100.31" width="37.85" height="37.91" fill="#60a7d2"/>
<rect x="75.95" y="1100.31" width="37.85" height="37.91" fill="#0a539e"/>
<rect x="113.3" y="1100.31" width="37.85" height="37.91" fill="#94c4df"/>
<rect x="150.65" y="1100.31" width="37.85" height="37.91" fill="#08306b"/>
<rect x="188" y="1100.31" width="37.85" height="37.91" fill="#c1d9ed"/>
<rect x="225.35" y="1100.31" width="37.85" height="37.91" fill="#f7fbff"/>
<rect x="262.7" y="1100.31" width="37.85" height="37.91" fill="#f7fbff"/>
<rect x="1.25" y="1137.73" width="37.85" height="37.91" fill="#f7fbff"/>
<rect x="38.6" y="1137.73" width="37.85" height="37.91" fill="#dceaf6"/>
<rect x="75.95" y="1137.73" width="37.85" height="37.91" fill="#eaf2fb"/>
<rect x="113.3" y="1137.73" width="37.85" height="37.91" fill="#0a539e"/>
<rect x="150.65" y="1137.73" width="37.85" height="37.91" fill="#0a539e"/>
<rect x="188" y="1137.73" width="37.85" height="37.91" fill="#f7fbff"/>
<rect x="225.35" y="1137.73" width="37.85" height="37.91" fill="#f7fbff"/>
<rect x="262.7" y="1137.73" width="37.85" height="37.91" fill="#f7fbff"/>
<rect x="1.25" y="1175.14" width="37.85" height="37.91" fill="#f7fbff"/>
<rect x="38.6" y="1175.14" width="37.85" height="37.91" fill="#f7fbff"/>
<rect x="75.95" y="1175.14" width="37.85" height="37.91" fill="#dceaf6"/>
<rect x="113.3" y="1175.14" width="37.85" height="37.91" fill="#08306b"/>
<rect x="150.65" y="1175.14" width="37.85" height="37.91" fill="#2575b7"/>
<rect x="188" y="1175.14" width="37.85" height="37.91" fill="#eaf2fb"/>
<rect x="225.35" y="1175.14" width="37.85" height="37.91" fill="#f7fbff"/>
<rect x="262.7" y="1175.14" width="37.85" height="37.91" fill="#f7fbff"/>
<rect x="1.25" y="1212.55" width="37.85" height="37.91" fill="#f7fbff"/>
<rect x="38.6" y="1212.55" width="37.85" height="37.91" fill="#f7fbff"/>
<rect x="75.95" y="1212.55" width="37.85" height="37.91" fill="#f7fbff"/>
<rect x="113.3" y="1212.55" width="37.85" height="37.91" fill="#eaf2fb"/>
<rect x="150.65" y="1212.55" width="37.85" height="37.91" fill="#1764ab"/>
<rect x="188" y="1212.55" width="37.85" height="37.91" fill="#1764ab"/>
<rect x="225.35" y="1212.55" width="37.85" height="37.91" fill="#eaf2fb"/>
<rect x="262.7" y="1212.55" width="37.85" height="37.91" fill="#f7fbff"/>
<rect x="1.25" y="1249.96" width="37.85" height="37.91" fill="#f7fbff"/>
<rect x="38.6" y="1249.96" width="37.85" height="37.91" fill="#f7fbff"/>
<rect x="75.95" y="1249.96" width="37.85" height="37.91" fill="#f7fbff"/>
<rect x="113.3" y="1249.96" width="37.85" height="37.91" fill="#f7fbff"/>
<rect x="150.65" y="1249.96" width="37.85" height="37.91" fill="#eaf2fb"/>
<rect x="188" y="1249.96" width="37.85" height="37.91" fill="#3787c0"/>
<rect x="225.35" y="1249.96" width="37.85" height="37.91" fill="#60a7d2"/>
<rect x="262.7" y="1249.96" width="37.85" height="37.91" fill="#f7fbff"/>
<rect x="1.25" y="1287.38" width="37.85" height="37.91" fill="#f7fbff"/>
<rect x="38.6" y="1287.38" width="37.85" height="37.91" fill="#f7fbff"/>
<rect x="75.95" y="1287.38" width="37.85" height="37.91" fill="#60a7d2"/>
<rect x="113.3" y="1287.38" width="37.85" height="37.91" fill="#c1d9ed"/>
<rect x="150.65" y="1287.38" width="37.85" height="37.91" fill="#abd0e6"/>
<rect x="188" y="1287.38" width="37.85" height="37.91" fill="#084285"/>
<rect x="225.35" y="1287.38" width="37.85" height="37.91" fill="#4a98c9"/>
<rect x="262.7" y="1287.38" width="37.85" height="37.91" fill="#f7fbff"/>
<rect x="1.25" y="1324.79" width="37.85" height="37.91" fill="#f7fbff"/>
<rect x="38.6" y="1324.79" width="37.85" height="37.91" fill="#f7fbff"/>
<rect x="75.95" y="1324.79" width="37.85" height="37.91" fill="#79b5d9"/>
<rect x="113.3" y="1324.79" width="37.85" height="37.91" fill="#0a539e"/>
<rect x="150.65" y="1324.79" width="37.85" height="37.91" fill="#0a539e"/>
<rect x="188" y="1324.79" width="37.85" height="37.91" fill="#4a98c9"/>
<rect x="225.35" y="1324.79" width="37.85" height="37.91" fill="#f7fbff"/>
<rect x="262.7" y="1324.79" width="37.85" height="37.91" fill="#f7fbff"/>
</g>
<path d="M1.25 1060.9V1364.2M-0.75 1062.9H302.05M38.6 1060.9V1364.2M-0.75 1100.31H302.05M75.95 1060.9V1364.2M-0.75 1137.73H302.05M113.3 1060.9V1364.2M-0.75 1175.14H302.05M150.65 1060.9V1364.2M-0.75 1212.55H302.05M188 1060.9V1364.2M-0.75 1249.96H302.05M225.35 1060.9V1364.2M-0.75 1287.38H302.05M262.7 1060.9V1364.2M-0.75 1324.79H302.05M300.05 1060.9V1364.2M-0.75 1362.2H302.05" stroke="#1612f0" stroke-width="2.9" fill="none"/>
</g>
<rect x="2.2" y="1064" width="298.2" height="298.3" fill="none" stroke="#08081c" stroke-width="2.3"/>
<path transform="scale(1.22 1)" d="M372.90 1212.7 373.23 1212.7 373.56 1212.7 373.89 1212.7 374.22 1212.7 374.54 1212.7 374.87 1212.7 375.20 1212.7 375.53 1212.7 375.86 1212.7 376.18 1212.7 376.51 1212.7 376.84 1212.7 377.17 1212.7 377.49 1212.7 377.82 1212.7 378.15 1212.7 378.48 1212.7 378.81 1212.7 379.13 1212.7 379.46 1212.7 379.79 1212.7 380.12 1212.7 380.45 1212.7 380.77 1212.7 381.10 1212.7 381.43 1212.7 381.76 1212.7 382.08 1212.7 382.41 1212.7 382.74 1212.7 383.07 1212.7 383.40 1212.7 383.72 1212.7 384.05 1212.7 384.38 1212.7 384.71 1212.7 385.04 1212.7 385.36 1212.7 385.69 1212.7 386.02 1212.7 386.35 1212.7 386.67 1212.7 387.00 1212.7 387.10 1212.7 387.33 1212.6 387.66 1212.6 387.99 1212.5 388.31 1212.4 388.64 1212.3 388.97 1212.2 389.30 1212.1 389.63 1212.0 389.95 1212.0 390.28 1211.9 390.58 1211.9 390.61 1211.9 390.94 1212.0 391.27 1212.3 391.59 1212.5 391.92 1212.8 392.25 1213.1 392.58 1213.4 392.90 1213.7 393.23 1214.0 393.56 1214.2 393.78 1214.3 393.89 1214.2 394.22 1213.8 394.54 1213.2 394.87 1212.6 395.20 1211.9 395.53 1211.3 395.86 1210.6 396.18 1210.0 396.51 1209.5 396.84 1209.1 396.85 1209.1 397.17 1209.7 397.49 1210.5 397.82 1211.4 398.15 1212.4 398.48 1213.5 398.81 1214.5 399.13 1215.5 399.46 1216.4 399.79 1217.2 400.05 1217.6 400.12 1217.6 400.45 1217.2 400.77 1216.8 401.10 1216.3 401.43 1215.8 401.76 1215.2 402.08 1214.7 402.41 1214.1 402.74 1213.5 403.07 1212.9 403.40 1212.4 403.72 1211.9 403.80 1211.8 404.05 1211.6 404.38 1211.3 404.71 1211.0 405.04 1210.7 405.36 1210.4 405.69 1210.1 406.02 1209.8 406.35 1209.6 406.67 1209.3 407.00 1209.1 407.33 1208.9 407.66 1208.7 407.98 1208.5 407.99 1208.5 408.31 1209.3 408.64 1210.3 408.97 1211.4 409.30 1212.7 409.63 1214.0 409.95 1215.4 410.28 1216.6 410.61 1217.7 410.94 1218.6 411.18 1219.2 411.27 1219.0 411.59 1218.1 411.92 1216.9 412.25 1215.5 412.58 1214.0 412.90 1212.5 413.23 1210.9 413.56 1209.4 413.89 1208.0 414.22 1206.8 414.54 1205.9 414.66 1205.6 414.87 1206.0 415.20 1206.7 415.53 1207.5 415.86 1208.5 416.18 1209.5 416.51 1210.5 416.84 1211.5 417.17 1212.5 417.49 1213.3 417.82 1214.0 418.00 1214.3 418.15 1214.2 418.48 1213.8 418.81 1213.4 419.13 1212.9 419.46 1212.4 419.79 1211.9 420.12 1211.4 420.45 1211.1 420.51 1211.1 420.77 1211.4 421.10 1211.8 421.43 1212.3 421.76 1213.0 422.08 1213.6 422.41 1214.2 422.74 1214.9 423.07 1215.5 423.40 1216.0 423.72 1216.5 423.99 1216.8 424.05 1216.7 424.38 1216.4 424.71 1216.0 425.04 1215.6 425.36 1215.1 425.69 1214.7 426.02 1214.1 426.35 1213.6 426.67 1213.0 427.00 1212.5 427.33 1211.9 427.66 1211.3 427.99 1210.7 428.31 1210.2 428.64 1209.6 428.86 1209.3 428.97 1209.1 429.30 1208.5 429.63 1207.9 429.95 1207.3 430.28 1206.7 430.61 1206.1 430.94 1205.5 431.27 1204.9 431.59 1204.4 431.92 1204.0 432.25 1203.6 432.34 1203.5 432.58 1204.6 432.90 1206.5 433.23 1208.8 433.56 1211.4 433.89 1214.1 434.22 1216.9 434.54 1219.6 434.87 1222.0 435.20 1224.0 435.53 1225.6 435.54 1225.6 435.86 1224.6 436.18 1223.2 436.51 1221.5 436.84 1219.7 437.17 1217.7 437.49 1215.6 437.82 1213.6 438.15 1211.5 438.48 1209.6 438.81 1207.7 439.13 1206.1 439.46 1204.8 439.72 1204.0 439.79 1204.3 440.12 1206.0 440.45 1208.1 440.77 1210.6 441.10 1213.3 441.43 1216.2 441.76 1219.2 442.08 1222.1 442.41 1224.8 442.74 1227.3 443.07 1229.4 443.40 1231.1 443.47 1231.5 443.72 1229.4 444.05 1225.9 444.38 1221.8 444.71 1217.1 445.04 1212.1 445.36 1206.9 445.69 1201.9 446.02 1197.2 446.35 1193.0 446.67 1189.4 446.95 1187.1 447.00 1187.5 447.33 1190.6 447.66 1194.7 447.99 1199.4 448.31 1204.6 448.64 1210.0 448.97 1215.2 449.30 1220.2 449.63 1224.6 449.95 1228.2 450.15 1229.9 450.28 1229.4 450.61 1227.6 450.94 1225.4 451.27 1222.8 451.59 1220.1 451.92 1217.3 452.25 1214.7 452.58 1212.2 452.90 1210.2 453.22 1208.7 453.23 1208.7 453.56 1209.9 453.89 1211.5 454.22 1213.3 454.54 1215.1 454.87 1216.8 455.20 1218.0 455.30 1218.3 455.53 1216.6 455.86 1213.1 456.18 1208.8 456.51 1204.1 456.84 1199.4 457.17 1195.2 457.49 1191.8 457.67 1190.5 457.82 1192.2 458.15 1196.9 458.48 1202.9 458.81 1209.6 459.13 1216.8 459.46 1224.2 459.79 1231.3 460.12 1238.0 460.45 1243.7 460.77 1248.2 460.87 1249.3 461.10 1247.5 461.43 1244.5 461.76 1241.0 462.08 1237.0 462.41 1232.6 462.74 1227.9 463.07 1223.0 463.40 1218.0 463.72 1212.9 464.05 1207.8 464.38 1202.8 464.71 1198.0 465.04 1193.5 465.36 1189.2 465.69 1185.4 466.02 1182.1 466.35 1179.3 466.44 1178.6 466.67 1181.7 467.00 1187.1 467.33 1193.7 467.66 1201.2 467.99 1209.2 468.31 1217.3 468.64 1225.3 468.97 1232.9 469.30 1239.7 469.63 1245.4 469.92 1249.3 469.95 1248.8 470.28 1241.9 470.61 1232.6 470.94 1222.0 471.27 1211.4 471.59 1201.8 471.92 1194.5 472.01 1193.0 472.25 1196.8 472.58 1203.5 472.90 1211.7 473.23 1220.8 473.56 1230.3 473.89 1239.8 474.22 1248.8 474.54 1256.8 474.87 1263.3 475.07 1266.3 475.20 1263.1 475.53 1253.0 475.86 1240.2 476.18 1225.6 476.51 1209.9 476.84 1193.8 477.17 1178.1 477.49 1163.5 477.82 1150.8 478.15 1140.8 478.27 1137.9 478.48 1142.2 478.81 1150.8 479.13 1161.2 479.46 1173.0 479.79 1185.8 480.12 1199.1 480.45 1212.6 480.77 1225.8 481.10 1238.3 481.43 1249.6 481.76 1259.4 482.08 1267.2 482.17 1268.8 482.41 1265.3 482.74 1259.3 483.07 1252.1 483.40 1244.0 483.72 1235.3 484.05 1226.1 484.38 1216.8 484.71 1207.6 485.04 1198.7 485.36 1190.4 485.69 1183.0 486.02 1176.7 486.34 1171.8 486.35 1171.8 486.67 1175.2 487.00 1179.6 487.33 1184.7 487.66 1190.4 487.99 1196.5 488.31 1202.8 488.64 1209.2 488.97 1215.4 489.30 1221.2 489.63 1226.5 489.95 1231.1 490.28 1234.8 490.38 1235.7 490.61 1233.6 490.94 1229.8 491.27 1225.2 491.59 1220.1 491.92 1214.5 492.25 1208.6 492.58 1202.6 492.90 1196.6 493.23 1190.8 493.56 1185.3 493.89 1180.3 494.22 1175.9 494.54 1172.3 494.70 1171.0 494.87 1174.7 495.20 1183.6 495.53 1194.5 495.86 1207.0 496.18 1220.4 496.51 1234.0 496.84 1247.5 497.17 1260.0 497.49 1271.2 497.82 1280.3 498.04 1285.0 498.15 1282.3 498.48 1273.2 498.81 1262.3 499.13 1249.7 499.46 1235.9 499.79 1221.0 500.12 1205.4 500.45 1189.4 500.77 1173.2 501.10 1157.2 501.43 1141.5 501.76 1126.6 502.08 1112.7 502.41 1100.1 502.74 1089.0 503.07 1079.9 503.20 1076.7 503.40 1086.6 503.72 1108.0 504.05 1134.2 504.38 1163.9 504.71 1195.6 505.04 1228.0 505.36 1259.8 505.69 1289.5 506.02 1315.7 506.35 1337.1 506.54 1346.9 506.67 1340.6 507.00 1320.1 507.33 1294.1 507.66 1264.6 507.99 1233.6 508.31 1202.8 508.64 1174.2 508.97 1149.8 509.30 1131.4 509.33 1130.2 509.63 1140.5 509.95 1155.4 510.28 1173.3 510.61 1192.8 510.94 1213.0 511.27 1232.6 511.59 1250.7 511.92 1265.9 512.25 1277.3 512.25 1277.3 512.58 1266.7 512.90 1252.1 513.23 1235.1 513.56 1217.1 513.89 1199.7 514.22 1184.5 514.54 1172.9 514.61 1171.0 514.87 1175.0 515.20 1181.8 515.53 1190.0 515.86 1199.0 516.18 1208.3 516.51 1217.4 516.84 1225.5 517.17 1232.2 517.40 1235.7 517.49 1235.3 517.82 1233.7 518.15 1231.9 518.48 1229.8 518.81 1227.4 519.13 1224.9 519.46 1222.3 519.79 1219.5 520.12 1216.6 520.45 1213.6 520.77 1210.7 521.10 1207.7 521.43 1204.8 521.76 1201.9 522.08 1199.1 522.41 1196.5 522.74 1194.0 523.07 1191.7 523.40 1189.7 523.72 1187.9 524.05 1186.4 524.08 1186.3 524.38 1191.4 524.71 1198.7 525.04 1207.4 525.36 1217.1 525.69 1227.3 526.02 1237.7 526.35 1247.8 526.67 1257.3 527.00 1265.7 527.33 1272.7 527.56 1276.5 527.66 1274.6 527.99 1266.8 528.31 1257.2 528.64 1246.1 528.97 1233.9 529.30 1221.0 529.63 1207.8 529.95 1194.6 530.28 1181.8 530.61 1169.9 530.94 1159.2 531.27 1150.1 531.59 1143.0 531.60 1143.0 531.92 1151.9 532.25 1164.1 532.58 1178.5 532.90 1194.2 533.23 1210.1 533.56 1225.2 533.89 1238.7 534.22 1249.5 534.38 1253.5 534.54 1250.0 534.87 1240.4 535.20 1228.4 535.53 1215.0 535.86 1201.3 536.18 1188.2 536.51 1177.0 536.84 1168.5 536.89 1167.6 537.17 1174.8 537.49 1186.0 537.82 1199.4 538.15 1214.2 538.48 1229.6 538.81 1244.9 539.13 1259.3 539.46 1271.9 539.79 1282.0 539.95 1285.8 540.12 1282.0 540.45 1272.7 540.77 1261.3 541.10 1248.3 541.43 1234.3 541.76 1219.8 542.08 1205.4 542.41 1191.8 542.74 1179.3 543.07 1168.8 543.40 1160.6 543.43 1159.9 543.72 1162.8 544.05 1166.7 544.38 1171.4 544.71 1176.6 545.04 1182.2 545.36 1188.2 545.69 1194.2 546.02 1200.3 546.35 1206.3 546.67 1212.0 547.00 1217.3 547.33 1222.1 547.66 1226.2 547.99 1229.5 548.02 1229.8 548.31 1228.1 548.64 1225.6 548.97 1222.7 549.30 1219.5 549.63 1216.1 549.95 1212.5 550.28 1209.0 550.61 1205.6 550.94 1202.5 551.27 1199.7 551.59 1197.5 551.78 1196.4 551.92 1197.4 552.25 1200.3 552.58 1204.0 552.90 1208.1 553.23 1212.3 553.56 1216.4 553.89 1219.9 554.22 1222.6 554.28 1223.0 554.54 1221.2 554.87 1218.1 555.20 1214.3 555.53 1210.2 555.86 1206.2 556.18 1202.4 556.51 1199.2 556.79 1197.3 556.84 1197.7 557.17 1201.6 557.49 1206.7 557.82 1212.5 558.15 1218.9 558.48 1225.2 558.81 1231.2 559.13 1236.5 559.46 1240.6 559.57 1241.7 559.79 1239.3 560.12 1234.7 560.45 1229.0 560.77 1222.7 561.10 1215.9 561.43 1208.9 561.76 1202.1 562.08 1195.6 562.41 1189.7 562.74 1184.8 563.05 1181.2 563.07 1181.3 563.40 1184.9 563.72 1189.6 564.05 1195.2 564.38 1201.3 564.71 1207.7 565.04 1214.1 565.36 1220.3 565.69 1225.9 566.02 1230.7 566.35 1234.4 566.39 1234.9 566.67 1232.8 567.00 1229.7 567.33 1226.0 567.66 1221.8 567.99 1217.4 568.31 1212.8 568.64 1208.4 568.97 1204.1 569.30 1200.2 569.63 1196.9 569.95 1194.3 570.01 1193.9 570.28 1195.9 570.61 1199.2 570.94 1203.1 571.27 1207.5 571.59 1212.1 571.92 1216.8 572.25 1221.4 572.58 1225.8 572.90 1229.7 573.23 1232.9 573.49 1234.9 573.56 1234.4 573.89 1231.5 574.22 1227.7 574.54 1223.4 574.87 1218.6 575.20 1213.8 575.53 1209.1 575.86 1204.8 576.18 1201.1 576.51 1198.2 576.55 1197.9 576.84 1199.3 577.17 1201.4 577.49 1203.9 577.82 1206.6 578.15 1209.5 578.48 1212.2 578.81 1214.6 579.13 1216.6 579.34 1217.5 579.46 1217.1 579.79 1215.7 580.12 1213.9 580.45 1211.9 580.77 1209.9 581.10 1208.2 581.43 1207.0 581.43 1207.0 581.76 1208.4 582.08 1210.3 582.41 1212.4 582.74 1214.8 583.07 1217.0 583.40 1219.1 583.72 1220.8 583.93 1221.6 584.05 1221.1 584.38 1219.2 584.71 1216.8 585.04 1214.1 585.36 1211.1 585.69 1208.2 586.02 1205.3 586.35 1202.7 586.67 1200.5 586.99 1198.9 587.00 1198.9 587.33 1200.6 587.66 1202.9 587.99 1205.5 588.31 1208.4 588.64 1211.4 588.97 1214.5 589.30 1217.5 589.63 1220.3 589.95 1222.8 590.28 1224.8 590.47 1225.7 590.61 1225.3 590.94 1223.9 591.27 1222.1 591.59 1220.1 591.92 1218.0 592.25 1215.7 592.58 1213.5 592.90 1211.4 593.23 1209.4 593.56 1207.8 593.89 1206.4 593.95 1206.2 594.22 1206.6 594.54 1207.1 594.87 1207.7 595.20 1208.4 595.53 1209.2 595.86 1210.0 596.18 1210.8 596.51 1211.7 596.84 1212.6 597.17 1213.4 597.49 1214.3 597.82 1215.1 598.15 1215.9 598.48 1216.6 598.81 1217.3 599.13 1217.8 599.46 1218.3 599.52 1218.4 599.79 1218.0 600.12 1217.5 600.45 1216.8 600.77 1216.0 601.10 1215.2 601.43 1214.4 601.76 1213.5 602.08 1212.7 602.41 1211.9 602.74 1211.1 603.07 1210.5 603.40 1209.9 603.70 1209.5 603.72 1209.5 604.05 1209.8 604.38 1210.2 604.71 1210.7 605.04 1211.2 605.36 1211.7 605.69 1212.3 606.02 1212.9 606.35 1213.5 606.67 1214.1 607.00 1214.6 607.33 1215.2 607.66 1215.7 607.99 1216.1 608.31 1216.5 608.57 1216.7 608.64 1216.6 608.97 1216.1 609.30 1215.5 609.63 1214.8 609.95 1214.0 610.28 1213.1 610.61 1212.3 610.94 1211.5 611.27 1210.7 611.59 1210.1 611.92 1209.6 612.05 1209.4 612.25 1209.6 612.58 1210.1 612.90 1210.7 613.23 1211.4 613.56 1212.1 613.89 1212.8 614.22 1213.5 614.54 1214.0 614.83 1214.3 614.87 1214.3 615.20 1214.1 615.53 1213.9 615.86 1213.7 616.18 1213.4 616.51 1213.1 616.84 1212.8 617.17 1212.6 617.49 1212.4 617.62 1212.3 617.82 1212.4 618.15 1212.4 618.48 1212.4 618.81 1212.4 619.13 1212.4 619.46 1212.4 619.79 1212.4 620.12 1212.4 620.45 1212.4 620.77 1212.4 621.10 1212.4 621.43 1212.4 621.76 1212.4 622.08 1212.4 622.41 1212.4 622.74 1212.4 623.07 1212.4 623.40 1212.4 623.72 1212.4 624.05 1212.4 624.38 1212.4 624.71 1212.4 625.04 1212.4 625.36 1212.4 625.69 1212.4 626.02 1212.4 626.35 1212.4 626.67 1212.4 627.00 1212.5 627.33 1212.5 627.66 1212.5 627.99 1212.5 628.31 1212.5 628.64 1212.5 628.97 1212.5 629.30 1212.5 629.63 1212.5 629.95 1212.5 630.28 1212.5 630.61 1212.5 630.94 1212.5 631.27 1212.5 631.59 1212.5 631.92 1212.5 632.25 1212.5 632.58 1212.6 632.90 1212.6 633.23 1212.6 633.56 1212.6 633.89 1212.6 634.22 1212.6 634.54 1212.6 634.87 1212.6 635.20 1212.6 635.53 1212.6 635.86 1212.6 636.18 1212.7 636.51 1212.7 636.84 1212.7 637.10 1212.7" fill="none" stroke="#1f77b4" stroke-width="3.3" stroke-linejoin="round" stroke-linecap="butt"/>
<rect x="440.3" y="1064" width="350.6" height="298.3" fill="none" stroke="#161616" stroke-width="2"/>
<path d="M455.1 1363v10M616.6 1363v10M778.1 1363v10M439.6 1116.4h-10M439.6 1213.9h-10M439.6 1309.5h-10" stroke="#161616" stroke-width="2" fill="none"/>
<text class="tk" transform="translate(423.1 1129.23) scale(1 1.1)" text-anchor="end">1</text>
<text class="tk" transform="translate(423.1 1226.73) scale(1 1.1)" text-anchor="end">0</text>
<text class="tk" transform="translate(421.6 1322.33) scale(1 1.1)" text-anchor="end">−1</text>
<clipPath id="hc7"><rect x="932" y="1064" width="298" height="298.3"/></clipPath>
<g clip-path="url(#hc7)">
<g shape-rendering="crispEdges">
<rect x="930.1" y="1062.9" width="37.85" height="37.91" fill="#f7fbff"/>
<rect x="967.45" y="1062.9" width="37.85" height="37.91" fill="#f7fbff"/>
<rect x="1004.8" y="1062.9" width="37.85" height="37.91" fill="#56a0ce"/>
<rect x="1042.15" y="1062.9" width="37.85" height="37.91" fill="#08509b"/>
<rect x="1079.5" y="1062.9" width="37.85" height="37.91" fill="#6aaed6"/>
<rect x="1116.85" y="1062.9" width="37.85" height="37.91" fill="#eaf3fb"/>
<rect x="1154.2" y="1062.9" width="37.85" height="37.91" fill="#f7fbff"/>
<rect x="1191.55" y="1062.9" width="37.85" height="37.91" fill="#f7fbff"/>
<rect x="930.1" y="1100.31" width="37.85" height="37.91" fill="#f7fbff"/>
<rect x="967.45" y="1100.31" width="37.85" height="37.91" fill="#f7fbff"/>
<rect x="1004.8" y="1100.31" width="37.85" height="37.91" fill="#2070b4"/>
<rect x="1042.15" y="1100.31" width="37.85" height="37.91" fill="#08509b"/>
<rect x="1079.5" y="1100.31" width="37.85" height="37.91" fill="#08509b"/>
<rect x="1116.85" y="1100.31" width="37.85" height="37.91" fill="#2070b4"/>
<rect x="1154.2" y="1100.31" width="37.85" height="37.91" fill="#f7fbff"/>
<rect x="1191.55" y="1100.31" width="37.85" height="37.91" fill="#f7fbff"/>
<rect x="930.1" y="1137.73" width="37.85" height="37.91" fill="#f7fbff"/>
<rect x="967.45" y="1137.73" width="37.85" height="37.91" fill="#f7fbff"/>
<rect x="1004.8" y="1137.73" width="37.85" height="37.91" fill="#56a0ce"/>
<rect x="1042.15" y="1137.73" width="37.85" height="37.91" fill="#4191c6"/>
<rect x="1079.5" y="1137.73" width="37.85" height="37.91" fill="#f7fbff"/>
<rect x="1116.85" y="1137.73" width="37.85" height="37.91" fill="#084082"/>
<rect x="1154.2" y="1137.73" width="37.85" height="37.91" fill="#c6dbef"/>
<rect x="1191.55" y="1137.73" width="37.85" height="37.91" fill="#f7fbff"/>
<rect x="930.1" y="1175.14" width="37.85" height="37.91" fill="#f7fbff"/>
<rect x="967.45" y="1175.14" width="37.85" height="37.91" fill="#f7fbff"/>
<rect x="1004.8" y="1175.14" width="37.85" height="37.91" fill="#d2e3f3"/>
<rect x="1042.15" y="1175.14" width="37.85" height="37.91" fill="#08306b"/>
<rect x="1079.5" y="1175.14" width="37.85" height="37.91" fill="#2070b4"/>
<rect x="1116.85" y="1175.14" width="37.85" height="37.91" fill="#08509b"/>
<rect x="1154.2" y="1175.14" width="37.85" height="37.91" fill="#deebf7"/>
<rect x="1191.55" y="1175.14" width="37.85" height="37.91" fill="#f7fbff"/>
<rect x="930.1" y="1212.55" width="37.85" height="37.91" fill="#f7fbff"/>
<rect x="967.45" y="1212.55" width="37.85" height="37.91" fill="#f7fbff"/>
<rect x="1004.8" y="1212.55" width="37.85" height="37.91" fill="#c6dbef"/>
<rect x="1042.15" y="1212.55" width="37.85" height="37.91" fill="#08306b"/>
<rect x="1079.5" y="1212.55" width="37.85" height="37.91" fill="#08306b"/>
<rect x="1116.85" y="1212.55" width="37.85" height="37.91" fill="#deebf7"/>
<rect x="1154.2" y="1212.55" width="37.85" height="37.91" fill="#f7fbff"/>
<rect x="1191.55" y="1212.55" width="37.85" height="37.91" fill="#f7fbff"/>
<rect x="930.1" y="1249.96" width="37.85" height="37.91" fill="#f7fbff"/>
<rect x="967.45" y="1249.96" width="37.85" height="37.91" fill="#d2e3f3"/>
<rect x="1004.8" y="1249.96" width="37.85" height="37.91" fill="#08306b"/>
<rect x="1042.15" y="1249.96" width="37.85" height="37.91" fill="#6aaed6"/>
<rect x="1079.5" y="1249.96" width="37.85" height="37.91" fill="#4191c6"/>
<rect x="1116.85" y="1249.96" width="37.85" height="37.91" fill="#1460a8"/>
<rect x="1154.2" y="1249.96" width="37.85" height="37.91" fill="#deebf7"/>
<rect x="1191.55" y="1249.96" width="37.85" height="37.91" fill="#f7fbff"/>
<rect x="930.1" y="1287.38" width="37.85" height="37.91" fill="#f7fbff"/>
<rect x="967.45" y="1287.38" width="37.85" height="37.91" fill="#eaf3fb"/>
<rect x="1004.8" y="1287.38" width="37.85" height="37.91" fill="#084082"/>
<rect x="1042.15" y="1287.38" width="37.85" height="37.91" fill="#eaf3fb"/>
<rect x="1079.5" y="1287.38" width="37.85" height="37.91" fill="#d2e3f3"/>
<rect x="1116.85" y="1287.38" width="37.85" height="37.91" fill="#08306b"/>
<rect x="1154.2" y="1287.38" width="37.85" height="37.91" fill="#6aaed6"/>
<rect x="1191.55" y="1287.38" width="37.85" height="37.91" fill="#f7fbff"/>
<rect x="930.1" y="1324.79" width="37.85" height="37.91" fill="#f7fbff"/>
<rect x="967.45" y="1324.79" width="37.85" height="37.91" fill="#f7fbff"/>
<rect x="1004.8" y="1324.79" width="37.85" height="37.91" fill="#3181bd"/>
<rect x="1042.15" y="1324.79" width="37.85" height="37.91" fill="#08306b"/>
<rect x="1079.5" y="1324.79" width="37.85" height="37.91" fill="#084082"/>
<rect x="1116.85" y="1324.79" width="37.85" height="37.91" fill="#3181bd"/>
<rect x="1154.2" y="1324.79" width="37.85" height="37.91" fill="#eaf3fb"/>
<rect x="1191.55" y="1324.79" width="37.85" height="37.91" fill="#f7fbff"/>
</g>
<path d="M930.1 1060.9V1364.2M928.1 1062.9H1230.9M967.45 1060.9V1364.2M928.1 1100.31H1230.9M1004.8 1060.9V1364.2M928.1 1137.73H1230.9M1042.15 1060.9V1364.2M928.1 1175.14H1230.9M1079.5 1060.9V1364.2M928.1 1212.55H1230.9M1116.85 1060.9V1364.2M928.1 1249.96H1230.9M1154.2 1060.9V1364.2M928.1 1287.38H1230.9M1191.55 1060.9V1364.2M928.1 1324.79H1230.9M1228.9 1060.9V1364.2M928.1 1362.2H1230.9" stroke="#1612f0" stroke-width="2.9" fill="none"/>
</g>
<rect x="932" y="1064" width="298" height="298.3" fill="none" stroke="#08081c" stroke-width="2.3"/>
<path transform="scale(1.22 1)" d="M1134.36 1209.8 1134.69 1209.8 1135.02 1209.8 1135.35 1209.8 1135.68 1209.8 1136.00 1209.8 1136.33 1209.8 1136.66 1209.8 1136.99 1209.8 1137.32 1209.8 1137.64 1209.8 1137.97 1209.8 1138.30 1209.8 1138.63 1209.8 1138.95 1209.8 1139.28 1209.8 1139.61 1209.8 1139.94 1209.8 1140.27 1209.8 1140.59 1209.8 1140.92 1209.8 1141.25 1209.8 1141.58 1209.8 1141.91 1209.8 1142.23 1209.8 1142.56 1209.8 1142.89 1209.8 1143.22 1209.8 1143.54 1209.8 1143.87 1209.8 1144.20 1209.8 1144.53 1209.8 1144.86 1209.8 1145.18 1209.8 1145.51 1209.8 1145.84 1209.8 1146.17 1209.8 1146.50 1209.8 1146.82 1209.8 1147.15 1209.8 1147.48 1209.8 1147.81 1209.8 1148.13 1209.8 1148.46 1209.8 1148.79 1209.8 1149.12 1209.8 1149.45 1209.8 1149.77 1209.8 1150.10 1209.8 1150.43 1209.8 1150.76 1209.8 1151.09 1209.8 1151.41 1209.8 1151.74 1209.8 1152.07 1209.8 1152.40 1209.8 1152.73 1209.8 1153.05 1209.8 1153.38 1209.8 1153.57 1209.8 1153.71 1209.8 1154.04 1209.9 1154.36 1210.0 1154.69 1210.1 1155.02 1210.2 1155.35 1210.3 1155.68 1210.5 1156.00 1210.5 1156.33 1210.6 1156.36 1210.6 1156.66 1210.5 1156.99 1210.3 1157.32 1210.1 1157.64 1209.8 1157.97 1209.5 1158.30 1209.3 1158.63 1209.0 1158.95 1208.8 1159.28 1208.6 1159.56 1208.5 1159.61 1208.5 1159.94 1208.8 1160.27 1209.2 1160.59 1209.6 1160.92 1210.1 1161.25 1210.6 1161.58 1211.2 1161.91 1211.7 1162.23 1212.2 1162.56 1212.6 1162.89 1213.0 1163.22 1213.3 1163.32 1213.4 1163.54 1213.1 1163.87 1212.4 1164.20 1211.7 1164.53 1210.8 1164.86 1209.9 1165.18 1209.0 1165.51 1208.0 1165.84 1207.2 1166.17 1206.4 1166.50 1205.7 1166.80 1205.3 1166.82 1205.3 1167.15 1206.0 1167.48 1206.8 1167.81 1207.9 1168.13 1209.0 1168.46 1210.2 1168.79 1211.4 1169.12 1212.6 1169.45 1213.7 1169.77 1214.7 1170.10 1215.7 1170.43 1216.4 1170.55 1216.6 1170.76 1216.1 1171.09 1215.0 1171.41 1213.8 1171.74 1212.3 1172.07 1210.8 1172.40 1209.2 1172.73 1207.6 1173.05 1206.0 1173.38 1204.6 1173.71 1203.4 1174.04 1202.4 1174.17 1202.1 1174.36 1202.6 1174.69 1203.9 1175.02 1205.5 1175.35 1207.2 1175.68 1209.1 1176.00 1211.1 1176.33 1213.0 1176.66 1214.8 1176.99 1216.5 1177.32 1217.9 1177.64 1219.0 1177.65 1219.0 1177.97 1217.7 1178.30 1215.9 1178.63 1213.7 1178.95 1211.4 1179.28 1208.9 1179.61 1206.6 1179.94 1204.3 1180.27 1202.4 1180.59 1200.8 1180.71 1200.4 1180.92 1201.0 1181.25 1202.4 1181.58 1204.1 1181.91 1206.0 1182.23 1208.0 1182.56 1210.0 1182.89 1211.9 1183.22 1213.6 1183.54 1215.0 1183.78 1215.8 1183.87 1215.5 1184.20 1214.3 1184.53 1212.8 1184.86 1211.1 1185.18 1209.3 1185.51 1207.6 1185.84 1206.0 1186.17 1204.8 1186.28 1204.5 1186.50 1205.6 1186.82 1207.8 1187.15 1210.5 1187.48 1213.5 1187.81 1216.7 1188.13 1219.9 1188.46 1222.9 1188.79 1225.6 1189.12 1227.8 1189.34 1229.0 1189.45 1228.0 1189.77 1224.0 1190.10 1218.9 1190.43 1213.0 1190.76 1206.7 1191.09 1200.1 1191.41 1193.8 1191.74 1187.8 1192.07 1182.6 1192.40 1178.4 1192.55 1176.9 1192.73 1178.9 1193.05 1183.6 1193.38 1189.4 1193.71 1195.9 1194.04 1202.9 1194.36 1210.2 1194.69 1217.4 1195.02 1224.2 1195.35 1230.4 1195.68 1235.7 1196.00 1239.7 1196.03 1240.0 1196.33 1237.5 1196.66 1234.0 1196.99 1229.8 1197.32 1225.2 1197.64 1220.4 1197.97 1215.5 1198.30 1210.6 1198.63 1206.2 1198.95 1202.2 1199.28 1198.9 1199.51 1197.1 1199.61 1197.6 1199.94 1199.5 1200.27 1202.0 1200.59 1204.8 1200.92 1207.8 1201.25 1210.8 1201.58 1213.6 1201.91 1216.0 1202.23 1217.8 1202.29 1218.0 1202.56 1217.0 1202.89 1215.5 1203.22 1213.7 1203.54 1211.6 1203.87 1209.4 1204.20 1207.1 1204.53 1204.7 1204.86 1202.3 1205.18 1199.9 1205.51 1197.7 1205.84 1195.6 1206.17 1193.7 1206.50 1192.0 1206.82 1190.7 1206.88 1190.5 1207.15 1193.6 1207.48 1198.6 1207.81 1204.5 1208.13 1211.1 1208.46 1218.1 1208.79 1225.3 1209.12 1232.3 1209.45 1238.9 1209.77 1244.8 1210.10 1249.7 1210.36 1252.7 1210.43 1251.6 1210.76 1245.2 1211.09 1236.9 1211.41 1227.3 1211.74 1216.8 1212.07 1205.9 1212.40 1195.1 1212.73 1184.8 1213.05 1175.4 1213.38 1167.5 1213.70 1161.6 1213.71 1161.7 1214.04 1167.0 1214.36 1173.9 1214.69 1182.0 1215.02 1191.0 1215.35 1200.4 1215.68 1209.7 1216.00 1218.5 1216.33 1226.3 1216.66 1232.9 1216.90 1236.6 1216.99 1235.9 1217.32 1232.3 1217.64 1227.6 1217.97 1222.4 1218.30 1217.2 1218.63 1212.6 1218.95 1209.3 1218.99 1209.0 1219.28 1210.9 1219.61 1214.0 1219.94 1217.5 1220.27 1221.2 1220.59 1224.6 1220.92 1227.3 1221.08 1228.3 1221.25 1226.6 1221.58 1222.3 1221.91 1217.1 1222.23 1211.1 1222.56 1204.8 1222.89 1198.5 1223.22 1192.4 1223.54 1186.9 1223.87 1182.3 1224.14 1179.5 1224.20 1180.2 1224.53 1185.5 1224.86 1192.4 1225.18 1200.5 1225.51 1208.9 1225.84 1217.1 1226.17 1224.5 1226.50 1230.3 1226.65 1232.3 1226.82 1230.8 1227.15 1227.0 1227.48 1222.3 1227.81 1217.0 1228.13 1211.4 1228.46 1206.0 1228.79 1201.0 1229.12 1196.8 1229.43 1193.8 1229.45 1193.9 1229.77 1195.9 1230.10 1198.5 1230.43 1201.6 1230.76 1205.0 1231.09 1208.4 1231.41 1211.6 1231.74 1214.4 1232.07 1216.7 1232.21 1217.5 1232.40 1216.9 1232.73 1215.4 1233.05 1213.5 1233.38 1211.5 1233.71 1209.6 1234.04 1208.0 1234.30 1207.0 1234.36 1207.5 1234.69 1210.7 1235.02 1214.9 1235.35 1219.7 1235.68 1224.7 1236.00 1229.4 1236.33 1233.5 1236.66 1236.5 1236.67 1236.6 1236.99 1231.3 1237.32 1224.1 1237.64 1215.6 1237.97 1206.3 1238.30 1196.7 1238.63 1187.4 1238.95 1178.9 1239.28 1171.8 1239.59 1166.7 1239.61 1167.0 1239.94 1172.2 1240.27 1179.1 1240.59 1187.2 1240.92 1196.0 1241.25 1205.2 1241.58 1214.1 1241.91 1222.5 1242.23 1229.7 1242.56 1235.3 1242.65 1236.6 1242.89 1234.9 1243.22 1231.8 1243.54 1228.0 1243.87 1223.7 1244.20 1219.4 1244.53 1215.2 1244.86 1211.3 1245.18 1208.2 1245.44 1206.3 1245.51 1206.6 1245.84 1208.0 1246.17 1209.9 1246.50 1212.0 1246.82 1214.3 1247.15 1216.6 1247.48 1218.8 1247.81 1220.7 1248.13 1222.1 1248.22 1222.4 1248.46 1220.2 1248.79 1216.3 1249.12 1211.7 1249.45 1206.4 1249.77 1200.8 1250.10 1195.0 1250.43 1189.1 1250.76 1183.5 1251.09 1178.3 1251.41 1173.6 1251.74 1169.8 1251.98 1167.6 1252.07 1169.2 1252.40 1177.4 1252.73 1187.9 1253.05 1199.9 1253.38 1212.4 1253.71 1224.5 1254.04 1235.2 1254.36 1243.6 1254.48 1245.9 1254.69 1243.1 1255.02 1237.0 1255.35 1229.6 1255.68 1221.5 1256.00 1213.2 1256.33 1205.4 1256.66 1198.8 1256.99 1193.9 1256.99 1193.9 1257.32 1201.0 1257.64 1210.7 1257.97 1222.0 1258.30 1234.5 1258.63 1247.4 1258.95 1260.1 1259.28 1271.9 1259.61 1282.2 1259.94 1290.4 1260.05 1292.6 1260.27 1286.1 1260.59 1273.6 1260.92 1258.6 1261.25 1241.6 1261.58 1223.1 1261.91 1203.7 1262.23 1183.7 1262.56 1163.8 1262.89 1144.4 1263.22 1126.0 1263.54 1109.2 1263.87 1094.4 1264.20 1082.2 1264.38 1076.7 1264.53 1084.6 1264.86 1107.5 1265.18 1136.2 1265.51 1168.9 1265.84 1203.8 1266.17 1239.1 1266.50 1273.0 1266.82 1303.8 1267.15 1329.5 1267.45 1346.9 1267.48 1345.5 1267.81 1327.7 1268.13 1304.7 1268.46 1277.6 1268.79 1248.0 1269.12 1217.3 1269.45 1186.9 1269.77 1158.3 1270.10 1132.8 1270.43 1111.9 1270.65 1101.3 1270.76 1106.3 1271.09 1125.6 1271.41 1150.3 1271.74 1178.3 1272.07 1207.4 1272.40 1235.3 1272.73 1259.9 1273.05 1278.9 1273.15 1283.3 1273.38 1276.3 1273.71 1262.8 1274.04 1246.3 1274.36 1228.5 1274.69 1210.7 1275.02 1194.7 1275.35 1181.8 1275.52 1176.9 1275.68 1180.8 1276.00 1191.9 1276.33 1205.9 1276.66 1221.3 1276.99 1236.9 1277.32 1251.3 1277.64 1263.3 1277.88 1269.7 1277.97 1267.4 1278.30 1256.2 1278.63 1241.9 1278.95 1225.3 1279.28 1207.7 1279.61 1190.1 1279.94 1173.6 1280.27 1159.3 1280.59 1148.3 1280.67 1146.3 1280.92 1151.4 1281.25 1160.2 1281.58 1170.8 1281.91 1182.5 1282.23 1194.5 1282.56 1206.1 1282.89 1216.6 1283.22 1225.3 1283.45 1229.9 1283.54 1229.4 1283.87 1226.9 1284.20 1223.6 1284.53 1219.9 1284.86 1216.2 1285.18 1212.8 1285.51 1210.0 1285.68 1209.0 1285.84 1209.7 1286.17 1211.6 1286.50 1213.9 1286.82 1216.6 1287.15 1219.4 1287.48 1222.2 1287.81 1224.9 1288.13 1227.4 1288.46 1229.4 1288.74 1230.7 1288.79 1230.4 1289.12 1227.7 1289.45 1224.4 1289.77 1220.6 1290.10 1216.3 1290.43 1211.7 1290.76 1206.9 1291.09 1202.1 1291.41 1197.3 1291.74 1192.6 1292.07 1188.3 1292.40 1184.3 1292.73 1180.8 1293.05 1177.9 1293.20 1176.9 1293.38 1178.9 1293.71 1183.3 1294.04 1188.8 1294.36 1195.0 1294.69 1201.6 1295.02 1208.4 1295.35 1214.9 1295.68 1220.8 1296.00 1226.0 1296.33 1230.0 1296.40 1230.6 1296.66 1228.8 1296.99 1225.8 1297.32 1222.2 1297.64 1218.2 1297.97 1214.1 1298.30 1210.1 1298.63 1206.6 1298.95 1203.7 1299.18 1202.1 1299.28 1202.5 1299.61 1204.2 1299.94 1206.2 1300.27 1208.6 1300.59 1211.1 1300.92 1213.7 1301.25 1216.0 1301.58 1218.0 1301.91 1219.6 1301.96 1219.8 1302.23 1219.2 1302.56 1218.4 1302.89 1217.4 1303.22 1216.4 1303.54 1215.2 1303.87 1213.9 1304.20 1212.6 1304.53 1211.2 1304.86 1209.8 1305.18 1208.4 1305.51 1207.1 1305.84 1205.7 1306.17 1204.4 1306.50 1203.2 1306.82 1202.1 1307.15 1201.1 1307.48 1200.3 1307.81 1199.6 1307.81 1199.6 1308.13 1200.7 1308.46 1202.2 1308.79 1203.9 1309.12 1205.9 1309.45 1207.9 1309.77 1209.9 1310.10 1211.8 1310.43 1213.5 1310.76 1215.0 1311.01 1215.8 1311.09 1215.5 1311.41 1213.9 1311.74 1211.7 1312.07 1209.4 1312.40 1207.4 1312.68 1206.2 1312.73 1206.4 1313.05 1209.1 1313.38 1212.6 1313.71 1216.7 1314.04 1221.0 1314.36 1225.2 1314.69 1229.0 1315.02 1232.0 1315.19 1233.2 1315.35 1231.4 1315.68 1226.8 1316.00 1221.1 1316.33 1214.6 1316.66 1207.6 1316.99 1200.3 1317.32 1193.1 1317.64 1186.2 1317.97 1180.0 1318.30 1174.7 1318.63 1170.5 1318.67 1170.1 1318.95 1174.4 1319.28 1180.8 1319.61 1188.5 1319.94 1196.9 1320.27 1205.8 1320.59 1214.8 1320.92 1223.2 1321.25 1230.9 1321.58 1237.3 1321.87 1241.7 1321.91 1241.5 1322.23 1239.4 1322.56 1236.7 1322.89 1233.7 1323.22 1230.3 1323.54 1226.7 1323.87 1223.0 1324.20 1219.3 1324.53 1215.7 1324.86 1212.4 1325.18 1209.3 1325.51 1206.7 1325.63 1205.9 1325.84 1205.4 1326.17 1204.6 1326.50 1203.8 1326.82 1203.1 1327.15 1202.4 1327.48 1201.7 1327.81 1201.1 1328.13 1200.6 1328.46 1200.1 1328.79 1199.6 1329.11 1199.3 1329.12 1199.3 1329.45 1199.6 1329.77 1200.0 1330.10 1200.5 1330.43 1201.0 1330.76 1201.5 1331.09 1202.1 1331.41 1202.7 1331.74 1203.4 1332.07 1204.0 1332.40 1204.7 1332.73 1205.5 1333.05 1206.2 1333.28 1206.7 1333.38 1207.3 1333.71 1209.7 1334.04 1212.4 1334.36 1215.4 1334.69 1218.5 1335.02 1221.6 1335.35 1224.6 1335.68 1227.3 1336.00 1229.7 1336.33 1231.5 1336.34 1231.5 1336.66 1228.3 1336.99 1223.8 1337.32 1218.5 1337.64 1212.7 1337.97 1206.7 1338.30 1200.9 1338.63 1195.6 1338.95 1191.1 1339.27 1188.0 1339.28 1188.0 1339.61 1190.1 1339.94 1192.8 1340.27 1195.9 1340.59 1199.4 1340.92 1203.1 1341.25 1206.8 1341.58 1210.4 1341.91 1213.7 1342.23 1216.7 1342.56 1219.1 1342.75 1220.1 1342.89 1220.0 1343.22 1219.5 1343.54 1218.9 1343.87 1218.3 1344.20 1217.5 1344.53 1216.8 1344.86 1216.0 1345.18 1215.1 1345.51 1214.3 1345.81 1213.5 1345.84 1213.4 1346.17 1211.8 1346.50 1210.0 1346.82 1208.0 1347.15 1206.0 1347.48 1203.9 1347.81 1201.8 1348.13 1199.8 1348.46 1198.0 1348.79 1196.4 1349.12 1195.1 1349.29 1194.5 1349.45 1195.4 1349.77 1197.8 1350.10 1200.8 1350.43 1204.1 1350.76 1207.8 1351.09 1211.5 1351.41 1215.3 1351.74 1218.8 1352.07 1222.1 1352.40 1224.8 1352.73 1227.0 1352.77 1227.2 1353.05 1225.9 1353.38 1223.9 1353.71 1221.6 1354.04 1218.9 1354.36 1216.1 1354.69 1213.2 1355.02 1210.3 1355.35 1207.4 1355.68 1204.8 1356.00 1202.4 1356.33 1200.4 1356.66 1198.8 1356.67 1198.7 1356.99 1199.8 1357.32 1201.1 1357.64 1202.7 1357.97 1204.4 1358.30 1206.3 1358.63 1208.2 1358.95 1210.1 1359.28 1211.9 1359.61 1213.6 1359.94 1215.0 1360.27 1216.2 1360.42 1216.7 1360.59 1216.3 1360.92 1215.4 1361.25 1214.4 1361.58 1213.1 1361.91 1211.8 1362.23 1210.6 1362.56 1209.4 1362.89 1208.4 1363.21 1207.7 1363.22 1207.7 1363.54 1207.9 1363.87 1208.1 1364.20 1208.3 1364.53 1208.6 1364.86 1208.9 1365.18 1209.2 1365.51 1209.6 1365.84 1209.9 1366.17 1210.2 1366.50 1210.5 1366.82 1210.8 1367.15 1211.1 1367.48 1211.4 1367.81 1211.6 1368.08 1211.7 1368.13 1211.7 1368.46 1211.5 1368.79 1211.2 1369.12 1210.9 1369.45 1210.5 1369.77 1210.2 1370.10 1209.8 1370.43 1209.4 1370.76 1209.0 1371.09 1208.7 1371.41 1208.3 1371.74 1208.0 1372.07 1207.8 1372.25 1207.7 1372.40 1207.9 1372.73 1208.3 1373.05 1208.9 1373.38 1209.6 1373.71 1210.3 1374.04 1211.0 1374.36 1211.6 1374.69 1212.2 1375.02 1212.6 1375.04 1212.6 1375.35 1212.3 1375.68 1212.0 1376.00 1211.5 1376.33 1211.1 1376.66 1210.6 1376.99 1210.2 1377.32 1209.8 1377.64 1209.4 1377.82 1209.3 1377.97 1209.3 1378.30 1209.3 1378.63 1209.3 1378.95 1209.3 1379.28 1209.3 1379.61 1209.3 1379.94 1209.3 1380.27 1209.3 1380.59 1209.3 1380.92 1209.3 1381.25 1209.3 1381.58 1209.3 1381.91 1209.4 1382.23 1209.4 1382.56 1209.4 1382.89 1209.4 1383.22 1209.4 1383.54 1209.4 1383.87 1209.4 1384.20 1209.4 1384.53 1209.4 1384.86 1209.4 1385.18 1209.4 1385.51 1209.4 1385.84 1209.4 1386.17 1209.4 1386.50 1209.4 1386.82 1209.4 1387.15 1209.4 1387.48 1209.5 1387.81 1209.5 1388.13 1209.5 1388.46 1209.5 1388.79 1209.5 1389.12 1209.5 1389.45 1209.5 1389.77 1209.5 1390.10 1209.5 1390.43 1209.5 1390.76 1209.5 1391.09 1209.5 1391.41 1209.5 1391.74 1209.6 1392.07 1209.6 1392.40 1209.6 1392.73 1209.6 1393.05 1209.6 1393.38 1209.6 1393.71 1209.6 1394.04 1209.6 1394.36 1209.6 1394.69 1209.7 1395.02 1209.7 1395.35 1209.7 1395.68 1209.7 1396.00 1209.7 1396.33 1209.7 1396.66 1209.7 1396.99 1209.7 1397.32 1209.8 1397.64 1209.8 1397.97 1209.8 1398.00 1209.8" fill="none" stroke="#1f77b4" stroke-width="3.3" stroke-linejoin="round" stroke-linecap="butt"/>
<rect x="1370" y="1064" width="350.7" height="298.3" fill="none" stroke="#161616" stroke-width="2"/>
<path d="M1384.8 1363v10M1545.4 1363v10M1705.9 1363v10M1369.3 1110.5h-10M1369.3 1210.2h-10M1369.3 1311.7h-10" stroke="#161616" stroke-width="2" fill="none"/>
<text class="tk" transform="translate(1352.8 1123.33) scale(1 1.1)" text-anchor="end">1</text>
<text class="tk" transform="translate(1352.8 1223.03) scale(1 1.1)" text-anchor="end">0</text>
<text class="tk" transform="translate(1349.6 1324.53) scale(1 1.1)" text-anchor="end">−1</text>
<clipPath id="hc8"><rect x="2.2" y="1415" width="298.2" height="300.2"/></clipPath>
<g clip-path="url(#hc8)">
<g shape-rendering="crispEdges">
<rect x="1.25" y="1413.9" width="37.85" height="38.15" fill="#f7fbff"/>
<rect x="38.6" y="1413.9" width="37.85" height="38.15" fill="#f7fbff"/>
<rect x="75.95" y="1413.9" width="37.85" height="38.15" fill="#f7fbff"/>
<rect x="113.3" y="1413.9" width="37.85" height="38.15" fill="#eaf3fb"/>
<rect x="150.65" y="1413.9" width="37.85" height="38.15" fill="#3181bd"/>
<rect x="188" y="1413.9" width="37.85" height="38.15" fill="#f7fbff"/>
<rect x="225.35" y="1413.9" width="37.85" height="38.15" fill="#f7fbff"/>
<rect x="262.7" y="1413.9" width="37.85" height="38.15" fill="#f7fbff"/>
<rect x="1.25" y="1451.55" width="37.85" height="38.15" fill="#f7fbff"/>
<rect x="38.6" y="1451.55" width="37.85" height="38.15" fill="#f7fbff"/>
<rect x="75.95" y="1451.55" width="37.85" height="38.15" fill="#f7fbff"/>
<rect x="113.3" y="1451.55" width="37.85" height="38.15" fill="#84bcdb"/>
<rect x="150.65" y="1451.55" width="37.85" height="38.15" fill="#6aaed6"/>
<rect x="188" y="1451.55" width="37.85" height="38.15" fill="#f7fbff"/>
<rect x="225.35" y="1451.55" width="37.85" height="38.15" fill="#f7fbff"/>
<rect x="262.7" y="1451.55" width="37.85" height="38.15" fill="#f7fbff"/>
<rect x="1.25" y="1489.2" width="37.85" height="38.15" fill="#f7fbff"/>
<rect x="38.6" y="1489.2" width="37.85" height="38.15" fill="#f7fbff"/>
<rect x="75.95" y="1489.2" width="37.85" height="38.15" fill="#eaf3fb"/>
<rect x="113.3" y="1489.2" width="37.85" height="38.15" fill="#1460a8"/>
<rect x="150.65" y="1489.2" width="37.85" height="38.15" fill="#9dcae1"/>
<rect x="188" y="1489.2" width="37.85" height="38.15" fill="#deebf7"/>
<rect x="225.35" y="1489.2" width="37.85" height="38.15" fill="#deebf7"/>
<rect x="262.7" y="1489.2" width="37.85" height="38.15" fill="#f7fbff"/>
<rect x="1.25" y="1526.85" width="37.85" height="38.15" fill="#f7fbff"/>
<rect x="38.6" y="1526.85" width="37.85" height="38.15" fill="#f7fbff"/>
<rect x="75.95" y="1526.85" width="37.85" height="38.15" fill="#84bcdb"/>
<rect x="113.3" y="1526.85" width="37.85" height="38.15" fill="#084082"/>
<rect x="150.65" y="1526.85" width="37.85" height="38.15" fill="#f7fbff"/>
<rect x="188" y="1526.85" width="37.85" height="38.15" fill="#56a0ce"/>
<rect x="225.35" y="1526.85" width="37.85" height="38.15" fill="#6aaed6"/>
<rect x="262.7" y="1526.85" width="37.85" height="38.15" fill="#f7fbff"/>
<rect x="1.25" y="1564.5" width="37.85" height="38.15" fill="#f7fbff"/>
<rect x="38.6" y="1564.5" width="37.85" height="38.15" fill="#b2d2e8"/>
<rect x="75.95" y="1564.5" width="37.85" height="38.15" fill="#08306b"/>
<rect x="113.3" y="1564.5" width="37.85" height="38.15" fill="#4191c6"/>
<rect x="150.65" y="1564.5" width="37.85" height="38.15" fill="#f7fbff"/>
<rect x="188" y="1564.5" width="37.85" height="38.15" fill="#08306b"/>
<rect x="225.35" y="1564.5" width="37.85" height="38.15" fill="#9dcae1"/>
<rect x="262.7" y="1564.5" width="37.85" height="38.15" fill="#f7fbff"/>
<rect x="1.25" y="1602.15" width="37.85" height="38.15" fill="#f7fbff"/>
<rect x="38.6" y="1602.15" width="37.85" height="38.15" fill="#c6dbef"/>
<rect x="75.95" y="1602.15" width="37.85" height="38.15" fill="#084082"/>
<rect x="113.3" y="1602.15" width="37.85" height="38.15" fill="#08306b"/>
<rect x="150.65" y="1602.15" width="37.85" height="38.15" fill="#1460a8"/>
<rect x="188" y="1602.15" width="37.85" height="38.15" fill="#08306b"/>
<rect x="225.35" y="1602.15" width="37.85" height="38.15" fill="#eaf3fb"/>
<rect x="262.7" y="1602.15" width="37.85" height="38.15" fill="#f7fbff"/>
<rect x="1.25" y="1639.8" width="37.85" height="38.15" fill="#f7fbff"/>
<rect x="38.6" y="1639.8" width="37.85" height="38.15" fill="#f7fbff"/>
<rect x="75.95" y="1639.8" width="37.85" height="38.15" fill="#f7fbff"/>
<rect x="113.3" y="1639.8" width="37.85" height="38.15" fill="#d2e3f3"/>
<rect x="150.65" y="1639.8" width="37.85" height="38.15" fill="#084082"/>
<rect x="188" y="1639.8" width="37.85" height="38.15" fill="#4191c6"/>
<rect x="225.35" y="1639.8" width="37.85" height="38.15" fill="#f7fbff"/>
<rect x="262.7" y="1639.8" width="37.85" height="38.15" fill="#f7fbff"/>
<rect x="1.25" y="1677.45" width="37.85" height="38.15" fill="#f7fbff"/>
<rect x="38.6" y="1677.45" width="37.85" height="38.15" fill="#f7fbff"/>
<rect x="75.95" y="1677.45" width="37.85" height="38.15" fill="#f7fbff"/>
<rect x="113.3" y="1677.45" width="37.85" height="38.15" fill="#deebf7"/>
<rect x="150.65" y="1677.45" width="37.85" height="38.15" fill="#08306b"/>
<rect x="188" y="1677.45" width="37.85" height="38.15" fill="#c6dbef"/>
<rect x="225.35" y="1677.45" width="37.85" height="38.15" fill="#f7fbff"/>
<rect x="262.7" y="1677.45" width="37.85" height="38.15" fill="#f7fbff"/>
</g>
<path d="M1.25 1411.9V1717.1M-0.75 1413.9H302.05M38.6 1411.9V1717.1M-0.75 1451.55H302.05M75.95 1411.9V1717.1M-0.75 1489.2H302.05M113.3 1411.9V1717.1M-0.75 1526.85H302.05M150.65 1411.9V1717.1M-0.75 1564.5H302.05M188 1411.9V1717.1M-0.75 1602.15H302.05M225.35 1411.9V1717.1M-0.75 1639.8H302.05M262.7 1411.9V1717.1M-0.75 1677.45H302.05M300.05 1411.9V1717.1M-0.75 1715.1H302.05" stroke="#1612f0" stroke-width="2.9" fill="none"/>
</g>
<rect x="2.2" y="1415" width="298.2" height="300.2" fill="none" stroke="#08081c" stroke-width="2.3"/>
<path transform="scale(1.22 1)" d="M372.90 1565.9 373.23 1565.9 373.56 1565.9 373.89 1565.9 374.22 1565.9 374.54 1565.9 374.87 1565.9 375.20 1565.9 375.53 1565.9 375.86 1565.9 376.18 1565.9 376.51 1565.9 376.84 1565.9 377.17 1565.9 377.49 1565.9 377.82 1565.9 378.15 1565.9 378.48 1565.9 378.81 1565.9 379.13 1565.9 379.46 1565.9 379.79 1565.9 380.12 1565.9 380.45 1565.9 380.77 1565.9 381.10 1565.9 381.43 1565.9 381.76 1565.9 382.08 1565.9 382.41 1565.9 382.74 1565.9 383.07 1565.9 383.40 1565.9 383.72 1565.9 384.05 1565.9 384.38 1565.9 384.71 1565.9 385.04 1565.9 385.36 1565.9 385.69 1565.9 386.02 1565.9 386.35 1565.9 386.41 1565.9 386.67 1565.7 387.00 1565.5 387.33 1565.2 387.66 1564.9 387.99 1564.6 388.31 1564.3 388.49 1564.2 388.64 1564.3 388.97 1564.6 389.30 1565.0 389.63 1565.4 389.95 1565.8 390.28 1566.2 390.61 1566.6 390.94 1567.0 391.27 1567.3 391.56 1567.5 391.59 1567.5 391.92 1567.3 392.25 1567.0 392.58 1566.7 392.90 1566.3 393.23 1566.0 393.56 1565.6 393.89 1565.2 394.22 1564.8 394.54 1564.5 394.87 1564.2 395.20 1563.9 395.45 1563.8 395.53 1563.8 395.86 1564.1 396.18 1564.4 396.51 1564.8 396.84 1565.2 397.17 1565.7 397.49 1566.1 397.82 1566.6 398.15 1567.1 398.48 1567.5 398.81 1567.9 399.13 1568.2 399.46 1568.5 399.63 1568.6 399.79 1568.5 400.12 1568.1 400.45 1567.7 400.77 1567.1 401.10 1566.6 401.43 1566.0 401.76 1565.4 402.08 1564.8 402.41 1564.2 402.74 1563.7 403.07 1563.3 403.39 1563.0 403.40 1563.0 403.72 1563.5 404.05 1564.2 404.38 1565.0 404.71 1565.9 405.04 1566.8 405.36 1567.7 405.69 1568.5 406.02 1569.3 406.35 1569.9 406.59 1570.3 406.67 1570.1 407.00 1569.3 407.33 1568.3 407.66 1567.2 407.99 1565.9 408.31 1564.6 408.64 1563.4 408.97 1562.3 409.30 1561.3 409.63 1560.6 409.65 1560.5 409.95 1561.2 410.28 1562.2 410.61 1563.3 410.94 1564.5 411.27 1565.8 411.59 1567.0 411.92 1568.1 412.25 1569.0 412.43 1569.4 412.58 1569.1 412.90 1568.2 413.23 1567.2 413.56 1566.0 413.89 1564.7 414.22 1563.5 414.54 1562.3 414.87 1561.3 415.20 1560.6 415.22 1560.5 415.53 1561.6 415.86 1563.1 416.18 1564.9 416.51 1566.8 416.84 1568.8 417.17 1570.8 417.49 1572.6 417.82 1574.1 418.14 1575.2 418.15 1575.1 418.48 1573.9 418.81 1572.4 419.13 1570.5 419.46 1568.5 419.79 1566.4 420.12 1564.2 420.45 1562.2 420.77 1560.3 421.10 1558.7 421.43 1557.4 421.48 1557.3 421.76 1557.7 422.08 1558.3 422.41 1559.0 422.74 1559.7 423.07 1560.5 423.40 1561.4 423.72 1562.4 424.05 1563.3 424.38 1564.3 424.71 1565.2 425.04 1566.2 425.36 1567.1 425.69 1568.0 426.02 1568.8 426.35 1569.5 426.67 1570.2 427.00 1570.8 427.19 1571.0 427.33 1570.8 427.66 1570.3 427.99 1569.6 428.31 1568.8 428.64 1568.0 428.97 1567.0 429.30 1566.1 429.63 1565.2 429.95 1564.2 430.28 1563.3 430.61 1562.5 430.94 1561.7 431.27 1561.1 431.59 1560.6 431.64 1560.5 431.92 1561.1 432.25 1561.9 432.58 1562.9 432.90 1564.1 433.23 1565.2 433.56 1566.3 433.89 1567.3 434.22 1568.2 434.43 1568.5 434.54 1568.2 434.87 1567.0 435.20 1565.5 435.53 1563.7 435.86 1562.0 436.18 1560.3 436.51 1558.9 436.79 1558.0 436.84 1558.3 437.17 1560.6 437.49 1563.7 437.82 1567.3 438.15 1571.1 438.48 1575.1 438.81 1578.8 439.13 1582.2 439.46 1585.1 439.72 1586.7 439.79 1586.0 440.12 1582.3 440.45 1577.4 440.77 1571.9 441.10 1565.8 441.43 1559.4 441.76 1553.2 442.08 1547.2 442.41 1541.8 442.74 1537.2 443.06 1533.9 443.07 1534.0 443.40 1537.4 443.72 1542.0 444.05 1547.3 444.38 1553.2 444.71 1559.4 445.04 1565.7 445.36 1571.8 445.69 1577.5 446.02 1582.5 446.35 1586.6 446.54 1588.4 446.67 1587.9 447.00 1586.3 447.33 1584.5 447.66 1582.3 447.99 1580.0 448.31 1577.5 448.64 1574.9 448.97 1572.2 449.30 1569.5 449.63 1566.9 449.95 1564.4 450.28 1562.0 450.61 1559.9 450.94 1558.0 451.27 1556.5 451.41 1555.9 451.59 1557.1 451.92 1559.6 452.25 1562.7 452.58 1566.3 452.90 1570.1 453.23 1574.1 453.56 1578.0 453.89 1581.8 454.22 1585.3 454.54 1588.4 454.87 1590.9 455.03 1591.8 455.20 1588.7 455.53 1581.2 455.86 1571.8 456.18 1561.3 456.51 1550.0 456.84 1538.7 457.17 1527.8 457.49 1518.1 457.82 1510.0 458.09 1505.0 458.15 1506.2 458.48 1513.8 458.81 1523.4 459.13 1534.6 459.46 1546.9 459.79 1560.0 460.12 1573.5 460.45 1587.2 460.77 1600.5 461.10 1613.1 461.43 1624.7 461.76 1634.9 462.08 1643.3 462.26 1647.0 462.41 1643.2 462.74 1632.4 463.07 1618.9 463.40 1603.5 463.72 1587.0 464.05 1570.2 464.38 1553.8 464.71 1538.7 465.04 1525.5 465.36 1515.2 465.47 1512.6 465.69 1514.1 466.02 1516.6 466.35 1519.4 466.67 1522.6 467.00 1526.1 467.33 1529.8 467.66 1533.7 467.99 1537.8 468.31 1541.9 468.64 1546.1 468.97 1550.3 469.22 1553.5 469.30 1554.9 469.63 1561.7 469.95 1569.3 470.28 1577.3 470.61 1585.6 470.94 1593.8 471.27 1601.7 471.59 1609.0 471.92 1615.5 472.25 1620.9 472.42 1623.2 472.58 1620.1 472.90 1611.4 473.23 1600.5 473.56 1588.2 473.89 1574.9 474.22 1561.2 474.54 1547.7 474.87 1535.1 475.20 1523.8 475.53 1514.4 475.77 1509.2 475.86 1510.9 476.18 1518.8 476.51 1529.0 476.84 1540.7 477.17 1553.3 477.49 1566.0 477.82 1578.1 478.15 1588.9 478.48 1597.7 478.69 1602.0 478.81 1600.7 479.13 1596.2 479.46 1590.6 479.79 1584.1 480.12 1577.1 480.45 1569.8 480.77 1562.7 481.10 1555.9 481.43 1549.8 481.76 1544.7 482.03 1541.5 482.08 1542.0 482.41 1545.5 482.74 1550.0 483.07 1555.2 483.40 1561.0 483.72 1567.1 484.05 1573.2 484.38 1579.2 484.71 1584.8 485.04 1589.8 485.36 1594.1 485.65 1596.9 485.69 1596.3 486.02 1591.0 486.35 1584.3 486.67 1576.5 487.00 1567.8 487.33 1558.6 487.66 1549.0 487.99 1539.5 488.31 1530.3 488.64 1521.6 488.97 1513.7 489.30 1506.9 489.63 1501.5 489.68 1500.7 489.95 1508.3 490.28 1520.6 490.61 1535.4 490.94 1551.7 491.27 1568.6 491.59 1585.1 491.92 1600.4 492.25 1613.4 492.58 1623.3 492.61 1624.1 492.90 1617.9 493.23 1608.8 493.56 1597.9 493.89 1586.1 494.22 1573.9 494.54 1562.3 494.87 1551.9 495.20 1543.5 495.39 1539.8 495.53 1542.0 495.86 1548.7 496.18 1557.2 496.51 1566.8 496.84 1577.1 497.17 1587.6 497.49 1597.7 497.82 1606.8 498.15 1614.5 498.45 1619.8 498.48 1619.3 498.81 1611.2 499.13 1601.3 499.46 1589.7 499.79 1576.8 500.12 1562.9 500.45 1548.3 500.77 1533.2 501.10 1517.9 501.43 1502.8 501.76 1488.0 502.08 1474.0 502.41 1460.9 502.74 1449.1 503.07 1438.8 503.40 1430.4 503.48 1428.6 503.72 1442.0 504.05 1465.5 504.38 1494.0 504.71 1525.8 505.04 1559.5 505.36 1593.3 505.69 1625.8 506.02 1655.3 506.35 1680.4 506.67 1699.3 506.68 1699.6 507.00 1682.5 507.33 1659.0 507.66 1631.2 507.99 1601.1 508.31 1570.4 508.64 1541.2 508.97 1515.2 509.30 1494.3 509.46 1486.3 509.63 1491.1 509.95 1504.1 510.28 1520.3 510.61 1538.6 510.94 1557.8 511.27 1576.7 511.59 1594.1 511.92 1608.9 512.25 1619.8 512.25 1619.8 512.58 1609.1 512.90 1594.0 513.23 1577.3 513.56 1562.0 513.89 1550.7 513.92 1550.0 514.22 1552.2 514.54 1555.5 514.87 1559.4 515.20 1563.6 515.53 1567.8 515.86 1571.7 516.18 1574.8 516.42 1576.6 516.51 1575.8 516.84 1571.4 517.17 1565.7 517.49 1559.8 517.82 1554.6 518.09 1551.5 518.15 1551.7 518.48 1552.4 518.81 1553.3 519.13 1554.4 519.46 1555.6 519.79 1556.8 520.12 1558.2 520.45 1559.5 520.77 1561.0 521.10 1562.4 521.43 1563.9 521.76 1565.3 522.08 1566.6 522.41 1567.9 522.74 1569.2 523.07 1570.3 523.40 1571.3 523.72 1572.1 523.94 1572.6 524.05 1572.2 524.38 1570.7 524.71 1568.8 525.04 1566.6 525.36 1564.3 525.69 1562.0 526.02 1559.9 526.35 1558.1 526.67 1556.7 526.72 1556.5 527.00 1559.3 527.33 1563.7 527.66 1568.9 527.99 1574.7 528.31 1580.7 528.64 1586.6 528.97 1592.0 529.30 1596.6 529.63 1600.1 529.65 1600.3 529.95 1593.6 530.28 1584.3 530.61 1573.2 530.94 1560.8 531.27 1547.8 531.59 1534.6 531.92 1521.7 532.25 1509.6 532.58 1498.9 532.90 1490.1 533.13 1485.5 533.23 1488.7 533.56 1501.4 533.89 1517.5 534.22 1536.0 534.54 1556.1 534.87 1576.9 535.20 1597.5 535.53 1617.0 535.86 1634.5 536.18 1649.2 536.47 1658.9 536.51 1657.8 536.84 1648.1 537.17 1635.4 537.49 1620.5 537.82 1604.3 538.15 1587.5 538.48 1570.9 538.81 1555.2 539.13 1541.4 539.46 1530.0 539.67 1524.5 539.79 1526.6 540.12 1534.5 540.45 1544.5 540.77 1555.5 541.10 1566.4 541.43 1575.7 541.76 1582.5 541.76 1582.5 542.08 1574.2 542.41 1563.0 542.74 1549.8 543.07 1535.7 543.40 1521.8 543.72 1509.1 544.05 1498.8 544.26 1494.0 544.38 1497.5 544.71 1510.1 545.04 1526.0 545.36 1544.2 545.69 1564.0 546.02 1584.4 546.35 1604.5 546.67 1623.6 547.00 1640.7 547.33 1654.9 547.60 1664.0 547.66 1662.3 547.99 1649.8 548.31 1633.7 548.64 1614.9 548.97 1594.4 549.30 1573.3 549.63 1552.4 549.95 1532.8 550.28 1515.4 550.61 1501.3 550.80 1494.8 550.94 1496.9 551.27 1503.1 551.59 1510.9 551.92 1519.8 552.25 1529.6 552.58 1539.8 552.90 1550.2 553.23 1560.5 553.56 1570.3 553.89 1579.3 554.22 1587.2 554.54 1593.6 554.70 1596.0 554.87 1594.8 555.20 1592.0 555.53 1588.6 555.86 1584.8 556.18 1580.6 556.51 1576.1 556.84 1571.4 557.17 1566.6 557.49 1561.6 557.82 1556.8 558.15 1552.0 558.48 1547.3 558.81 1543.0 559.13 1539.0 559.46 1535.4 559.79 1532.2 560.12 1529.7 560.13 1529.6 560.45 1533.6 560.77 1539.1 561.10 1545.5 561.43 1552.6 561.76 1560.2 562.08 1568.0 562.41 1575.6 562.74 1582.8 563.07 1589.3 563.40 1594.9 563.72 1599.2 563.75 1599.4 564.05 1596.5 564.38 1592.2 564.71 1587.2 565.04 1581.6 565.36 1575.7 565.69 1569.8 566.02 1564.1 566.35 1558.8 566.67 1554.3 567.00 1550.7 567.09 1550.0 567.33 1551.6 567.66 1554.6 567.99 1558.2 568.31 1562.1 568.64 1566.1 568.97 1569.8 569.30 1572.9 569.59 1575.0 569.63 1574.9 569.95 1573.2 570.28 1571.0 570.61 1568.5 570.94 1565.7 571.27 1562.9 571.59 1560.3 571.92 1558.0 572.25 1556.2 572.38 1555.6 572.58 1556.0 572.90 1556.7 573.23 1557.6 573.56 1558.5 573.89 1559.6 574.22 1560.8 574.54 1561.9 574.87 1563.1 575.20 1564.3 575.53 1565.5 575.86 1566.6 576.18 1567.7 576.51 1568.6 576.84 1569.5 577.17 1570.1 577.25 1570.3 577.49 1569.9 577.82 1569.4 578.15 1568.7 578.48 1567.9 578.81 1567.1 579.13 1566.2 579.46 1565.4 579.79 1564.6 580.12 1563.9 580.45 1563.4 580.73 1563.0 580.77 1563.0 581.10 1563.6 581.43 1564.4 581.76 1565.3 582.08 1566.2 582.41 1567.1 582.74 1567.7 582.82 1567.8 583.07 1567.2 583.40 1566.2 583.72 1565.1 584.05 1563.7 584.38 1562.4 584.71 1561.0 585.04 1559.7 585.36 1558.5 585.69 1557.6 585.88 1557.2 586.02 1557.8 586.35 1559.8 586.67 1562.2 587.00 1565.0 587.33 1567.9 587.66 1570.8 587.99 1573.5 588.31 1575.7 588.64 1577.5 588.66 1577.5 588.97 1576.0 589.30 1573.9 589.63 1571.4 589.95 1568.6 590.28 1565.7 590.61 1562.7 590.94 1560.0 591.27 1557.5 591.59 1555.4 591.87 1554.1 591.92 1554.3 592.25 1555.5 592.58 1557.0 592.90 1558.8 593.23 1560.8 593.56 1562.9 593.89 1565.1 594.22 1567.2 594.54 1569.3 594.87 1571.2 595.20 1572.9 595.53 1574.3 595.76 1575.1 595.86 1574.9 596.18 1573.6 596.51 1572.0 596.84 1570.2 597.17 1568.2 597.49 1566.2 597.82 1564.2 598.15 1562.5 598.48 1560.9 598.81 1559.8 598.82 1559.7 599.13 1560.4 599.46 1561.2 599.79 1562.2 600.12 1563.4 600.45 1564.5 600.77 1565.8 601.10 1566.9 601.43 1568.0 601.76 1569.0 602.08 1569.8 602.30 1570.2 602.41 1570.1 602.74 1569.3 603.07 1568.4 603.40 1567.3 603.72 1566.1 604.05 1565.0 604.38 1563.9 604.71 1563.0 605.04 1562.3 605.09 1562.2 605.36 1562.5 605.69 1563.0 606.02 1563.6 606.35 1564.3 606.67 1565.1 607.00 1565.8 607.33 1566.5 607.66 1567.2 607.99 1567.8 608.31 1568.3 608.57 1568.6 608.64 1568.6 608.97 1568.3 609.30 1567.9 609.63 1567.5 609.95 1567.0 610.28 1566.5 610.61 1566.0 610.94 1565.5 611.27 1565.1 611.59 1564.7 611.92 1564.3 612.05 1564.3 612.25 1564.4 612.58 1564.6 612.90 1564.9 613.23 1565.2 613.56 1565.5 613.89 1565.8 614.22 1566.1 614.54 1566.4 614.83 1566.5 614.87 1566.5 615.20 1566.5 615.53 1566.5 615.86 1566.5 616.18 1566.5 616.51 1566.5 616.84 1566.5 617.17 1566.5 617.49 1566.5 617.82 1566.5 618.15 1566.5 618.48 1566.5 618.81 1566.5 619.13 1566.5 619.46 1566.5 619.79 1566.5 620.12 1566.5 620.45 1566.5 620.77 1566.4 621.10 1566.4 621.43 1566.4 621.76 1566.4 622.08 1566.4 622.41 1566.4 622.74 1566.4 623.07 1566.4 623.40 1566.4 623.72 1566.4 624.05 1566.4 624.38 1566.4 624.71 1566.4 625.04 1566.4 625.36 1566.3 625.69 1566.3 626.02 1566.3 626.35 1566.3 626.67 1566.3 627.00 1566.3 627.33 1566.3 627.66 1566.3 627.99 1566.3 628.31 1566.3 628.64 1566.3 628.97 1566.2 629.30 1566.2 629.63 1566.2 629.95 1566.2 630.28 1566.2 630.61 1566.2 630.94 1566.2 631.27 1566.2 631.59 1566.1 631.92 1566.1 632.25 1566.1 632.58 1566.1 632.90 1566.1 633.23 1566.1 633.56 1566.1 633.89 1566.1 634.22 1566.0 634.54 1566.0 634.87 1566.0 635.20 1566.0 635.53 1566.0 635.86 1566.0 636.18 1565.9 636.51 1565.9 636.84 1565.9 637.10 1565.9" fill="none" stroke="#1f77b4" stroke-width="3.3" stroke-linejoin="round" stroke-linecap="butt"/>
<rect x="440.3" y="1415" width="350.6" height="300.2" fill="none" stroke="#161616" stroke-width="2"/>
<path d="M455.1 1715.9v10M616.6 1715.9v10M778.1 1715.9v10M439.6 1460.1h-10M439.6 1567.1h-10M439.6 1674.1h-10" stroke="#161616" stroke-width="2" fill="none"/>
<text class="tk" transform="translate(423.1 1472.93) scale(1 1.1)" text-anchor="end">1</text>
<text class="tk" transform="translate(423.1 1579.93) scale(1 1.1)" text-anchor="end">0</text>
<text class="tk" transform="translate(421.6 1686.93) scale(1 1.1)" text-anchor="end">−1</text>
<text class="tk" transform="translate(454.5 1757.8) scale(1 1.1)" text-anchor="middle">−50</text>
<text class="tk" transform="translate(616.6 1757.8) scale(1 1.1)" text-anchor="middle">0</text>
<text class="tk" transform="translate(775.7 1757.8) scale(1 1.1)" text-anchor="middle">50</text>
<clipPath id="hc9"><rect x="932" y="1415" width="298" height="300.2"/></clipPath>
<g clip-path="url(#hc9)">
<g shape-rendering="crispEdges">
<rect x="930.1" y="1413.9" width="37.85" height="38.15" fill="#f7fbff"/>
<rect x="967.45" y="1413.9" width="37.85" height="38.15" fill="#f7fbff"/>
<rect x="1004.8" y="1413.9" width="37.85" height="38.15" fill="#3181bd"/>
<rect x="1042.15" y="1413.9" width="37.85" height="38.15" fill="#2070b4"/>
<rect x="1079.5" y="1413.9" width="37.85" height="38.15" fill="#f7fbff"/>
<rect x="1116.85" y="1413.9" width="37.85" height="38.15" fill="#f7fbff"/>
<rect x="1154.2" y="1413.9" width="37.85" height="38.15" fill="#f7fbff"/>
<rect x="1191.55" y="1413.9" width="37.85" height="38.15" fill="#f7fbff"/>
<rect x="930.1" y="1451.55" width="37.85" height="38.15" fill="#f7fbff"/>
<rect x="967.45" y="1451.55" width="37.85" height="38.15" fill="#deebf7"/>
<rect x="1004.8" y="1451.55" width="37.85" height="38.15" fill="#08306b"/>
<rect x="1042.15" y="1451.55" width="37.85" height="38.15" fill="#08306b"/>
<rect x="1079.5" y="1451.55" width="37.85" height="38.15" fill="#08306b"/>
<rect x="1116.85" y="1451.55" width="37.85" height="38.15" fill="#1460a8"/>
<rect x="1154.2" y="1451.55" width="37.85" height="38.15" fill="#f7fbff"/>
<rect x="1191.55" y="1451.55" width="37.85" height="38.15" fill="#f7fbff"/>
<rect x="930.1" y="1489.2" width="37.85" height="38.15" fill="#f7fbff"/>
<rect x="967.45" y="1489.2" width="37.85" height="38.15" fill="#d2e3f3"/>
<rect x="1004.8" y="1489.2" width="37.85" height="38.15" fill="#08306b"/>
<rect x="1042.15" y="1489.2" width="37.85" height="38.15" fill="#2070b4"/>
<rect x="1079.5" y="1489.2" width="37.85" height="38.15" fill="#4191c6"/>
<rect x="1116.85" y="1489.2" width="37.85" height="38.15" fill="#08509b"/>
<rect x="1154.2" y="1489.2" width="37.85" height="38.15" fill="#f7fbff"/>
<rect x="1191.55" y="1489.2" width="37.85" height="38.15" fill="#f7fbff"/>
<rect x="930.1" y="1526.85" width="37.85" height="38.15" fill="#f7fbff"/>
<rect x="967.45" y="1526.85" width="37.85" height="38.15" fill="#eaf3fb"/>
<rect x="1004.8" y="1526.85" width="37.85" height="38.15" fill="#08306b"/>
<rect x="1042.15" y="1526.85" width="37.85" height="38.15" fill="#eaf3fb"/>
<rect x="1079.5" y="1526.85" width="37.85" height="38.15" fill="#2070b4"/>
<rect x="1116.85" y="1526.85" width="37.85" height="38.15" fill="#084082"/>
<rect x="1154.2" y="1526.85" width="37.85" height="38.15" fill="#f7fbff"/>
<rect x="1191.55" y="1526.85" width="37.85" height="38.15" fill="#f7fbff"/>
<rect x="930.1" y="1564.5" width="37.85" height="38.15" fill="#f7fbff"/>
<rect x="967.45" y="1564.5" width="37.85" height="38.15" fill="#f7fbff"/>
<rect x="1004.8" y="1564.5" width="37.85" height="38.15" fill="#1460a8"/>
<rect x="1042.15" y="1564.5" width="37.85" height="38.15" fill="#08306b"/>
<rect x="1079.5" y="1564.5" width="37.85" height="38.15" fill="#56a0ce"/>
<rect x="1116.85" y="1564.5" width="37.85" height="38.15" fill="#084082"/>
<rect x="1154.2" y="1564.5" width="37.85" height="38.15" fill="#deebf7"/>
<rect x="1191.55" y="1564.5" width="37.85" height="38.15" fill="#f7fbff"/>
<rect x="930.1" y="1602.15" width="37.85" height="38.15" fill="#f7fbff"/>
<rect x="967.45" y="1602.15" width="37.85" height="38.15" fill="#f7fbff"/>
<rect x="1004.8" y="1602.15" width="37.85" height="38.15" fill="#f7fbff"/>
<rect x="1042.15" y="1602.15" width="37.85" height="38.15" fill="#d2e3f3"/>
<rect x="1079.5" y="1602.15" width="37.85" height="38.15" fill="#f7fbff"/>
<rect x="1116.85" y="1602.15" width="37.85" height="38.15" fill="#56a0ce"/>
<rect x="1154.2" y="1602.15" width="37.85" height="38.15" fill="#3181bd"/>
<rect x="1191.55" y="1602.15" width="37.85" height="38.15" fill="#f7fbff"/>
<rect x="930.1" y="1639.8" width="37.85" height="38.15" fill="#f7fbff"/>
<rect x="967.45" y="1639.8" width="37.85" height="38.15" fill="#f7fbff"/>
<rect x="1004.8" y="1639.8" width="37.85" height="38.15" fill="#f7fbff"/>
<rect x="1042.15" y="1639.8" width="37.85" height="38.15" fill="#f7fbff"/>
<rect x="1079.5" y="1639.8" width="37.85" height="38.15" fill="#56a0ce"/>
<rect x="1116.85" y="1639.8" width="37.85" height="38.15" fill="#084082"/>
<rect x="1154.2" y="1639.8" width="37.85" height="38.15" fill="#c6dbef"/>
<rect x="1191.55" y="1639.8" width="37.85" height="38.15" fill="#f7fbff"/>
<rect x="930.1" y="1677.45" width="37.85" height="38.15" fill="#f7fbff"/>
<rect x="967.45" y="1677.45" width="37.85" height="38.15" fill="#f7fbff"/>
<rect x="1004.8" y="1677.45" width="37.85" height="38.15" fill="#56a0ce"/>
<rect x="1042.15" y="1677.45" width="37.85" height="38.15" fill="#2070b4"/>
<rect x="1079.5" y="1677.45" width="37.85" height="38.15" fill="#1460a8"/>
<rect x="1116.85" y="1677.45" width="37.85" height="38.15" fill="#d2e3f3"/>
<rect x="1154.2" y="1677.45" width="37.85" height="38.15" fill="#f7fbff"/>
<rect x="1191.55" y="1677.45" width="37.85" height="38.15" fill="#f7fbff"/>
</g>
<path d="M930.1 1411.9V1717.1M928.1 1413.9H1230.9M967.45 1411.9V1717.1M928.1 1451.55H1230.9M1004.8 1411.9V1717.1M928.1 1489.2H1230.9M1042.15 1411.9V1717.1M928.1 1526.85H1230.9M1079.5 1411.9V1717.1M928.1 1564.5H1230.9M1116.85 1411.9V1717.1M928.1 1602.15H1230.9M1154.2 1411.9V1717.1M928.1 1639.8H1230.9M1191.55 1411.9V1717.1M928.1 1677.45H1230.9M1228.9 1411.9V1717.1M928.1 1715.1H1230.9" stroke="#1612f0" stroke-width="2.9" fill="none"/>
</g>
<rect x="932" y="1415" width="298" height="300.2" fill="none" stroke="#08081c" stroke-width="2.3"/>
<path transform="scale(1.22 1)" d="M1134.36 1564.5 1134.69 1564.5 1135.02 1564.5 1135.35 1564.5 1135.68 1564.5 1136.00 1564.5 1136.33 1564.5 1136.66 1564.5 1136.99 1564.5 1137.32 1564.5 1137.64 1564.5 1137.97 1564.5 1138.30 1564.5 1138.63 1564.5 1138.95 1564.5 1139.28 1564.5 1139.61 1564.5 1139.94 1564.5 1140.27 1564.5 1140.59 1564.5 1140.92 1564.5 1141.25 1564.5 1141.58 1564.5 1141.91 1564.5 1142.23 1564.5 1142.56 1564.5 1142.89 1564.5 1143.22 1564.5 1143.54 1564.5 1143.87 1564.5 1144.20 1564.5 1144.53 1564.5 1144.53 1564.5 1144.86 1564.4 1145.18 1564.3 1145.51 1564.2 1145.84 1564.1 1146.17 1563.9 1146.50 1563.8 1146.82 1563.7 1147.15 1563.5 1147.48 1563.4 1147.73 1563.4 1147.81 1563.4 1148.13 1563.6 1148.46 1563.9 1148.79 1564.3 1149.12 1564.6 1149.45 1565.0 1149.77 1565.3 1150.10 1565.6 1150.43 1565.9 1150.76 1566.1 1150.79 1566.1 1151.09 1565.9 1151.41 1565.6 1151.74 1565.2 1152.07 1564.7 1152.40 1564.3 1152.73 1563.8 1153.05 1563.4 1153.38 1563.0 1153.71 1562.7 1153.85 1562.6 1154.04 1562.8 1154.36 1563.1 1154.69 1563.6 1155.02 1564.2 1155.35 1564.7 1155.68 1565.3 1156.00 1565.9 1156.33 1566.5 1156.66 1567.0 1156.99 1567.4 1157.32 1567.8 1157.33 1567.8 1157.64 1567.0 1157.97 1566.0 1158.30 1564.8 1158.63 1563.4 1158.95 1562.0 1159.28 1560.5 1159.61 1559.2 1159.94 1558.0 1160.27 1557.0 1160.53 1556.4 1160.59 1556.6 1160.92 1558.0 1161.25 1559.8 1161.58 1561.9 1161.91 1564.2 1162.23 1566.6 1162.56 1569.1 1162.89 1571.4 1163.22 1573.6 1163.54 1575.5 1163.87 1577.0 1164.01 1577.5 1164.20 1576.6 1164.53 1574.7 1164.86 1572.4 1165.18 1569.7 1165.51 1566.8 1165.84 1563.8 1166.17 1560.8 1166.50 1557.8 1166.82 1555.1 1167.15 1552.6 1167.48 1550.6 1167.77 1549.1 1167.81 1549.3 1168.13 1551.4 1168.46 1554.1 1168.79 1557.2 1169.12 1560.6 1169.45 1564.2 1169.77 1567.7 1170.10 1571.0 1170.43 1573.9 1170.76 1576.3 1170.97 1577.5 1171.09 1577.1 1171.41 1575.4 1171.74 1573.3 1172.07 1571.0 1172.40 1568.4 1172.73 1565.7 1173.05 1563.2 1173.38 1560.8 1173.71 1558.6 1174.04 1557.0 1174.17 1556.4 1174.36 1557.2 1174.69 1558.8 1175.02 1560.9 1175.35 1563.2 1175.68 1565.5 1176.00 1567.6 1176.33 1569.3 1176.54 1570.1 1176.66 1569.7 1176.99 1568.3 1177.32 1566.5 1177.64 1564.5 1177.97 1562.3 1178.30 1560.1 1178.63 1557.9 1178.95 1556.0 1179.28 1554.3 1179.60 1553.1 1179.61 1553.2 1179.94 1555.1 1180.27 1557.6 1180.59 1560.6 1180.92 1563.9 1181.25 1567.2 1181.58 1570.4 1181.91 1573.4 1182.23 1575.8 1182.52 1577.4 1182.56 1577.3 1182.89 1575.7 1183.22 1573.6 1183.54 1571.2 1183.87 1568.5 1184.20 1565.7 1184.53 1562.9 1184.86 1560.2 1185.18 1557.8 1185.51 1555.7 1185.84 1554.1 1185.86 1554.0 1186.17 1555.0 1186.50 1556.4 1186.82 1558.1 1187.15 1559.9 1187.48 1561.9 1187.81 1563.9 1188.13 1565.9 1188.46 1567.7 1188.79 1569.4 1189.12 1570.9 1189.45 1572.0 1189.48 1572.1 1189.77 1571.9 1190.10 1571.7 1190.43 1571.3 1190.76 1571.0 1191.09 1570.6 1191.15 1570.5 1191.41 1569.1 1191.74 1567.0 1192.07 1564.6 1192.40 1562.0 1192.73 1559.2 1193.05 1556.4 1193.38 1553.7 1193.71 1551.1 1194.04 1548.8 1194.36 1546.9 1194.63 1545.7 1194.69 1546.0 1195.02 1548.4 1195.35 1551.4 1195.68 1554.9 1196.00 1558.7 1196.33 1562.7 1196.66 1566.8 1196.99 1570.7 1197.32 1574.3 1197.64 1577.4 1197.97 1579.9 1198.11 1580.8 1198.30 1580.4 1198.63 1579.5 1198.95 1578.4 1199.28 1577.2 1199.61 1575.9 1199.94 1574.5 1200.27 1573.0 1200.59 1571.5 1200.92 1569.9 1201.25 1568.3 1201.58 1566.7 1201.91 1565.2 1202.23 1563.6 1202.56 1562.1 1202.89 1560.7 1203.22 1559.4 1203.54 1558.3 1203.87 1557.2 1204.20 1556.3 1204.38 1555.9 1204.53 1556.7 1204.86 1558.8 1205.18 1561.4 1205.51 1564.4 1205.84 1567.6 1206.17 1571.0 1206.50 1574.3 1206.82 1577.5 1207.15 1580.4 1207.48 1582.8 1207.81 1584.8 1207.86 1585.0 1208.13 1581.8 1208.46 1576.7 1208.79 1570.6 1209.12 1563.9 1209.45 1556.9 1209.77 1550.0 1210.10 1543.4 1210.43 1537.7 1210.76 1533.1 1210.92 1531.3 1211.09 1533.4 1211.41 1538.8 1211.74 1545.4 1212.07 1553.0 1212.40 1561.0 1212.73 1569.3 1213.05 1577.2 1213.38 1584.6 1213.71 1590.9 1214.04 1595.9 1214.12 1596.9 1214.36 1593.9 1214.69 1588.7 1215.02 1582.3 1215.35 1575.2 1215.68 1567.7 1216.00 1560.1 1216.33 1552.9 1216.66 1546.3 1216.99 1540.7 1217.32 1536.5 1217.32 1536.4 1217.64 1539.7 1217.97 1544.1 1218.30 1549.3 1218.63 1555.0 1218.95 1561.0 1219.28 1566.8 1219.61 1572.3 1219.94 1577.1 1220.27 1580.8 1220.38 1581.9 1220.59 1580.7 1220.92 1578.2 1221.25 1575.1 1221.58 1571.9 1221.91 1568.8 1222.23 1566.2 1222.47 1564.9 1222.56 1565.2 1222.89 1566.8 1223.22 1568.8 1223.54 1571.1 1223.87 1573.4 1224.20 1575.4 1224.53 1576.8 1224.56 1576.9 1224.86 1573.8 1225.18 1569.1 1225.51 1563.6 1225.84 1557.5 1226.17 1551.3 1226.50 1545.4 1226.82 1540.1 1227.15 1535.8 1227.34 1533.9 1227.48 1535.9 1227.81 1542.6 1228.13 1551.0 1228.46 1560.5 1228.79 1570.3 1229.12 1579.7 1229.45 1587.9 1229.77 1594.1 1229.85 1595.2 1230.10 1590.2 1230.43 1581.6 1230.76 1571.2 1231.09 1559.7 1231.41 1547.6 1231.74 1535.5 1232.07 1524.2 1232.40 1514.1 1232.73 1506.0 1232.91 1502.4 1233.05 1506.4 1233.38 1518.0 1233.71 1532.4 1234.04 1548.8 1234.36 1566.7 1234.69 1585.1 1235.02 1603.5 1235.35 1621.1 1235.68 1637.1 1236.00 1650.8 1236.33 1661.6 1236.39 1663.1 1236.66 1654.2 1236.99 1639.8 1237.32 1622.6 1237.64 1603.4 1237.97 1583.2 1238.30 1562.9 1238.63 1543.6 1238.95 1526.1 1239.28 1511.3 1239.59 1500.7 1239.61 1501.0 1239.94 1505.5 1240.27 1511.0 1240.59 1517.4 1240.92 1524.5 1241.25 1532.2 1241.58 1540.4 1241.91 1548.9 1242.23 1557.5 1242.56 1566.2 1242.89 1574.7 1243.22 1583.1 1243.54 1591.0 1243.87 1598.4 1244.20 1605.1 1244.53 1611.1 1244.86 1616.0 1245.02 1618.1 1245.18 1615.6 1245.51 1609.2 1245.84 1601.2 1246.17 1592.1 1246.50 1582.3 1246.82 1572.4 1247.15 1562.8 1247.48 1553.9 1247.81 1546.2 1248.13 1540.2 1248.22 1539.0 1248.46 1542.1 1248.79 1548.1 1249.12 1555.2 1249.45 1562.7 1249.77 1569.8 1250.10 1575.6 1250.31 1578.2 1250.43 1575.9 1250.76 1567.2 1251.09 1556.2 1251.41 1543.8 1251.74 1531.2 1252.07 1519.4 1252.40 1509.4 1252.68 1503.3 1252.73 1504.2 1253.05 1512.0 1253.38 1522.0 1253.71 1533.7 1254.04 1546.4 1254.36 1559.6 1254.69 1572.6 1255.02 1584.9 1255.35 1595.7 1255.68 1604.6 1255.88 1608.8 1256.00 1606.7 1256.33 1599.1 1256.66 1589.5 1256.99 1579.6 1257.32 1571.2 1257.55 1567.0 1257.64 1568.4 1257.97 1575.0 1258.30 1583.4 1258.63 1593.0 1258.95 1603.2 1259.28 1613.4 1259.61 1623.0 1259.94 1631.2 1260.27 1637.5 1260.33 1638.5 1260.59 1629.9 1260.92 1616.3 1261.25 1600.1 1261.58 1581.9 1261.91 1562.2 1262.23 1541.8 1262.56 1521.1 1262.89 1500.8 1263.22 1481.4 1263.54 1463.6 1263.87 1448.0 1264.20 1435.2 1264.38 1429.4 1264.53 1436.9 1264.86 1458.6 1265.18 1485.6 1265.51 1516.5 1265.84 1549.7 1266.17 1583.5 1266.50 1616.5 1266.82 1647.0 1267.15 1673.5 1267.48 1694.4 1267.58 1699.6 1267.81 1689.2 1268.13 1669.1 1268.46 1644.5 1268.79 1617.0 1269.12 1588.0 1269.45 1559.1 1269.77 1531.6 1270.10 1507.1 1270.43 1487.1 1270.65 1477.0 1270.76 1479.5 1271.09 1489.5 1271.41 1502.1 1271.74 1516.5 1272.07 1531.8 1272.40 1547.0 1272.73 1561.2 1273.05 1573.5 1273.38 1582.9 1273.43 1584.1 1273.71 1584.3 1274.04 1584.4 1274.36 1584.6 1274.69 1584.8 1274.82 1584.9 1275.02 1588.4 1275.35 1596.4 1275.68 1606.0 1276.00 1615.8 1276.33 1624.4 1276.63 1630.0 1276.66 1629.4 1276.99 1620.2 1277.32 1608.2 1277.64 1594.1 1277.97 1578.7 1278.30 1562.6 1278.63 1546.4 1278.95 1531.0 1279.28 1516.9 1279.61 1504.8 1279.94 1495.6 1279.97 1494.8 1280.27 1497.9 1280.59 1502.0 1280.92 1506.8 1281.25 1512.2 1281.58 1518.0 1281.91 1524.2 1282.23 1530.7 1282.56 1537.4 1282.89 1544.3 1283.22 1551.2 1283.54 1558.1 1283.87 1564.9 1284.20 1571.5 1284.53 1577.8 1284.86 1583.7 1285.18 1589.2 1285.51 1594.2 1285.84 1598.5 1286.17 1602.2 1286.24 1602.8 1286.50 1599.8 1286.82 1594.6 1287.15 1588.4 1287.48 1581.6 1287.81 1574.8 1288.13 1568.5 1288.46 1563.2 1288.74 1559.9 1288.79 1560.1 1289.12 1562.2 1289.45 1565.1 1289.77 1568.2 1290.10 1571.4 1290.43 1574.3 1290.76 1576.4 1290.83 1576.8 1291.09 1571.6 1291.41 1562.7 1291.74 1552.0 1292.07 1540.1 1292.40 1528.0 1292.73 1516.2 1293.05 1505.6 1293.38 1496.9 1293.61 1492.3 1293.71 1495.4 1294.04 1509.5 1294.36 1527.5 1294.69 1548.2 1295.02 1570.2 1295.35 1592.2 1295.68 1612.7 1296.00 1630.5 1296.33 1644.1 1296.40 1646.1 1296.66 1638.0 1296.99 1624.6 1297.32 1608.5 1297.64 1590.5 1297.97 1571.8 1298.30 1553.2 1298.63 1535.6 1298.95 1520.1 1299.28 1507.6 1299.46 1502.4 1299.61 1506.5 1299.94 1518.2 1300.27 1532.8 1300.59 1549.3 1300.92 1566.6 1301.25 1583.7 1301.58 1599.5 1301.91 1613.0 1302.23 1623.0 1302.24 1623.2 1302.56 1615.0 1302.89 1603.6 1303.22 1590.1 1303.54 1575.4 1303.87 1560.5 1304.20 1546.3 1304.53 1533.6 1304.86 1523.4 1305.03 1519.4 1305.18 1522.7 1305.51 1532.1 1305.84 1543.8 1306.17 1556.7 1306.50 1569.5 1306.82 1580.9 1307.15 1589.8 1307.25 1591.8 1307.48 1588.7 1307.81 1582.7 1308.13 1575.4 1308.46 1567.4 1308.79 1559.1 1309.12 1551.2 1309.45 1544.3 1309.77 1538.8 1309.90 1537.3 1310.10 1539.5 1310.43 1544.5 1310.76 1550.5 1311.09 1557.2 1311.41 1564.2 1311.74 1571.0 1312.07 1577.3 1312.40 1582.5 1312.68 1585.9 1312.73 1585.6 1313.05 1582.6 1313.38 1578.7 1313.71 1574.2 1314.04 1569.3 1314.36 1564.4 1314.69 1559.8 1315.02 1555.7 1315.35 1552.6 1315.47 1551.7 1315.68 1552.9 1316.00 1555.3 1316.33 1558.2 1316.66 1561.5 1316.99 1565.0 1317.32 1568.5 1317.64 1571.9 1317.97 1575.0 1318.30 1577.7 1318.63 1579.7 1318.67 1579.9 1318.95 1578.0 1319.28 1575.2 1319.61 1571.8 1319.94 1568.1 1320.27 1564.1 1320.59 1560.2 1320.92 1556.4 1321.25 1553.0 1321.58 1550.2 1321.87 1548.3 1321.91 1548.5 1322.23 1550.7 1322.56 1553.5 1322.89 1556.8 1323.22 1560.4 1323.54 1564.1 1323.87 1567.8 1324.20 1571.1 1324.53 1574.0 1324.86 1576.3 1324.93 1576.7 1325.18 1575.5 1325.51 1573.3 1325.84 1570.7 1326.17 1567.9 1326.50 1565.0 1326.82 1562.1 1327.15 1559.6 1327.48 1557.5 1327.71 1556.4 1327.81 1556.7 1328.13 1558.1 1328.46 1560.1 1328.79 1562.2 1329.12 1564.3 1329.45 1566.2 1329.77 1567.5 1329.80 1567.6 1330.10 1566.0 1330.43 1563.5 1330.76 1560.7 1331.09 1557.6 1331.41 1554.5 1331.74 1551.7 1332.07 1549.3 1332.31 1548.1 1332.40 1548.9 1332.73 1552.7 1333.05 1557.5 1333.38 1563.0 1333.71 1569.1 1334.04 1575.3 1334.36 1581.5 1334.69 1587.4 1335.02 1592.7 1335.35 1597.2 1335.65 1600.3 1335.68 1600.0 1336.00 1595.3 1336.33 1589.2 1336.66 1582.1 1336.99 1574.2 1337.32 1566.0 1337.64 1557.6 1337.97 1549.6 1338.30 1542.1 1338.63 1535.5 1338.95 1530.1 1339.13 1527.9 1339.28 1529.3 1339.61 1533.0 1339.94 1537.7 1340.27 1542.9 1340.59 1548.6 1340.92 1554.5 1341.25 1560.4 1341.58 1566.0 1341.91 1571.1 1342.23 1575.4 1342.56 1578.8 1342.61 1579.2 1342.89 1578.5 1343.22 1577.4 1343.54 1576.2 1343.87 1574.9 1344.20 1573.4 1344.53 1571.8 1344.86 1570.2 1345.18 1568.5 1345.51 1566.9 1345.84 1565.2 1346.17 1563.6 1346.50 1562.1 1346.82 1560.7 1347.15 1559.4 1347.48 1558.3 1347.81 1557.4 1347.90 1557.2 1348.13 1557.6 1348.46 1558.4 1348.79 1559.3 1349.12 1560.3 1349.45 1561.4 1349.77 1562.6 1350.10 1563.7 1350.43 1564.7 1350.76 1565.7 1351.09 1566.5 1351.38 1567.0 1351.41 1567.0 1351.74 1566.8 1352.07 1566.6 1352.40 1566.3 1352.73 1566.0 1353.05 1565.7 1353.38 1565.3 1353.71 1565.0 1354.04 1564.7 1354.16 1564.5 1354.36 1564.1 1354.69 1563.5 1355.02 1562.7 1355.35 1561.9 1355.68 1561.1 1356.00 1560.2 1356.33 1559.4 1356.66 1558.6 1356.99 1557.9 1357.32 1557.2 1357.64 1556.6 1357.92 1556.3 1357.97 1556.4 1358.30 1557.7 1358.63 1559.3 1358.95 1561.2 1359.28 1563.3 1359.61 1565.4 1359.94 1567.5 1360.27 1569.5 1360.59 1571.3 1360.92 1572.7 1361.12 1573.4 1361.25 1573.1 1361.58 1572.0 1361.91 1570.7 1362.23 1569.2 1362.56 1567.6 1362.89 1565.9 1363.22 1564.1 1363.54 1562.4 1363.87 1560.8 1364.20 1559.3 1364.53 1557.9 1364.86 1556.9 1365.02 1556.5 1365.18 1556.8 1365.51 1557.8 1365.84 1559.0 1366.17 1560.4 1366.50 1561.8 1366.82 1563.4 1367.15 1564.9 1367.48 1566.4 1367.81 1567.9 1368.13 1569.1 1368.46 1570.2 1368.78 1571.0 1368.79 1571.0 1369.12 1570.3 1369.45 1569.5 1369.77 1568.6 1370.10 1567.5 1370.43 1566.4 1370.76 1565.2 1371.09 1564.0 1371.41 1562.9 1371.74 1561.9 1372.07 1560.9 1372.40 1560.1 1372.67 1559.6 1372.73 1559.7 1373.05 1560.1 1373.38 1560.7 1373.71 1561.3 1374.04 1562.0 1374.36 1562.8 1374.69 1563.5 1375.02 1564.3 1375.35 1564.9 1375.68 1565.5 1376.00 1566.0 1376.15 1566.2 1376.33 1566.1 1376.66 1566.1 1376.99 1566.0 1377.32 1565.9 1377.64 1565.8 1377.97 1565.7 1378.30 1565.6 1378.63 1565.5 1378.95 1565.4 1379.28 1565.2 1379.61 1565.1 1379.94 1565.0 1380.27 1564.9 1380.59 1564.8 1380.92 1564.6 1381.25 1564.5 1381.58 1564.4 1381.91 1564.3 1382.23 1564.2 1382.56 1564.1 1382.89 1564.0 1383.22 1563.9 1383.54 1563.8 1383.87 1563.7 1384.09 1563.7 1384.20 1563.7 1384.53 1563.7 1384.86 1563.7 1385.18 1563.7 1385.51 1563.7 1385.84 1563.8 1386.17 1563.8 1386.50 1563.8 1386.82 1563.8 1387.15 1563.8 1387.48 1563.8 1387.81 1563.8 1388.13 1563.8 1388.46 1563.9 1388.79 1563.9 1389.12 1563.9 1389.45 1563.9 1389.77 1563.9 1390.10 1563.9 1390.43 1563.9 1390.76 1564.0 1391.09 1564.0 1391.41 1564.0 1391.74 1564.0 1392.07 1564.0 1392.40 1564.1 1392.73 1564.1 1393.05 1564.1 1393.38 1564.1 1393.71 1564.1 1394.04 1564.2 1394.36 1564.2 1394.69 1564.2 1395.02 1564.2 1395.35 1564.3 1395.68 1564.3 1396.00 1564.3 1396.33 1564.4 1396.66 1564.4 1396.99 1564.4 1397.32 1564.5 1397.64 1564.5 1397.97 1564.5 1398.00 1564.5" fill="none" stroke="#1f77b4" stroke-width="3.3" stroke-linejoin="round" stroke-linecap="butt"/>
<rect x="1370" y="1415" width="350.7" height="300.2" fill="none" stroke="#161616" stroke-width="2"/>
<path d="M1384.8 1715.9v10M1545.4 1715.9v10M1705.9 1715.9v10M1369.3 1444.8h-10M1369.3 1564.9h-10M1369.3 1685.1h-10" stroke="#161616" stroke-width="2" fill="none"/>
<text class="tk" transform="translate(1352.8 1457.63) scale(1 1.1)" text-anchor="end">1</text>
<text class="tk" transform="translate(1352.8 1577.73) scale(1 1.1)" text-anchor="end">0</text>
<text class="tk" transform="translate(1349.6 1697.93) scale(1 1.1)" text-anchor="end">−1</text>
<text class="tk" transform="translate(1384.2 1757.8) scale(1 1.1)" text-anchor="middle">−50</text>
<text class="tk" transform="translate(1545.4 1757.8) scale(1 1.1)" text-anchor="middle">0</text>
<text class="tk" transform="translate(1705.3 1757.8) scale(1 1.1)" text-anchor="middle">50</text>
<text class="lb" transform="translate(365.7 876.6) rotate(-90)" text-anchor="middle">electric field [a. u.]</text>
<text class="lb" transform="translate(1290.5 876.6) rotate(-90)" text-anchor="middle">electric field [a. u.]</text>
<text class="lb" x="511" y="1815.8" textLength="210" lengthAdjust="spacingAndGlyphs">time [fs]</text>
<text class="lb" x="1438.1" y="1815.8" textLength="210" lengthAdjust="spacingAndGlyphs">time [fs]</text>
</svg></body></html>
